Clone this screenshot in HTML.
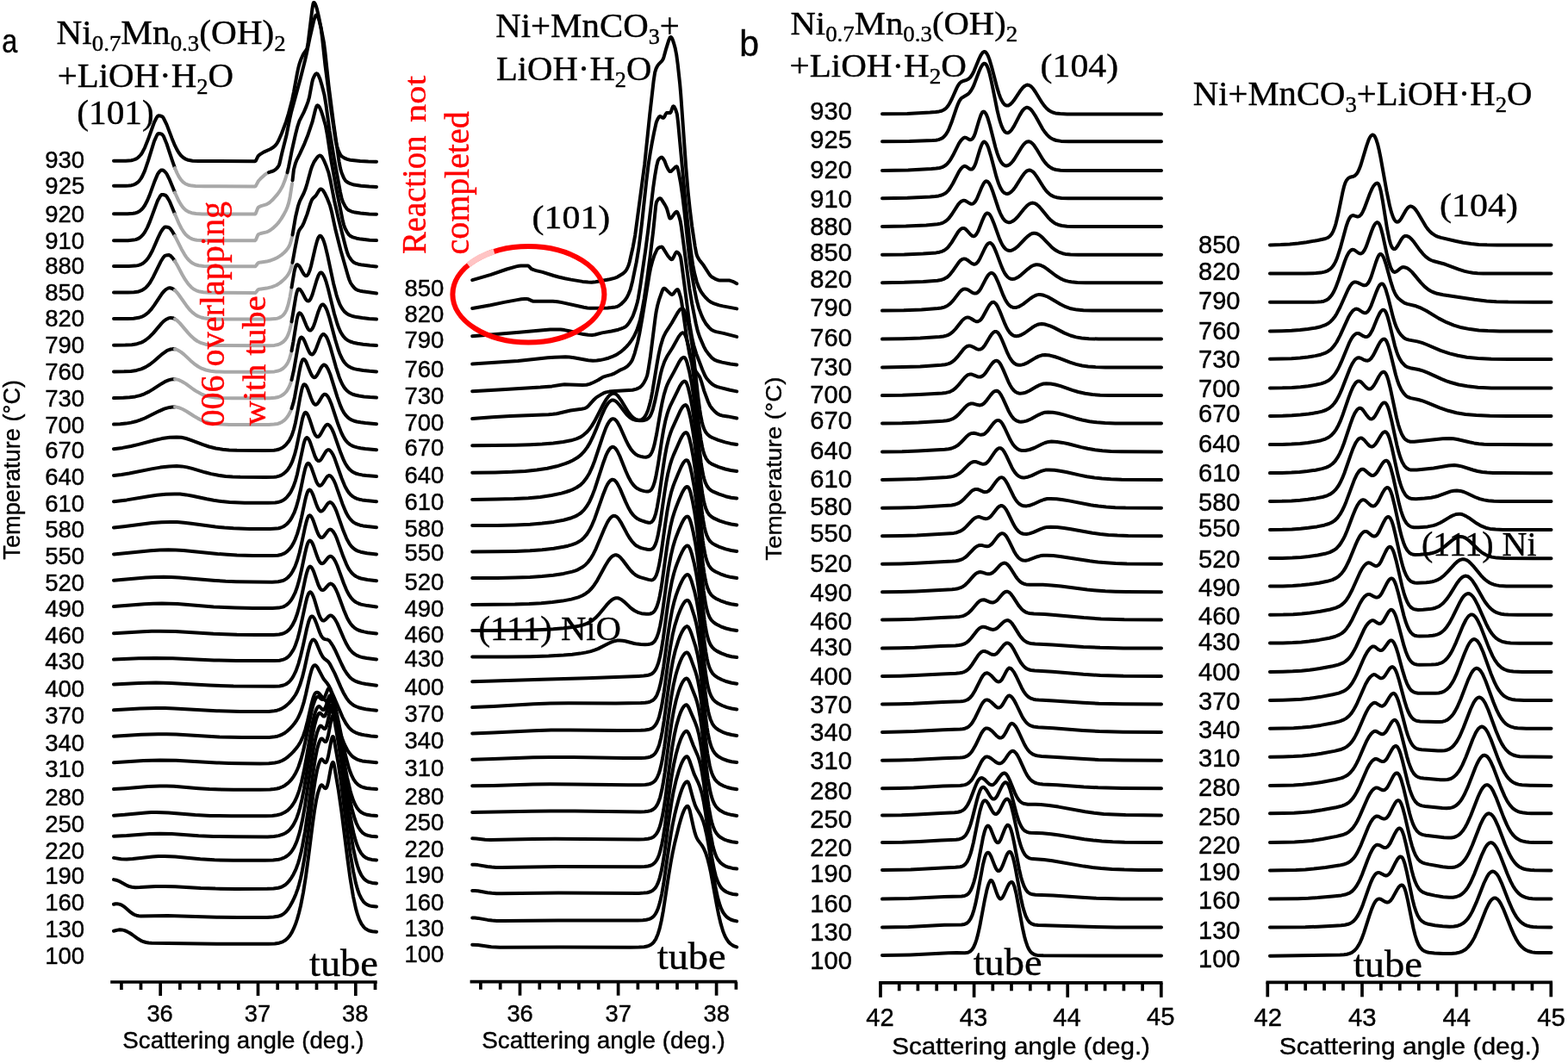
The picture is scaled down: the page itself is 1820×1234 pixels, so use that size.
<!DOCTYPE html><html><head><meta charset="utf-8"><title>XRD</title><style>html,body{margin:0;padding:0;background:#fff;width:1820px;height:1234px;overflow:hidden}svg{display:block}.g{stroke:#a8a8a8}</style></head><body><svg xmlns="http://www.w3.org/2000/svg" width="1820" height="1234" viewBox="0 0 1820 1234">
<rect width="100%" height="100%" fill="#fff"/>
<g fill="none" stroke="#000" stroke-width="4.00" stroke-linejoin="round" stroke-linecap="round">
<path d="M132.0,186.7 146.0,186.7 152.5,186.2 155.5,185.4 157.5,184.7 160.0,183.1 161.5,181.8 163.5,179.5 165.0,177.3 168.0,171.6 172.0,161.6 179.0,142.0 182.0,136.2 183.0,134.8 184.0,134.3 186.0,134.5 188.0,135.1 189.0,135.9 190.0,137.5 193.5,144.6 199.5,160.4 203.0,168.9 205.5,173.9 207.5,177.2 210.0,180.5 212.5,182.8 215.5,184.7 218.5,185.8 223.5,186.7 230.5,187.0 296.0,187.2 296.5,187.0 297.0,186.4 299.5,181.4 300.0,180.8 302.0,179.1 306.0,176.6 314.0,173.0 317.5,170.8 319.5,169.0 320.5,167.8 322.0,165.6 323.5,162.8 327.0,154.8 332.0,141.4 335.0,131.6 339.0,116.2 341.0,106.6 345.0,84.9 346.5,77.9 347.5,74.2 349.5,68.5 351.5,64.0 352.5,62.1 355.5,58.0 356.5,55.7 357.5,50.4 362.5,9.8 363.5,4.2 364.0,3.0 364.5,3.0 365.0,3.3 366.0,4.9 367.0,7.5 368.0,10.9 370.0,19.5 372.5,32.1 374.0,43.7 377.5,76.2 383.5,122.1 389.5,162.6 391.0,169.6 392.5,174.0 394.5,178.5 395.5,180.2 396.5,181.4 399.5,183.4 403.0,184.9 406.5,185.7 418.0,186.9 427.5,187.5 437.0,187.7"/>
<path d="M132.0,215.8 146.0,215.7 149.5,215.6 152.5,215.2 155.5,214.3 157.5,213.4 160.0,211.6 161.5,210.1 163.5,207.4 165.0,204.9 168.0,198.3 172.0,186.7 179.0,163.9 182.0,157.2 183.0,155.6 183.5,155.1 184.0,155.0 186.0,155.2 188.0,155.9 189.0,156.9 190.0,158.6 193.5,167.0 199.5,185.2 203.0,195.1"/>
<path class="g" d="M203.0,195.1 205.5,200.9 207.5,204.8 210.0,208.6 212.5,211.3 215.5,213.5 218.5,214.7 222.5,215.6 227.0,216.0 237.0,216.2 296.0,216.4 296.5,216.2 297.0,215.6 300.0,210.0 302.5,207.3 307.0,203.2 309.5,201.4 311.5,200.3"/>
<path d="M312.0,200.1 317.0,198.5 318.5,197.7 320.0,196.7 321.5,195.2 323.0,193.2 324.0,191.5 324.5,189.9 327.5,176.7 332.5,156.9 336.5,137.0 338.0,130.6 348.5,91.9 354.0,70.2 356.0,61.5 360.0,42.2 364.0,25.0 365.5,19.8 366.5,17.8 367.0,17.5 367.5,17.6 368.5,18.7 369.5,20.8 370.5,23.9 373.0,34.3 376.0,49.7 377.5,61.6 381.5,99.1 387.0,142.1 393.5,187.3 395.0,195.4 396.5,200.5 399.0,206.5 401.0,209.8 403.0,211.4 406.5,213.2 411.0,214.6 419.0,215.7 428.5,216.6 437.0,216.9"/>
<path d="M132.0,248.2 148.0,248.2 154.5,247.7 157.5,247.2 160.0,246.3 162.0,245.1 164.0,243.5 166.0,241.4 168.0,238.5 171.0,232.8 173.5,226.9 179.5,210.4 183.0,202.1 184.0,200.6 185.5,198.8 186.5,197.9 187.5,197.4 188.5,197.4 190.0,198.1 192.0,199.9 193.5,201.9 197.0,208.9 203.0,223.5"/>
<path class="g" d="M203.0,223.5 207.5,233.3 210.0,237.5 212.0,240.3 214.5,243.0 216.5,244.6 219.5,246.2 222.5,247.2 227.5,248.0 234.5,248.4 296.0,248.5 296.5,248.2 297.0,247.4 299.0,242.1 300.0,240.5 303.0,239.1 309.0,237.4 311.5,236.1 313.5,234.6 316.0,232.3 322.0,225.6 325.0,221.4 328.0,216.0 330.5,209.8 333.0,202.0"/>
<path d="M333.5,200.3 335.0,193.9 339.0,173.7 343.0,156.0 345.5,146.3 347.5,140.4 352.5,130.7 355.5,123.6 357.5,118.1 359.0,113.0 362.0,96.8 363.0,92.5 363.5,91.1 365.0,87.9 366.0,86.3 367.0,85.4 367.5,85.3 368.0,85.5 368.5,85.8 369.5,87.2 371.5,91.9 373.5,98.6 376.5,110.2 378.5,122.2 382.5,151.5 388.0,185.0 395.0,223.1 396.5,229.8 398.0,234.3 400.5,239.3 402.5,242.2 404.0,243.6 407.5,245.3 412.0,246.6 418.5,247.5 428.5,248.5 437.0,248.8"/>
<path d="M132.0,279.3 148.5,279.2 155.0,278.6 157.5,278.1 160.5,277.0 162.5,275.7 164.5,274.0 166.0,272.4 168.0,269.6 171.0,264.1 174.0,257.1 182.5,234.1 183.5,231.9 185.5,228.4 186.5,226.9 187.5,226.0 188.0,225.9 189.5,226.0 192.0,226.7 192.5,227.0 193.5,228.1 196.0,232.2 197.5,235.2 203.0,248.5"/>
<path class="g" d="M203.0,248.5 208.0,260.2 210.5,265.0 213.0,269.0 215.5,272.2 218.0,274.5 220.5,276.2 223.5,277.6 226.0,278.2 228.5,278.7 236.0,279.1 296.0,279.2 296.5,278.9 297.0,278.2 299.0,273.4 300.0,272.0 302.5,271.0 309.5,269.4 311.5,268.5 314.0,267.0 317.5,264.3 321.0,261.0 323.5,258.1 326.5,253.9 329.5,248.9 332.0,244.1 333.5,240.5 335.0,236.0 336.5,229.5 339.0,213.2"/>
<path d="M339.5,209.4 341.0,196.7 343.0,189.4 344.5,185.6 348.0,178.7 353.5,166.6 357.0,157.8 362.5,141.7 366.0,127.5 367.0,124.3 368.0,122.5 368.5,122.3 369.5,122.8 371.0,124.8 373.0,129.4 375.0,135.6 378.0,146.3 380.0,157.1 384.0,183.9 390.0,217.4 397.5,254.7 399.0,260.8 400.5,265.0 403.0,269.7 405.0,272.5 407.0,274.2 409.5,275.3 414.0,276.7 419.0,277.6 429.0,278.7 437.0,279.1"/>
<path d="M132.0,309.1 149.5,309.1 157.0,308.6 160.0,308.1 162.5,307.4 165.0,306.2 167.0,304.9 170.0,302.0 172.0,299.5 173.5,297.2 177.0,290.7 183.5,275.9 186.5,269.7 187.5,268.0 189.5,265.3 190.5,264.2 191.5,263.5 192.5,263.4 194.5,263.7 196.0,264.1 197.0,264.8 198.0,265.9 200.5,269.4 203.0,273.8"/>
<path class="g" d="M203.0,273.8 210.5,288.9 214.0,295.1 216.0,298.1 218.0,300.7 219.5,302.3 221.5,304.1 223.5,305.5 226.0,306.8 228.0,307.5 230.5,308.2 236.5,308.9 246.0,309.2 296.0,309.3 296.5,309.1 297.5,308.0 299.0,305.8 300.0,305.0 303.0,304.4 309.5,303.6 314.5,302.2 318.0,300.9 321.5,299.2 324.5,297.4 327.0,295.6 329.5,293.5 332.0,291.0 333.5,289.1 335.0,286.9 336.0,285.0 337.0,282.4 339.0,274.9"/>
<path d="M339.5,272.6 343.0,252.0 346.0,239.2 348.0,233.4 352.5,224.5 354.5,219.6 356.5,213.0 360.5,198.2 362.0,193.6 364.5,188.0 367.5,183.6 369.0,181.8 370.0,181.0 371.0,180.6 372.0,180.7 373.0,181.4 374.0,182.6 376.0,186.2 378.5,192.2 381.5,200.7 383.5,209.3 388.0,232.7 393.5,256.6 401.5,287.9 403.0,293.0 404.5,296.8 406.5,300.0 408.5,302.6 410.5,304.5 412.5,305.6 416.0,306.7 420.5,307.6 430.0,308.8 437.0,309.4"/>
<path d="M132.0,339.5 148.5,339.5 155.5,339.2 161.0,338.4 165.0,336.9 167.5,335.3 169.5,333.7 172.0,330.9 174.0,328.2 178.0,321.2 186.5,303.8 189.5,299.0 191.0,297.2 192.0,296.6 194.0,296.2 196.0,296.0 197.0,296.3 198.0,297.0 200.5,299.6 203.0,303.2"/>
<path class="g" d="M203.0,303.2 205.5,307.4 211.5,318.7 215.0,324.7 218.5,329.7 222.0,333.4 224.0,335.1 226.0,336.3 228.0,337.3 230.5,338.2 236.0,339.3 243.5,339.8 295.0,340.1 296.5,339.9 297.5,338.9 299.0,336.8 300.0,336.0 303.0,335.4 309.5,334.6 315.5,333.1 321.0,331.0 325.0,328.4 328.0,325.9 331.0,323.0 333.0,320.7 334.5,318.6 336.0,316.0 337.0,313.6 339.0,306.8"/>
<path d="M339.5,304.7 342.5,288.1 345.0,275.5 346.0,271.1 347.0,268.0 348.0,266.2 351.0,262.1 353.0,257.8 356.5,248.6 360.5,235.7 362.0,232.0 363.5,230.0 366.0,227.7 367.0,226.5 370.0,221.5 371.0,220.2 372.0,219.5 373.0,219.6 374.0,220.2 375.0,221.2 377.0,224.3 379.5,229.6 383.0,238.4 385.0,246.0 389.5,267.1 395.5,290.7 404.0,320.5 405.5,325.0 407.0,328.5 409.0,331.5 411.0,333.9 413.0,335.7 415.0,336.8 418.0,337.7 421.0,338.3 437.0,340.6"/>
<path d="M132.0,370.0 147.5,370.0 155.0,369.7 161.0,368.8 165.5,367.3 168.0,365.9 170.5,364.1 172.5,362.4 175.0,359.7 179.0,354.4 188.0,340.9 190.5,337.9 192.5,336.1 195.0,334.6 196.0,334.3 197.5,334.3 200.0,335.0 201.5,335.9 203.0,337.0"/>
<path class="g" d="M203.0,337.0 205.0,339.1 207.0,341.5 216.5,354.9 219.0,358.1 221.5,360.9 224.0,363.2 227.0,365.5 230.0,367.2 233.5,368.5 236.5,369.3 240.0,369.8 248.5,370.4 313.0,370.6 319.5,370.1 322.0,369.6 324.0,368.9 326.0,367.9 327.5,366.9 329.0,365.5 330.5,363.6 332.5,359.9 334.5,353.9 336.5,345.1 338.5,333.5"/>
<path d="M338.5,333.5 341.5,315.6 343.0,309.6 344.0,307.6 344.5,307.2 345.5,307.3 347.0,308.5 348.5,310.7 352.0,317.2 353.0,318.7 354.0,319.7 355.0,320.2 356.0,320.1 357.0,319.3 358.0,317.7 359.5,314.1 361.0,309.0 366.0,287.3 368.0,279.8 369.0,277.0 370.0,275.0 371.0,273.9 371.5,273.7 372.0,273.8 373.0,274.5 374.5,276.8 376.0,280.5 377.5,285.4 380.0,295.7 387.0,328.7 390.5,342.3 392.0,347.0 394.0,352.3 395.5,355.5 397.5,358.8 400.0,361.9 402.5,364.0 405.5,365.7 409.0,367.0 414.0,368.1 420.5,369.1 428.5,370.0 437.0,370.6"/>
<path d="M132.0,400.7 145.5,400.6 153.0,400.2 159.0,399.2 164.0,397.6 166.5,396.4 169.0,394.8 173.5,391.2 178.0,386.6 187.5,375.4 190.0,372.9 192.5,371.0 195.5,369.4 198.0,368.9 200.5,369.2 203.0,370.3"/>
<path class="g" d="M203.0,370.3 205.5,372.0 208.5,374.9 218.5,386.6 222.0,390.3 225.5,393.5 229.0,396.0 233.5,398.2 238.5,399.7 244.5,400.6 253.0,401.0 311.5,401.3 318.5,400.9 323.0,400.0 326.0,398.7 328.5,397.0 331.0,394.5 333.0,391.6 334.5,388.4 336.0,384.1 337.5,378.2 338.5,373.4"/>
<path d="M338.5,373.4 343.5,343.7 344.5,339.4 345.5,336.6 346.0,335.8 346.5,335.6 347.5,335.7 348.5,336.3 350.5,339.1 354.0,345.8 355.5,348.1 356.5,349.1 357.5,349.5 358.5,349.3 359.0,349.0 360.5,347.0 362.5,342.3 367.5,325.5 369.5,320.0 370.5,318.1 371.5,316.9 372.5,316.4 373.0,316.5 374.0,317.2 375.5,319.3 377.0,322.5 378.5,326.8 381.0,335.7 388.0,364.3 391.5,376.0 393.0,380.1 395.0,384.7 396.5,387.4 398.5,390.4 401.0,393.1 403.5,395.0 406.5,396.5 410.0,397.7 415.0,398.8 421.5,399.8 429.0,400.6 437.0,401.1"/>
<path d="M132.0,431.5 144.0,431.3 152.0,430.9 158.5,429.9 164.0,428.4 169.0,426.1 174.0,423.0 178.5,419.5 188.5,410.8 193.0,407.6 195.5,406.3 198.0,405.5 200.5,405.1 203.0,405.3"/>
<path class="g" d="M203.0,405.3 204.5,405.7 206.5,406.5 210.0,408.6 213.5,411.4 221.5,418.9 225.5,422.3 230.0,425.5 234.0,427.7 239.0,429.5 244.5,430.7 251.0,431.4 260.5,431.7 312.0,431.8 318.5,431.4 323.0,430.5 326.0,429.3 328.5,427.7 331.0,425.4 333.0,422.8 334.5,420.1 336.0,416.4 337.5,411.4 338.5,407.2"/>
<path d="M338.5,407.2 340.5,396.3 344.5,371.4 345.5,367.0 346.5,364.3 347.0,363.6 347.5,363.3 348.0,363.4 349.0,364.0 350.0,365.2 351.5,367.9 355.5,377.8 357.0,380.8 358.0,382.3 359.0,383.3 360.0,383.6 360.5,383.5 361.0,383.2 362.0,382.2 363.0,380.6 364.0,378.5 365.5,374.4 369.5,361.7 371.5,356.7 372.5,354.9 373.5,353.8 374.5,353.4 375.0,353.5 376.0,354.2 377.5,356.1 378.5,358.0 380.0,361.6 382.5,369.5 389.0,394.0 392.5,405.5 394.0,409.7 396.0,414.3 398.0,418.1 400.0,421.0 402.0,423.2 404.5,425.2 407.5,426.8 411.0,428.1 415.5,429.1 421.5,430.0 429.0,430.8 437.0,431.4"/>
<path d="M132.0,462.1 143.0,461.8 150.5,461.3 157.0,460.4 162.5,459.1 167.5,457.3 173.0,454.6 177.5,451.9 187.5,445.4 192.5,442.6 195.5,441.4 198.0,440.6 200.5,440.2 203.0,440.2"/>
<path class="g" d="M203.0,440.2 205.0,440.4 207.0,440.9 211.0,442.7 215.5,445.4 224.5,452.0 228.5,454.6 233.5,457.3 238.0,459.2 243.5,460.6 250.0,461.6 258.0,462.0 269.5,462.2 313.0,462.2 319.0,461.8 323.0,461.0 325.5,460.0 328.0,458.6 330.5,456.5 332.5,454.3 334.5,451.2 336.0,448.2 337.5,444.2 338.5,440.9"/>
<path d="M338.5,440.9 341.0,429.8 346.0,401.3 347.5,395.1 348.5,392.6 349.0,391.9 349.5,391.6 350.0,391.6 351.0,392.1 352.0,393.2 353.5,396.0 357.5,405.7 359.0,408.8 360.0,410.3 361.0,411.2 362.0,411.5 362.5,411.5 363.0,411.2 364.0,410.3 365.5,407.9 367.0,404.5 371.0,393.9 372.5,390.7 374.0,388.6 375.0,388.0 375.5,387.9 376.5,388.3 378.0,389.8 379.5,392.3 381.0,395.8 383.5,403.2 390.0,426.3 393.5,437.2 395.0,441.1 397.0,445.5 399.0,449.0 401.0,451.7 403.0,453.8 405.5,455.8 408.5,457.3 412.0,458.5 416.5,459.5 422.5,460.4 429.5,461.1 437.0,461.6"/>
<path d="M132.0,492.6 139.5,492.2 146.0,491.6 152.0,490.6 157.5,489.3 162.5,487.7 168.0,485.5 184.5,477.3 190.5,474.7 194.0,473.6 197.0,472.9 200.0,472.5 203.0,472.4"/>
<path class="g" d="M203.0,472.4 205.0,472.6 207.5,473.2 212.0,475.0 216.5,477.5 225.5,483.3 229.5,485.6 234.5,488.1 239.0,489.8 244.0,491.1 250.0,492.1 257.0,492.6 266.0,492.9 312.0,492.9 318.0,492.6 322.5,491.9 325.0,491.0 327.5,489.7 330.0,487.9 332.0,485.9 334.0,483.3 335.5,480.9 337.0,477.9 338.5,474.2"/>
<path d="M338.5,474.2 340.5,467.6 342.0,461.2 347.5,431.2 349.0,424.0 350.0,420.4 351.0,418.0 351.5,417.4 352.0,417.0 352.5,417.0 353.0,417.1 354.0,418.0 355.5,420.4 360.0,431.7 361.5,435.0 363.0,437.2 364.0,438.0 364.5,438.2 365.0,438.2 366.0,437.8 367.5,436.2 369.0,433.8 372.5,427.0 374.5,424.3 375.5,423.6 376.5,423.5 377.5,424.0 379.0,425.5 381.0,428.9 383.5,435.1 391.5,460.9 395.0,470.6 397.0,475.1 399.0,478.8 401.0,481.7 403.5,484.4 405.5,486.0 408.0,487.4 410.5,488.5 414.0,489.5 418.5,490.3 424.0,491.1 437.0,492.2"/>
<path d="M132.0,521.2 142.0,519.9 152.0,518.0 161.0,515.9 179.5,511.0 188.0,509.1 197.0,507.8 205.0,507.4 210.5,507.8 216.0,509.0 221.5,510.8 235.5,516.1 242.5,518.5 250.5,520.5 258.5,521.7 266.0,522.4 275.0,522.8 307.5,523.0 318.0,522.7 321.0,522.3 324.0,521.5 326.5,520.4 328.5,519.2 330.5,517.7 332.5,515.6 334.5,513.1 336.0,510.8 337.5,508.0 339.0,504.6 341.0,498.5 343.0,490.4 345.0,480.2 348.5,460.5 350.0,453.3 351.0,449.6 352.0,447.2 352.5,446.5 353.0,446.2 353.5,446.2 354.5,446.7 356.0,448.9 357.5,452.3 361.0,462.0 362.5,465.6 364.0,468.2 365.5,469.6 366.0,469.8 367.0,469.7 368.5,468.6 370.0,466.6 374.0,460.0 375.0,458.8 376.0,458.0 377.0,457.7 378.0,457.9 379.0,458.6 380.5,460.3 382.5,463.9 384.5,468.7 392.5,492.8 396.0,501.9 398.0,506.0 400.0,509.5 402.0,512.2 404.0,514.3 406.0,515.9 408.5,517.4 411.0,518.4 414.5,519.4 418.5,520.3 424.0,521.0 437.0,522.2"/>
<path d="M132.0,552.0 141.0,550.9 150.0,549.5 177.0,544.1 186.0,542.6 196.0,541.4 205.0,541.1 211.0,541.4 217.0,542.4 223.0,543.9 238.0,548.3 245.0,550.1 253.5,551.8 262.0,552.9 270.0,553.5 279.0,553.8 308.5,554.0 318.0,553.7 321.0,553.4 324.0,552.6 326.5,551.6 328.5,550.4 330.5,548.8 332.5,546.9 334.5,544.4 336.5,541.3 338.0,538.5 339.5,535.1 342.0,527.7 344.0,520.0 351.0,486.4 352.0,482.9 353.0,480.4 354.0,479.0 354.5,478.8 355.0,478.9 356.0,479.6 357.5,482.0 359.5,487.2 364.0,500.9 366.0,505.1 367.5,506.7 368.0,507.0 369.0,507.1 370.0,506.6 371.0,505.6 372.5,503.4 376.5,496.1 378.0,494.1 379.0,493.2 380.0,492.8 381.0,493.0 382.0,493.6 383.5,495.2 385.5,498.6 387.5,503.1 395.5,525.8 399.0,534.4 400.5,537.4 402.5,540.8 404.5,543.5 406.5,545.6 408.5,547.3 411.0,548.7 413.5,549.8 416.5,550.6 420.5,551.4 425.0,552.1 437.0,553.1"/>
<path d="M132.0,582.3 147.0,580.4 172.0,576.2 182.0,574.8 192.5,573.7 202.5,573.4 209.0,573.6 216.0,574.4 223.5,575.8 240.0,579.3 248.0,580.8 257.0,582.1 266.5,583.0 284.0,583.7 311.0,583.8 319.5,583.5 322.5,583.0 325.0,582.4 327.5,581.3 329.5,580.2 331.5,578.6 333.5,576.6 335.5,574.1 337.5,571.1 340.5,564.9 343.0,557.8 345.0,550.4 352.5,515.4 353.5,512.0 354.5,509.6 355.5,508.3 356.0,508.1 356.5,508.1 357.5,508.8 359.0,511.1 360.5,514.8 365.5,529.5 367.5,533.5 369.0,534.9 369.5,535.1 370.5,535.1 372.0,534.1 373.5,532.1 378.0,524.5 379.0,523.3 380.0,522.5 381.0,522.1 382.0,522.3 383.0,522.9 384.5,524.5 386.5,527.8 388.5,532.3 396.5,555.0 400.0,563.6 401.5,566.6 403.5,570.0 405.5,572.7 407.5,574.8 409.5,576.4 411.5,577.6 414.0,578.8 417.0,579.7 420.5,580.4 425.0,581.1 437.0,582.2"/>
<path d="M132.0,612.5 143.5,611.2 176.5,607.1 187.5,606.2 197.5,605.9 205.5,606.1 213.5,606.8 222.0,607.8 250.0,611.6 260.5,612.6 271.0,613.3 289.5,613.9 313.5,614.0 321.0,613.6 323.5,613.2 326.0,612.5 328.5,611.5 330.5,610.3 332.5,608.7 334.5,606.8 336.5,604.3 338.5,601.2 341.5,595.2 344.0,588.3 346.5,579.3 349.0,568.2 352.5,551.2 354.0,544.9 355.0,541.7 356.0,539.3 357.0,538.0 357.5,537.8 358.0,537.8 359.0,538.5 360.5,540.8 362.0,544.3 367.0,558.6 368.0,560.7 369.0,562.3 370.5,563.7 371.0,563.8 372.0,563.7 373.5,562.6 375.0,560.6 379.0,554.3 380.0,553.1 381.0,552.3 382.0,552.0 383.0,552.2 384.0,552.8 385.5,554.4 387.5,557.8 389.5,562.3 397.5,584.9 401.0,593.5 402.5,596.5 404.5,599.9 406.5,602.6 408.5,604.7 410.5,606.4 412.5,607.6 415.0,608.7 418.0,609.7 421.5,610.4 426.0,611.1 437.0,612.3"/>
<path d="M132.0,643.4 174.5,639.2 185.5,638.5 195.5,638.3 204.0,638.5 213.0,639.0 252.5,643.0 263.5,643.8 275.0,644.4 293.5,644.9 315.5,645.1 322.5,644.7 327.0,643.7 329.5,642.7 331.5,641.5 333.5,639.9 335.5,637.9 337.5,635.5 339.0,633.3 341.0,629.7 342.5,626.5 345.0,619.9 347.5,611.2 350.0,600.6 354.0,581.6 355.5,575.6 356.5,572.4 357.5,570.1 358.5,568.9 359.0,568.6 359.5,568.6 360.5,569.2 362.0,571.5 363.5,574.9 367.0,585.0 368.5,588.8 370.0,591.6 371.5,593.2 372.0,593.5 373.0,593.6 374.5,592.8 376.0,591.1 380.0,585.2 381.0,584.1 382.0,583.3 383.0,583.0 384.0,583.2 385.5,584.4 386.5,585.5 388.5,588.9 390.5,593.4 398.5,616.1 402.0,624.6 403.5,627.6 405.5,631.1 407.5,633.8 409.5,635.9 411.5,637.5 413.5,638.8 416.0,639.9 418.5,640.7 426.0,642.3 437.0,643.5"/>
<path d="M132.0,673.8 169.0,670.5 180.0,669.9 190.0,669.7 198.5,669.9 208.0,670.4 250.0,673.9 262.0,674.7 274.0,675.2 293.5,675.6 316.0,675.7 323.0,675.3 327.5,674.3 330.0,673.3 332.0,672.1 334.0,670.5 336.0,668.4 338.0,665.9 339.5,663.5 342.5,657.6 345.0,650.8 347.5,642.0 350.0,631.2 354.0,612.3 356.0,604.3 357.0,601.4 358.0,599.4 358.5,598.8 359.5,598.3 360.0,598.4 361.0,599.2 362.5,601.7 364.0,605.3 367.5,615.5 369.0,619.3 370.5,622.1 372.0,623.7 372.5,624.0 373.5,624.1 375.0,623.4 376.5,621.8 380.5,616.4 381.5,615.4 382.5,614.8 383.5,614.6 384.5,614.9 385.5,615.7 387.0,617.4 389.0,620.8 391.0,625.3 398.5,646.3 402.0,654.8 403.5,657.9 405.5,661.4 407.5,664.1 409.5,666.3 411.5,668.0 413.5,669.3 416.0,670.5 419.0,671.5 426.5,673.0 437.0,674.2"/>
<path d="M132.0,704.1 167.5,701.2 178.0,700.7 188.0,700.5 196.5,700.7 206.0,701.1 248.0,704.4 260.5,705.1 273.0,705.6 293.5,706.0 316.5,706.0 323.5,705.6 328.0,704.6 330.0,703.8 332.0,702.6 334.0,701.1 336.0,699.1 338.0,696.5 339.5,694.2 342.5,688.2 345.0,681.3 347.5,672.4 350.0,661.5 354.0,642.5 356.0,634.3 357.0,631.2 358.0,629.0 359.0,627.8 359.5,627.6 360.0,627.6 361.0,628.2 362.5,630.4 364.0,633.9 368.0,645.6 369.5,649.3 371.0,652.2 372.5,653.8 373.0,654.1 374.0,654.2 375.5,653.6 377.0,652.1 381.0,647.1 382.0,646.3 383.0,645.8 384.0,645.8 385.0,646.2 386.0,647.0 387.5,648.8 389.5,652.2 391.5,656.7 399.0,677.3 402.0,684.6 404.0,688.6 405.5,691.2 407.5,694.0 409.5,696.3 411.5,698.0 413.5,699.3 416.0,700.5 419.0,701.6 426.5,703.1 437.0,704.4"/>
<path d="M132.0,735.2 165.5,733.2 176.0,732.8 185.5,732.7 203.5,733.1 248.0,735.8 275.0,736.7 297.0,736.9 317.5,736.9 324.0,736.5 328.5,735.5 330.5,734.6 332.5,733.5 334.5,731.9 336.5,729.8 339.5,725.5 342.5,719.5 345.0,712.5 347.5,703.5 349.5,694.8 354.5,671.1 356.0,665.1 357.0,661.8 358.0,659.5 359.0,658.0 360.0,657.6 360.5,657.7 361.5,658.5 363.0,661.0 364.5,664.6 369.5,679.0 371.5,683.0 373.0,684.7 373.5,684.9 374.5,685.1 376.0,684.6 377.5,683.2 381.5,678.7 382.5,678.0 383.5,677.6 384.5,677.7 385.5,678.2 386.5,679.1 388.0,680.9 390.0,684.5 392.0,689.0 399.0,707.9 402.5,716.3 404.0,719.3 406.0,722.7 407.5,724.8 409.5,727.1 411.5,728.8 413.5,730.2 416.0,731.5 419.0,732.5 422.5,733.4 426.5,734.2 437.0,735.4"/>
<path d="M132.0,765.6 161.0,764.2 180.0,763.9 200.5,764.3 248.5,766.4 274.5,767.0 318.5,767.1 324.5,766.7 329.0,765.6 331.5,764.5 333.5,763.2 335.5,761.4 337.0,759.7 340.0,755.2 341.5,752.3 343.0,748.7 345.5,741.3 347.5,733.8 354.5,701.3 356.0,695.2 357.0,691.9 358.0,689.4 359.0,687.9 360.0,687.3 360.5,687.4 361.5,688.2 362.5,689.8 363.5,692.0 365.0,696.2 370.0,712.8 371.5,716.5 373.0,719.1 374.5,720.4 375.5,720.6 376.5,720.3 378.0,719.1 381.5,715.5 382.5,714.8 383.5,714.4 385.0,714.7 387.0,716.4 389.0,719.1 391.5,723.6 399.0,741.0 402.0,747.3 405.0,752.4 406.5,754.5 408.5,756.7 410.5,758.5 413.0,760.2 415.5,761.4 418.0,762.3 421.5,763.3 425.5,764.0 437.0,765.5"/>
<path d="M132.0,794.4 161.5,792.9 181.0,792.6 198.0,793.0 243.0,795.5 271.0,796.5 318.0,796.8 324.5,796.5 329.0,795.5 331.5,794.5 333.5,793.2 335.5,791.6 337.0,790.0 339.0,787.4 340.5,785.0 343.5,778.8 346.5,770.3 349.0,761.3 352.0,748.6 356.0,730.3 358.0,722.5 359.0,719.5 360.0,717.2 361.0,715.8 362.0,715.4 362.5,715.4 363.5,716.1 364.5,717.4 365.5,719.3 367.0,722.9 371.0,734.0 372.5,737.4 373.5,739.1 374.5,740.4 376.0,741.6 377.5,742.1 380.0,742.5 381.5,743.2 382.5,744.1 384.0,746.1 386.5,750.0 389.0,754.7 396.5,771.0 399.5,777.0 402.5,781.8 405.5,785.6 407.5,787.5 410.0,789.3 413.0,790.9 416.0,792.0 420.0,793.1 424.5,794.0 437.0,795.7"/>
<path d="M132.0,824.3 162.5,822.5 181.5,822.0 191.5,822.1 202.5,822.5 251.5,825.2 279.0,825.9 301.5,826.0 312.0,825.9 318.5,825.3 321.5,824.7 324.0,823.9 327.0,822.6 330.0,820.8 332.5,818.9 335.5,816.1 338.5,812.8 341.0,809.5 343.0,806.5 345.0,802.8 348.0,795.6 351.0,785.9 353.5,775.7 357.5,757.5 359.5,749.7 360.5,746.7 361.5,744.5 362.5,743.0 363.5,742.5 364.0,742.5 365.0,743.1 366.0,744.3 367.0,745.9 372.0,757.7 374.5,762.4 376.5,764.7 381.0,768.2 383.0,771.0 388.5,781.6 395.5,797.6 398.5,803.9 402.0,810.1 405.0,814.1 407.5,816.5 410.0,818.4 413.0,820.0 416.0,821.2 420.0,822.3 424.5,823.2 430.5,824.1 437.0,824.7"/>
<path d="M132.0,854.7 164.0,852.7 183.5,852.2 193.5,852.3 204.5,852.6 254.0,855.4 281.0,856.0 302.0,856.1 312.5,856.0 319.0,855.3 322.0,854.7 324.5,853.9 327.5,852.6 330.5,850.9 333.0,849.0 336.0,846.3 339.0,843.2 342.0,839.5 344.5,835.9 346.5,832.3 349.5,825.4 352.5,815.9 355.0,805.8 359.5,785.5 361.5,778.2 362.5,775.5 363.5,773.5 364.5,772.4 365.5,772.2 366.0,772.3 367.0,772.9 368.5,774.8 375.0,787.1 376.5,789.3 380.0,793.6 382.0,796.7 387.0,807.8 397.5,832.4 401.5,839.8 405.0,844.6 407.5,847.1 410.0,849.0 413.0,850.6 416.0,851.7 420.0,852.8 424.5,853.6 430.5,854.4 437.0,855.0"/>
<path d="M132.0,885.3 166.5,883.0 186.0,882.4 204.5,882.8 251.5,885.4 265.5,885.9 281.0,886.2 301.5,886.4 312.0,886.2 319.0,885.5 322.0,884.9 324.5,884.2 327.5,883.0 330.5,881.3 333.5,879.2 337.0,876.1 340.5,872.6 344.0,868.5 346.5,865.1 349.0,860.9 352.0,854.2 354.5,846.6 357.0,836.9 361.5,817.2 363.5,810.1 364.5,807.4 365.5,805.4 366.5,804.2 367.0,803.9 368.0,803.7 369.0,803.9 370.5,805.1 375.5,811.1 380.5,815.8 382.5,818.7 384.0,821.9 387.0,829.6 396.0,854.4 399.0,862.0 401.0,866.5 403.0,870.3 404.5,872.7 406.5,875.4 408.5,877.6 411.0,879.6 414.0,881.3 417.0,882.5 420.5,883.4 425.0,884.1 437.0,885.2"/>
<path d="M132.0,916.1 145.5,915.2 172.0,913.0 185.5,912.4 193.5,912.4 202.0,912.8 230.5,915.2 243.0,916.0 256.0,916.4 271.0,916.7 302.0,916.7 313.5,916.4 318.0,916.0 321.5,915.5 324.5,914.7 327.5,913.5 330.5,911.9 333.5,909.7 336.0,907.4 338.5,904.6 341.0,901.1 343.0,897.7 345.0,893.6 346.5,890.0 349.5,881.0 352.0,871.5 355.0,858.2 361.5,826.3 363.5,818.5 365.5,812.8 366.5,810.9 367.5,809.6 368.5,808.8 369.0,808.6 369.5,808.7 370.5,809.3 372.5,811.2 373.5,811.9 374.5,812.1 375.5,811.5 377.0,809.1 380.5,800.3 381.5,798.8 382.0,798.5 382.5,798.5 383.0,799.0 383.5,799.9 387.5,813.8 391.0,828.7 398.5,865.5 401.5,878.9 405.0,891.7 406.5,896.1 408.5,900.9 410.5,904.8 413.0,908.4 415.5,910.9 418.5,912.8 421.5,914.0 425.5,915.0 430.5,915.6 437.0,916.1"/>
<path d="M132.0,946.7 144.5,945.8 169.0,943.4 175.5,943.0 181.5,942.9 195.5,943.4 226.5,946.0 244.0,946.9 268.0,947.3 308.5,947.3 316.0,947.0 321.5,946.3 326.0,945.1 330.0,943.3 333.0,941.4 335.5,939.2 338.0,936.5 340.0,933.8 342.0,930.5 344.0,926.4 346.0,921.3 347.5,916.8 350.0,907.7 353.0,894.0 356.0,877.8 361.0,848.3 363.0,837.9 365.0,829.6 366.5,825.0 367.5,822.8 368.5,821.1 369.5,820.1 370.0,820.0 370.5,820.0 371.5,820.7 373.5,823.0 374.5,823.9 375.5,824.0 376.5,823.3 378.0,820.5 381.5,809.6 382.5,807.7 383.0,807.3 383.5,807.3 384.0,807.9 384.5,809.0 389.0,827.5 393.0,847.5 400.0,887.3 403.0,902.9 406.5,917.8 408.0,923.0 410.0,928.9 412.0,933.5 414.5,937.9 417.0,941.0 419.5,943.1 422.5,944.7 426.0,945.8 430.5,946.5 437.0,947.0"/>
<path d="M132.0,970.7 147.0,970.0 173.5,968.0 185.5,967.7 199.5,968.1 230.5,970.2 248.0,970.9 273.0,971.3 310.5,971.4 318.0,971.0 323.5,970.1 328.0,968.7 332.0,966.7 334.5,964.8 337.0,962.3 339.0,959.8 341.0,956.7 343.0,952.7 344.5,949.2 346.5,943.4 348.0,938.3 350.5,928.0 353.0,915.4 356.0,897.6 363.0,852.8 365.0,842.5 367.0,834.9 368.0,832.1 369.0,830.0 370.0,828.4 371.0,827.7 371.5,827.8 372.5,828.4 374.5,830.8 375.5,831.6 376.5,831.6 377.5,830.6 379.0,826.8 382.5,813.2 383.5,810.7 384.0,810.2 384.5,810.1 385.0,810.7 385.5,811.9 386.0,813.9 389.5,830.2 392.0,843.2 395.0,860.8 402.0,905.4 405.5,925.2 408.5,939.0 411.5,949.8 413.5,955.3 416.0,960.5 418.5,964.2 421.0,966.8 424.0,968.8 427.0,969.9 431.0,970.8 437.0,971.3"/>
<path d="M132.0,995.9 140.5,997.3 147.0,997.5 154.0,997.0 177.0,994.4 184.0,994.0 191.0,994.0 203.5,994.6 232.5,997.3 249.0,998.3 271.0,998.8 307.5,998.8 317.0,998.5 323.5,997.7 326.0,997.1 328.5,996.2 331.0,995.0 333.0,993.8 335.5,991.7 337.5,989.6 339.5,986.8 341.5,983.4 343.5,979.1 345.0,975.2 347.0,968.9 348.5,963.2 351.0,952.0 354.0,935.4 364.0,868.8 366.0,858.3 368.0,850.4 370.0,845.3 371.0,843.5 372.0,842.6 373.0,842.8 375.5,845.4 376.5,846.0 377.0,846.0 377.5,845.7 378.0,845.1 379.0,842.9 380.0,839.4 383.0,824.9 384.0,821.0 385.0,818.8 385.5,818.7 386.0,819.2 386.5,820.5 387.0,822.6 392.0,849.0 395.5,871.3 402.5,921.5 405.5,941.3 409.0,960.5 410.5,967.2 412.5,974.9 414.5,981.0 416.5,985.8 419.0,990.3 421.5,993.3 424.5,995.6 427.5,997.0 431.5,997.9 437.0,998.5"/>
<path d="M132.0,1021.1 135.0,1021.7 138.0,1022.8 146.5,1027.5 149.5,1028.9 153.0,1029.8 157.0,1030.2 162.5,1030.1 180.5,1029.1 191.5,1029.0 203.5,1029.3 233.0,1031.0 250.0,1031.6 274.0,1031.9 310.0,1031.8 317.5,1031.5 323.0,1030.7 325.5,1030.0 327.5,1029.3 331.0,1027.2 333.5,1025.0 336.0,1022.1 338.5,1018.6 340.5,1015.2 342.5,1011.2 344.0,1007.7 346.0,1002.1 347.5,997.1 349.5,989.2 351.0,982.2 354.0,965.5 357.5,941.7 364.0,892.9 366.0,880.1 368.0,870.0 370.0,862.9 371.5,859.3 372.5,857.7 373.0,857.4 373.5,857.4 374.0,857.6 376.5,860.4 377.5,861.1 378.0,861.0 378.5,860.7 379.5,858.9 381.0,853.6 384.5,835.3 385.5,831.9 386.0,831.0 386.5,830.8 387.0,831.3 387.5,832.7 388.0,835.0 393.0,863.7 396.5,887.9 403.5,942.4 406.5,963.9 410.0,984.7 413.0,998.4 415.0,1005.4 417.0,1011.0 419.5,1016.1 422.0,1019.6 423.5,1021.1 425.0,1022.3 428.0,1023.9 432.0,1024.9 437.0,1025.5"/>
<path d="M132.0,1049.8 134.0,1049.3 136.0,1049.2 138.5,1049.6 140.5,1050.3 142.5,1051.4 144.5,1052.8 151.5,1058.9 154.5,1061.0 156.5,1062.1 158.5,1062.7 161.0,1063.2 163.5,1063.4 194.5,1063.0 251.5,1064.7 276.5,1064.9 310.0,1064.9 317.5,1064.5 322.5,1063.8 326.5,1062.5 329.5,1060.6 332.0,1058.3 334.0,1055.8 336.5,1052.0 339.0,1047.6 341.5,1042.4 343.5,1037.7 345.5,1032.1 347.0,1027.1 349.0,1019.4 350.5,1012.5 354.0,992.7 357.5,968.2 364.0,917.9 366.0,904.8 368.0,894.3 370.0,887.0 371.5,883.3 372.5,881.7 373.0,881.4 373.5,881.3 374.0,881.6 376.5,884.5 377.5,885.2 378.0,885.2 378.5,884.9 379.5,883.2 381.0,878.0 384.5,859.5 385.5,856.1 386.0,855.2 386.5,855.0 387.0,855.6 387.5,857.0 388.0,859.3 393.0,888.5 396.5,913.1 403.5,968.5 406.5,990.3 410.0,1011.4 413.0,1025.3 415.0,1032.5 417.0,1038.1 419.5,1043.2 422.0,1046.8 423.5,1048.3 425.0,1049.5 428.0,1051.1 432.0,1052.1 437.0,1052.6"/>
<path d="M132.0,1080.8 136.5,1079.6 139.0,1079.2 141.5,1079.4 144.5,1080.1 147.5,1081.4 150.5,1083.0 153.5,1085.0 160.5,1090.1 164.5,1092.4 167.0,1093.3 169.5,1094.0 172.5,1094.5 176.0,1094.8 251.5,1095.8 311.5,1095.8 319.0,1095.5 324.0,1094.7 328.0,1093.4 331.5,1091.3 334.0,1089.1 336.5,1086.0 339.0,1081.9 341.0,1077.7 343.0,1072.8 345.0,1066.9 347.0,1059.8 349.0,1051.5 352.0,1036.1 355.0,1017.1 357.5,998.8 363.0,955.5 365.0,941.2 367.0,929.3 369.0,920.3 371.0,914.4 372.0,912.4 372.5,911.7 373.0,911.3 373.5,911.3 374.0,911.5 376.5,914.5 377.5,915.2 378.0,915.2 378.5,914.8 379.0,914.2 380.0,911.7 381.0,907.8 384.0,891.7 385.0,887.3 386.0,885.0 386.5,884.8 387.0,885.3 387.5,886.7 388.0,889.0 393.0,918.2 396.5,942.7 403.5,997.9 406.5,1019.7 410.0,1040.8 413.0,1054.6 415.0,1061.7 417.0,1067.3 419.5,1072.4 422.0,1075.9 423.5,1077.5 425.0,1078.6 428.0,1080.2 432.0,1081.2 437.0,1081.7"/>
<path d="M548.2,325.2 569.7,318.9 588.2,312.5 599.2,309.4 602.2,308.8 604.7,308.5 613.2,308.6 614.2,309.3 616.7,312.1 619.2,313.2 622.2,314.1 629.7,315.9 642.7,320.0 648.2,321.5 655.7,323.2 662.7,324.6 676.2,326.9 682.7,327.6 686.7,327.7 691.2,327.2 707.7,324.2 713.2,322.9 715.2,322.2 716.7,321.5 723.2,317.5 725.7,315.2 727.2,313.1 728.7,310.1 729.7,307.7 730.7,304.2 734.7,286.7 737.2,273.1 748.2,190.8 754.2,133.0 758.7,93.6 760.2,83.8 761.7,79.2 763.2,76.4 764.7,74.4 768.2,70.9 769.7,68.5 770.7,65.6 772.7,58.2 776.2,46.9 777.7,43.5 778.2,43.1 778.7,43.0 779.7,44.0 780.7,46.0 782.2,50.5 783.7,55.9 785.2,63.6 786.7,74.8 789.2,97.8 790.2,109.3 796.2,194.0 798.7,223.3 800.7,242.3 803.2,262.6 806.7,286.0 808.2,293.9 808.7,295.7 809.7,298.2 811.7,301.7 816.7,308.1 823.2,318.3 824.7,320.1 826.2,321.5 830.2,323.8 833.7,325.2 835.7,325.5 846.2,325.6 847.7,325.8 850.7,326.8 855.2,329.2"/>
<path d="M548.2,358.0 569.2,354.2 585.2,350.9 600.2,348.1 605.2,347.3 609.2,346.9 611.2,346.9 612.7,347.2 617.2,349.2 619.2,349.7 641.7,349.7 647.2,350.2 652.2,351.1 677.7,356.8 681.7,357.5 685.2,357.8 705.2,357.5 709.7,357.1 714.2,356.4 716.2,356.0 718.2,355.0 720.7,353.2 723.2,350.8 725.7,348.1 727.7,345.1 729.7,341.1 731.7,336.0 734.2,326.2 738.7,304.4 741.2,289.4 743.2,274.5 745.2,257.6 750.2,210.7 752.7,190.6 754.7,177.7 756.7,166.4 759.2,153.7 761.7,142.3 762.2,140.8 763.7,137.6 765.2,135.4 765.7,135.1 766.7,135.1 769.2,136.7 770.2,136.9 771.2,135.6 772.7,132.4 773.7,131.1 777.7,131.1 778.2,130.9 778.7,130.0 780.7,124.4 781.2,123.5 781.7,123.3 782.2,123.5 782.7,124.1 784.2,127.2 785.7,131.9 786.2,134.8 787.2,143.6 795.7,235.1 800.2,277.6 802.7,297.3 804.2,307.6 806.2,317.6 808.7,327.1 811.2,333.7 812.7,336.8 814.2,339.4 816.7,342.8 819.2,345.7 821.7,348.2 823.7,349.8 825.7,351.0 828.7,352.4 834.7,354.4 839.2,355.4 855.2,358.4"/>
<path d="M548.2,390.2 602.7,385.8 630.2,383.2 638.7,382.6 646.2,382.4 650.7,382.5 655.2,383.1 660.7,384.2 677.2,388.1 682.7,388.8 687.2,389.0 690.7,388.5 698.7,386.4 709.7,384.5 717.7,382.7 720.7,381.7 723.7,380.5 725.7,379.5 727.2,378.3 728.7,376.6 730.7,373.8 733.2,369.6 734.7,366.6 737.7,358.3 739.7,351.2 740.7,346.9 743.2,332.0 749.2,290.9 752.2,267.8 758.2,217.8 760.2,203.8 762.2,192.4 763.7,186.5 764.7,184.9 766.2,183.4 767.2,182.8 768.2,182.6 769.2,183.3 771.2,186.3 773.7,192.9 775.7,196.9 777.2,198.9 777.7,199.1 778.2,199.1 779.2,198.6 783.7,194.1 785.2,193.3 785.7,193.4 786.2,194.1 787.2,197.5 790.2,213.4 792.2,227.5 794.2,243.7 799.7,294.5 801.2,306.4 802.7,316.5 806.2,336.6 808.7,348.8 811.2,357.9 814.2,365.9 816.7,371.3 819.2,375.6 823.2,380.4 825.2,382.3 826.7,383.3 828.2,384.1 831.2,385.1 839.7,386.9 855.2,390.9"/>
<path d="M548.2,422.6 601.2,418.9 635.7,415.3 643.7,414.7 650.7,414.4 656.2,414.3 660.7,414.6 666.2,415.3 682.7,418.2 688.2,418.7 692.7,418.6 696.2,418.1 700.7,417.1 706.2,415.7 710.2,414.2 714.2,412.4 717.2,410.7 720.2,408.7 723.7,405.8 727.2,402.4 730.2,399.0 733.2,394.9 735.7,390.8 737.7,386.7 739.7,381.9 741.7,376.0 743.2,370.5 745.2,360.9 747.7,346.8 751.2,323.4 754.7,296.9 758.2,268.3 761.2,238.8 761.7,235.8 762.2,234.1 764.2,231.2 765.2,230.4 766.2,230.2 767.2,230.8 768.2,232.1 771.7,237.6 773.2,240.4 774.2,242.7 776.7,251.8 777.2,253.0 777.7,253.6 778.7,253.3 779.7,252.4 783.2,247.5 784.2,246.4 785.2,245.8 785.7,245.8 786.2,246.2 786.7,247.1 788.2,251.2 789.7,256.7 790.7,262.6 800.2,334.6 803.2,352.7 807.7,375.5 809.7,384.0 812.2,391.4 816.7,401.8 819.2,406.6 822.7,411.4 826.2,415.3 829.2,417.6 833.2,419.3 838.2,420.6 847.7,422.5 855.2,423.4"/>
<path d="M548.2,454.2 582.7,452.3 627.2,449.6 640.7,448.4 651.2,446.7 655.2,446.3 661.2,446.4 676.2,447.0 680.7,446.8 684.2,445.9 688.7,444.0 694.2,441.3 698.2,438.7 700.2,437.6 703.2,436.6 709.7,434.9 712.2,433.9 719.2,429.9 724.7,427.5 727.2,425.9 729.2,424.2 731.2,422.0 733.2,419.2 734.2,417.1 736.7,410.1 740.2,397.2 742.2,387.7 745.7,368.0 753.7,318.6 755.2,311.1 757.2,303.4 759.7,295.8 762.7,289.5 763.7,288.2 764.2,287.9 766.2,286.9 767.7,286.6 768.2,286.6 769.2,287.4 775.2,297.0 777.7,299.9 779.2,301.1 779.7,301.2 780.2,301.0 780.7,300.5 781.7,298.8 783.7,294.5 784.7,293.0 785.2,292.6 786.2,292.7 787.2,293.5 788.7,295.7 789.7,297.8 790.2,299.9 791.2,306.3 800.2,374.8 803.2,392.0 805.2,400.8 808.2,410.6 815.2,429.0 818.2,435.9 820.2,439.2 823.7,443.3 826.7,446.0 829.7,447.9 832.2,448.9 835.7,449.9 847.2,452.8 855.2,454.4"/>
<path d="M548.2,486.1 571.2,484.3 592.2,483.0 636.7,481.2 641.7,480.8 646.2,480.2 662.2,476.5 675.2,474.7 678.2,474.1 679.7,473.6 681.2,472.7 683.2,470.9 689.7,463.7 692.2,461.4 698.7,457.4 701.2,456.1 703.2,455.4 707.2,454.6 713.7,453.9 734.2,452.8 738.7,451.6 742.7,449.7 745.2,447.4 747.2,444.6 749.7,439.9 751.2,435.9 752.2,431.0 754.7,415.4 760.7,368.3 761.7,361.6 763.2,354.5 765.2,347.3 768.7,337.5 769.7,335.5 770.2,335.0 770.7,334.7 771.2,334.8 772.2,335.3 778.2,341.1 779.7,342.0 780.2,342.0 781.2,341.4 784.7,337.0 785.7,336.2 786.2,336.0 786.7,336.2 787.7,337.7 790.2,345.7 791.2,350.8 797.7,396.2 800.2,410.3 801.7,416.9 803.7,422.9 805.7,427.4 807.7,431.0 811.7,436.9 812.7,438.9 814.2,443.3 817.2,453.6 821.7,465.8 824.2,471.1 826.2,473.9 829.2,477.3 831.7,479.5 834.2,481.1 835.7,481.7 838.2,482.4 844.7,483.4 855.2,485.5"/>
<path d="M548.2,517.2 598.2,516.7 615.2,516.2 629.2,515.5 642.2,514.4 653.7,513.0 662.7,511.3 669.2,509.4 673.2,507.7 677.2,505.1 680.7,502.1 683.7,498.7 686.7,494.6 690.2,488.9 700.2,469.5 703.7,463.6 705.7,460.8 707.7,458.7 709.7,457.3 711.7,456.6 713.2,456.7 714.7,457.4 716.2,458.5 717.7,460.1 720.7,464.3 729.2,478.2 732.2,482.2 734.7,484.7 737.7,486.7 740.2,487.6 741.7,487.7 743.2,487.6 744.7,487.1 745.7,486.5 747.2,485.2 748.2,484.1 750.2,480.8 752.2,476.0 754.2,469.1 755.7,462.6 757.2,454.8 762.7,421.6 764.7,410.7 766.7,401.9 769.2,393.6 770.7,389.8 772.7,385.9 779.7,375.0 786.7,362.7 789.2,359.4 790.7,358.4 791.7,358.1 792.7,358.4 793.7,359.6 794.7,361.6 796.2,365.8 799.2,377.5 801.7,389.9 803.7,402.6 805.2,414.2 810.2,460.1 812.2,475.6 813.2,481.9 814.7,489.4 815.7,493.3 817.2,497.8 819.2,501.8 821.2,504.3 823.7,506.4 826.7,508.0 833.7,510.8 841.7,513.4 848.2,514.9 855.2,515.9"/>
<path d="M548.2,548.8 574.7,548.4 594.2,547.8 609.7,546.9 623.2,545.6 635.2,543.8 646.2,541.3 656.2,538.2 660.7,536.4 664.7,534.5 669.7,531.6 674.2,528.1 678.2,523.9 681.7,519.1 684.7,514.1 688.2,507.0 691.7,498.9 698.7,481.6 702.2,474.0 704.2,470.5 706.2,467.7 708.2,465.7 710.2,464.6 711.7,464.5 713.2,464.9 714.7,465.7 716.2,467.0 718.7,469.8 724.7,477.8 727.7,481.5 730.7,484.3 733.7,486.4 735.7,487.2 737.7,487.8 742.2,488.3 745.2,488.2 747.7,487.9 749.7,487.3 751.2,486.6 753.2,484.9 754.7,482.8 756.2,479.7 757.7,475.5 760.2,465.8 766.7,434.6 768.7,427.1 771.2,419.9 774.2,413.8 780.7,403.5 787.7,390.9 790.2,387.6 791.7,386.5 792.7,386.3 793.7,386.6 794.7,387.9 795.7,390.0 796.7,392.8 798.2,398.2 799.7,404.5 802.2,417.1 804.2,429.8 805.7,441.4 810.7,488.1 812.7,504.4 813.7,511.1 815.2,519.2 816.2,523.3 817.7,528.1 819.7,532.4 821.7,535.2 824.2,537.4 827.2,539.2 834.2,542.1 841.7,544.5 848.2,546.0 855.2,547.0"/>
<path d="M548.2,579.9 576.2,579.5 596.7,579.0 613.2,578.2 627.2,576.9 640.2,575.0 651.7,572.6 657.2,571.0 661.7,569.5 665.7,567.8 669.2,566.0 673.7,563.0 677.2,559.6 680.7,555.1 684.2,549.2 687.2,542.7 690.2,535.0 699.7,506.4 703.2,496.9 705.2,492.6 707.2,489.3 709.2,487.1 710.7,486.3 712.2,486.2 713.7,486.9 715.2,488.3 716.7,490.3 719.7,495.8 726.2,510.3 729.2,516.4 732.2,521.4 735.2,525.0 737.2,526.8 739.2,528.2 741.2,529.1 743.7,529.9 746.7,530.5 749.7,530.7 751.7,530.3 753.2,529.6 754.2,528.7 755.2,527.6 756.7,524.9 758.2,521.0 759.7,515.6 762.2,503.5 766.7,477.2 768.7,466.7 770.7,458.1 773.2,449.9 774.7,446.1 776.7,441.9 782.2,431.9 788.2,420.4 789.7,418.0 791.2,416.1 792.7,415.1 793.7,414.8 794.7,415.2 795.7,416.5 796.7,418.7 797.7,421.7 800.2,431.7 802.7,444.5 804.7,457.2 806.2,468.8 811.7,521.0 813.7,537.1 814.7,543.7 816.2,551.5 817.2,555.5 818.7,560.2 820.7,564.3 822.7,567.0 825.2,569.2 828.2,570.9 834.7,573.7 842.2,576.2 848.7,577.7 855.2,578.6"/>
<path d="M548.2,610.1 577.2,609.9 598.2,609.4 615.2,608.7 629.2,607.6 642.7,605.9 654.2,603.7 663.2,601.2 667.2,599.6 670.2,598.1 674.2,595.5 677.7,592.1 681.2,587.5 684.2,582.4 687.2,575.9 690.2,568.1 699.7,538.8 703.2,529.2 705.2,524.9 707.2,521.6 709.2,519.5 710.7,518.8 712.2,519.0 713.7,519.9 715.2,521.6 716.7,524.0 719.7,530.2 726.2,546.5 729.2,553.2 732.2,558.8 735.2,563.0 737.2,565.1 739.2,566.7 741.7,568.1 744.2,569.1 747.7,570.1 750.7,570.6 752.7,570.5 754.7,569.6 755.7,568.7 756.7,567.4 758.2,564.4 759.7,559.9 761.2,553.8 763.7,540.2 768.2,510.7 770.2,498.9 772.2,489.1 774.7,479.8 776.2,475.4 778.2,470.6 788.7,449.1 790.7,445.7 792.2,443.9 793.7,442.8 794.7,442.6 795.7,443.0 796.7,444.3 797.7,446.7 798.7,449.8 801.2,460.3 803.7,473.9 805.7,487.4 807.2,499.7 812.2,548.5 814.2,565.4 815.2,572.4 816.7,580.7 817.7,585.1 819.2,590.1 821.2,594.6 823.2,597.5 825.7,599.8 828.7,601.7 835.2,604.6 842.2,606.9 848.7,608.5 855.2,609.4"/>
<path d="M548.2,640.5 577.2,640.3 598.2,639.9 615.2,639.3 629.2,638.3 642.7,636.8 654.2,634.8 659.2,633.7 663.7,632.4 667.2,631.2 670.2,629.8 674.2,627.4 677.7,624.3 681.2,620.1 684.2,615.3 687.2,609.3 690.2,602.2 699.7,575.1 703.2,566.2 705.2,562.2 707.2,559.2 709.2,557.3 710.7,556.7 712.2,556.9 713.7,557.8 715.2,559.4 716.7,561.6 719.7,567.4 726.2,582.6 729.2,589.0 732.2,594.2 735.2,598.2 737.2,600.2 739.2,601.7 741.7,603.1 744.2,604.2 749.7,606.0 752.7,606.7 754.7,606.7 756.2,606.0 757.2,605.1 758.2,603.8 759.7,600.6 761.2,595.8 762.7,589.2 765.2,574.6 769.7,542.9 771.7,530.0 773.7,519.3 776.2,509.0 778.2,502.8 780.2,497.6 789.2,477.8 791.2,474.1 792.7,472.0 794.2,470.6 795.7,470.1 796.7,470.6 797.7,472.0 798.7,474.5 799.7,477.8 801.7,486.4 804.2,500.1 806.2,513.7 807.7,526.0 813.2,580.4 815.2,597.2 816.2,603.9 817.7,612.1 818.7,616.3 820.2,621.1 822.2,625.4 824.2,628.3 826.7,630.6 829.7,632.4 835.7,635.2 842.2,637.4 848.7,639.0 855.2,640.0"/>
<path d="M548.2,671.1 577.2,671.0 598.2,670.6 615.2,670.0 629.2,669.1 642.2,667.8 654.2,665.9 664.2,663.6 668.2,662.3 671.2,661.1 675.7,658.6 679.2,656.0 682.7,652.3 685.7,648.3 688.7,643.2 691.7,637.1 701.2,614.4 704.7,607.0 706.7,603.6 708.7,601.0 710.7,599.4 712.2,598.8 713.7,598.9 715.2,599.5 716.7,600.8 718.2,602.5 721.2,607.2 727.7,619.4 730.7,624.5 733.7,628.7 737.2,632.3 739.2,633.8 741.7,635.1 744.2,636.1 747.2,636.9 751.2,637.7 753.7,638.0 755.7,637.8 757.2,637.1 758.2,636.2 759.2,634.9 760.7,632.0 762.2,627.6 763.7,621.5 766.2,607.6 771.2,573.0 773.2,560.4 775.2,550.0 777.7,539.9 779.7,533.6 781.7,528.4 789.7,510.3 791.7,506.5 793.2,504.2 794.7,502.7 796.2,502.1 797.2,502.4 798.2,503.7 799.2,506.0 800.2,509.1 802.2,517.5 804.7,530.9 806.7,544.3 808.2,556.3 813.7,610.2 815.7,627.2 816.7,634.1 818.2,642.4 819.2,646.8 820.7,651.8 822.7,656.3 824.7,659.2 827.2,661.6 830.2,663.5 836.2,666.3 842.7,668.6 848.7,670.1 855.2,671.1"/>
<path d="M548.2,701.9 597.7,701.6 614.2,701.1 628.2,700.3 641.2,699.1 652.7,697.6 663.2,695.6 671.2,693.3 675.7,691.5 679.7,689.2 683.2,686.6 686.7,683.0 689.7,679.2 693.2,673.8 702.7,656.5 706.2,650.8 708.2,648.2 710.2,646.2 712.2,644.8 713.7,644.3 715.2,644.3 716.7,644.7 718.2,645.5 720.2,647.2 723.2,650.7 729.2,658.8 732.2,662.5 735.2,665.5 738.2,667.8 740.7,669.2 743.2,670.2 752.7,672.9 755.7,673.4 757.2,673.2 758.2,672.7 759.2,671.9 760.2,670.7 761.7,667.8 763.2,663.4 764.7,657.3 766.2,649.5 767.7,640.1 772.2,608.0 774.7,591.8 776.7,581.3 779.2,571.1 781.2,564.8 783.2,559.4 787.2,549.7 790.7,541.8 792.7,538.0 794.2,535.9 795.7,534.5 797.2,534.2 798.2,534.7 799.2,536.4 800.2,538.9 801.2,542.3 803.2,551.1 805.7,564.9 807.7,578.6 809.2,590.9 814.2,640.0 816.2,657.2 817.2,664.3 818.7,672.8 819.7,677.3 821.2,682.4 823.2,687.1 825.2,690.2 827.7,692.6 830.7,694.7 836.2,697.3 842.7,699.7 848.7,701.2 855.2,702.2"/>
<path d="M548.2,732.0 598.2,731.8 615.2,731.5 629.2,731.0 642.2,730.3 654.2,729.3 664.7,728.0 672.7,726.5 677.2,725.4 681.2,723.9 684.7,722.1 688.2,719.8 691.2,717.3 694.7,713.7 704.2,702.2 707.7,698.4 709.7,696.7 711.7,695.4 713.7,694.5 715.2,694.2 716.7,694.2 718.2,694.5 721.2,696.0 724.2,698.3 730.7,704.4 733.7,707.0 736.7,709.0 740.2,710.8 744.7,712.2 750.2,712.8 752.7,712.8 754.7,712.5 756.2,712.0 757.7,711.2 759.2,709.9 760.2,708.6 762.2,704.8 764.2,698.6 765.7,692.2 767.2,684.1 768.7,674.5 773.7,638.0 775.7,624.8 778.2,611.3 780.7,601.1 782.7,594.6 784.7,589.0 788.2,580.1 791.2,573.2 793.2,569.3 794.7,567.0 796.2,565.5 797.7,565.0 798.7,565.4 799.7,566.8 800.7,569.2 801.7,572.5 803.7,581.0 806.2,594.5 808.2,608.0 809.7,620.0 814.7,668.7 816.7,686.0 817.7,693.2 819.2,702.0 820.2,706.6 821.7,711.9 823.7,716.7 825.7,719.9 828.2,722.4 831.2,724.5 836.7,727.3 842.7,729.5 848.7,731.0 855.2,732.0"/>
<path d="M548.2,762.5 588.7,762.5 615.7,762.2 636.7,761.6 654.2,760.6 664.2,759.7 673.2,758.6 680.2,757.4 685.7,756.1 690.2,754.7 694.2,753.1 706.2,747.0 709.7,745.4 713.2,744.2 716.2,743.6 719.2,743.4 722.7,743.7 725.7,744.3 736.2,747.0 739.7,747.6 743.7,748.0 748.7,748.2 752.7,748.0 755.7,747.4 757.7,746.4 759.2,745.1 760.2,743.9 762.2,740.3 764.2,734.7 766.2,726.4 767.7,718.3 769.2,708.8 774.2,672.2 776.2,658.8 778.7,645.1 781.2,634.6 783.2,627.9 785.2,622.2 788.2,614.6 791.2,607.7 793.2,603.9 794.7,601.7 796.2,600.2 797.7,599.6 798.7,599.8 799.7,601.0 800.7,603.2 801.7,606.0 803.2,611.5 804.7,618.0 807.2,630.9 809.2,644.0 810.7,655.9 815.7,703.7 817.7,720.1 818.7,726.9 820.2,735.0 821.2,739.2 822.7,744.1 824.7,748.5 826.7,751.4 829.2,753.9 832.2,755.9 837.2,758.4 843.2,760.7 849.2,762.2 855.2,763.1"/>
<path d="M548.2,791.2 573.2,790.6 628.2,788.7 681.2,787.3 741.2,784.9 747.2,784.6 751.2,784.1 754.2,783.3 756.7,782.1 758.2,780.9 759.7,779.2 761.2,776.9 762.2,774.9 764.2,769.5 766.2,761.7 767.7,754.1 769.7,741.7 774.7,705.2 777.2,688.8 779.7,675.6 782.2,665.5 784.2,659.0 786.2,653.4 789.2,646.0 791.7,640.6 793.7,637.0 795.2,635.0 796.7,633.8 798.2,633.4 799.2,634.0 800.2,635.5 801.2,637.7 802.7,642.1 805.7,653.7 808.2,666.1 809.7,675.5 811.2,686.8 816.2,733.4 818.2,749.9 819.2,756.6 820.7,764.9 821.7,769.2 823.2,774.2 825.2,778.7 827.2,781.8 829.7,784.3 832.7,786.4 837.7,789.0 843.7,791.3 849.2,792.7 855.2,793.7"/>
<path d="M548.2,821.1 572.7,820.1 619.2,817.3 638.7,816.5 660.2,816.2 714.7,816.4 743.7,816.1 748.7,815.7 752.2,815.2 754.7,814.6 757.2,813.3 758.7,812.2 760.2,810.5 761.7,808.3 762.7,806.3 764.7,800.9 766.7,793.3 768.2,785.9 770.2,773.8 775.7,734.3 777.7,721.3 780.2,708.0 782.7,697.8 784.7,691.2 786.7,685.6 789.2,679.4 791.2,675.1 793.2,671.4 794.7,669.3 795.7,668.2 796.7,667.4 798.2,667.0 799.2,667.5 800.2,668.7 801.2,670.7 802.7,674.6 806.2,686.6 808.7,697.9 810.7,710.0 812.2,721.4 817.2,767.2 819.2,782.9 821.2,794.5 822.2,798.9 823.7,804.0 825.7,808.7 827.7,811.8 830.2,814.4 833.2,816.5 838.2,819.0 843.7,821.1 849.2,822.5 855.2,823.4"/>
<path d="M548.2,851.5 572.7,850.6 619.2,848.2 639.7,847.6 661.7,847.5 717.7,847.9 743.7,847.8 748.7,847.6 752.2,847.1 754.7,846.4 757.2,845.2 758.7,844.0 760.2,842.4 761.7,840.2 762.7,838.3 764.2,834.7 765.2,831.6 767.2,823.6 768.7,816.0 770.7,803.6 775.7,766.9 778.2,750.3 780.7,736.8 783.2,726.4 786.7,715.3 789.2,708.9 791.2,704.4 793.2,700.8 794.7,698.7 796.2,697.3 797.7,696.8 798.7,697.1 799.7,698.2 800.7,700.0 802.2,703.6 806.2,716.2 807.7,721.9 809.2,728.7 811.2,740.4 812.7,751.4 817.7,796.3 819.7,811.9 820.7,818.4 822.2,826.2 823.2,830.4 824.7,835.2 826.7,839.8 828.7,842.8 831.2,845.4 834.2,847.5 838.7,849.8 844.2,851.8 849.2,853.0 855.2,853.9"/>
<path d="M548.2,881.7 572.2,881.1 618.7,879.3 639.2,878.9 665.2,878.9 724.2,879.9 743.7,880.0 748.7,879.7 752.2,879.3 754.7,878.6 757.2,877.4 758.7,876.3 760.2,874.8 761.7,872.6 762.7,870.8 764.2,867.3 765.2,864.3 767.2,856.7 768.7,849.3 770.7,837.1 776.2,796.5 778.7,779.7 781.2,766.1 783.7,755.5 787.2,744.1 789.2,738.8 791.2,734.3 793.2,730.7 794.7,728.7 796.2,727.5 797.2,727.1 797.7,727.1 798.7,727.7 799.7,729.1 801.2,732.1 802.7,736.0 807.2,749.8 809.7,759.9 811.7,771.2 813.2,782.0 818.2,826.0 820.7,845.0 821.7,851.1 823.2,858.5 824.2,862.4 825.7,867.1 827.7,871.4 829.7,874.4 832.2,877.0 835.2,879.1 839.2,881.2 844.2,883.0 849.2,884.3 855.2,885.1"/>
<path d="M548.2,912.3 572.7,911.9 618.7,910.6 638.7,910.3 666.7,910.4 729.2,911.2 743.7,911.2 748.7,911.0 752.2,910.6 755.2,909.8 757.7,908.5 759.2,907.4 760.7,905.8 762.2,903.5 763.2,901.6 764.7,898.0 765.7,895.0 767.7,887.1 769.2,879.5 771.2,867.0 776.7,825.9 779.2,808.9 781.7,795.1 784.2,784.3 785.7,779.0 787.7,772.8 789.7,767.5 791.2,764.1 792.7,761.4 794.2,759.3 795.7,757.9 797.2,757.4 798.2,757.8 799.2,759.0 800.7,761.9 802.2,765.6 807.2,779.5 808.7,784.6 810.2,790.9 812.2,801.9 813.7,812.4 819.2,859.7 821.2,874.6 823.7,888.4 824.7,892.5 826.2,897.4 827.7,901.1 829.7,904.6 832.2,907.5 835.2,909.9 839.2,912.1 844.2,914.0 849.2,915.3 855.2,916.2"/>
<path d="M548.2,943.0 616.7,941.7 639.2,941.4 667.2,941.5 743.2,942.5 748.2,942.3 752.2,941.8 755.2,941.1 757.7,939.9 759.7,938.4 761.2,936.7 762.7,934.4 763.7,932.4 765.2,928.6 766.2,925.5 768.2,917.3 769.7,909.5 771.7,896.8 777.2,855.1 779.7,838.0 782.2,824.0 784.7,813.0 787.7,802.7 789.7,797.3 791.2,793.9 792.7,791.1 794.2,789.1 795.7,787.9 796.7,787.5 797.7,787.8 798.7,788.9 799.7,790.6 801.2,793.9 807.7,810.6 809.2,815.4 810.7,821.5 812.7,832.3 814.2,842.6 819.7,889.1 821.7,904.0 824.2,918.1 825.7,924.2 827.2,928.9 829.2,933.4 831.2,936.5 833.7,939.2 836.2,941.1 840.2,943.3 844.7,944.9 849.7,946.1 855.2,946.9"/>
<path d="M548.2,973.3 552.7,973.4 563.2,974.7 569.2,974.9 618.7,974.0 644.2,973.8 741.2,974.5 747.7,974.3 752.2,973.8 755.7,972.9 758.2,971.7 760.2,970.0 761.7,968.3 763.2,965.9 764.2,963.8 765.7,959.9 766.7,956.6 768.7,948.3 770.2,940.2 772.2,927.3 777.7,884.9 780.2,867.5 782.7,853.3 785.2,842.1 788.2,831.8 789.7,827.6 791.2,824.2 792.7,821.5 794.2,819.5 795.7,818.4 796.7,818.2 797.2,818.4 798.2,819.4 799.7,821.9 806.7,838.1 809.2,845.0 811.2,852.6 813.2,863.2 814.7,873.2 820.2,918.9 822.7,937.1 825.2,950.5 826.2,954.5 827.7,959.4 829.7,964.2 831.7,967.5 834.2,970.4 836.7,972.3 840.2,974.3 844.7,976.0 849.7,977.2 855.2,977.9"/>
<path d="M548.2,1003.8 551.2,1003.8 554.7,1004.1 565.7,1006.0 570.7,1006.6 575.7,1007.0 582.2,1007.1 648.2,1006.1 742.7,1006.3 748.2,1006.0 752.2,1005.5 755.2,1004.7 757.7,1003.4 759.7,1001.8 761.2,1000.0 762.7,997.6 763.7,995.6 765.2,991.7 766.2,988.4 768.2,980.2 769.7,972.3 771.7,959.5 777.2,917.8 779.7,900.7 782.2,886.7 784.7,875.5 787.7,864.8 789.7,859.1 791.2,855.5 792.7,852.6 794.2,850.4 795.7,849.1 796.7,848.7 797.2,848.8 798.2,849.6 799.2,851.2 800.2,853.4 804.7,865.3 810.2,878.0 811.7,882.6 813.2,888.5 814.7,895.9 816.7,908.3 822.2,950.7 824.7,967.8 827.2,980.9 828.7,986.7 830.2,991.3 831.7,994.9 833.7,998.4 836.2,1001.4 838.7,1003.5 841.7,1005.3 845.7,1006.8 850.2,1007.9 855.2,1008.6"/>
<path d="M548.2,1033.9 551.2,1034.0 554.7,1034.3 565.7,1036.2 570.7,1036.8 576.2,1037.2 582.7,1037.3 648.2,1036.6 741.7,1036.9 747.2,1036.6 751.2,1036.2 754.7,1035.3 757.2,1034.0 759.2,1032.3 760.7,1030.6 762.2,1028.2 763.2,1026.2 764.7,1022.3 765.7,1019.1 767.7,1011.0 769.2,1003.2 771.2,990.6 776.7,949.7 779.2,932.9 781.7,919.0 784.7,905.9 788.2,893.9 790.2,888.3 791.7,884.8 793.2,881.9 794.7,879.8 796.2,878.5 797.2,878.2 797.7,878.3 798.7,879.4 800.2,882.5 805.7,898.6 810.7,909.2 812.2,912.9 814.7,921.2 816.7,930.5 818.7,942.3 824.2,981.8 826.7,998.0 829.2,1010.6 830.7,1016.5 832.2,1021.1 833.7,1024.8 835.7,1028.5 837.7,1031.2 840.2,1033.5 843.2,1035.5 846.7,1036.9 850.7,1038.0 855.2,1038.6"/>
<path d="M548.2,1065.6 551.2,1065.6 554.7,1065.9 566.2,1067.9 571.2,1068.5 576.7,1068.9 583.7,1069.0 647.7,1068.4 740.2,1068.5 746.2,1068.3 750.2,1067.8 753.7,1066.9 756.2,1065.7 757.7,1064.6 759.2,1063.1 760.7,1061.1 761.7,1059.3 763.2,1056.1 764.2,1053.5 766.2,1046.6 768.2,1037.6 770.2,1026.2 776.7,981.2 778.7,968.4 780.7,957.3 783.2,945.4 785.2,937.2 787.7,928.0 789.7,921.4 791.7,915.7 793.2,912.2 794.7,909.6 796.2,907.9 797.7,907.3 798.2,907.5 798.7,908.0 800.2,911.4 804.7,928.2 806.7,934.4 808.7,938.8 812.7,945.5 814.2,948.4 816.2,953.4 818.2,960.2 820.2,969.0 822.2,979.7 828.2,1017.3 830.7,1031.3 833.2,1042.6 835.7,1051.1 837.2,1054.9 839.2,1059.0 841.2,1061.9 843.2,1064.1 845.7,1066.1 848.2,1067.5 851.2,1068.5 855.2,1069.4"/>
<path d="M548.2,1096.7 554.7,1097.0 570.2,1099.2 580.2,1099.8 649.7,1099.4 731.7,1099.7 741.7,1099.6 747.7,1099.2 752.2,1098.2 754.2,1097.4 755.7,1096.5 757.2,1095.4 758.7,1093.8 761.2,1090.1 763.7,1084.2 765.7,1077.6 767.7,1068.9 769.7,1058.1 776.2,1015.7 778.7,1000.7 780.7,990.1 783.2,978.4 788.2,958.3 790.2,951.2 792.2,945.0 793.7,941.2 795.2,938.3 796.7,936.4 797.7,935.9 798.2,935.8 798.7,936.1 799.2,936.8 800.7,941.0 805.2,961.6 806.7,967.2 807.7,970.2 808.7,972.6 810.2,975.4 814.7,981.4 816.7,984.7 819.2,990.4 821.2,996.6 823.2,1004.4 825.2,1013.7 831.7,1049.4 834.2,1062.1 836.7,1072.7 839.2,1081.0 840.7,1084.9 842.2,1088.1 843.7,1090.7 845.7,1093.5 847.7,1095.5 849.7,1097.0 852.2,1098.4 855.2,1099.4"/>
<path d="M1024.0,132.3 1053.0,131.9 1079.5,130.5 1086.0,130.0 1090.0,129.4 1093.0,128.7 1095.5,127.5 1097.5,126.1 1099.0,124.6 1100.5,122.7 1102.0,120.3 1105.0,114.5 1110.5,102.1 1112.0,99.3 1113.5,97.1 1114.5,96.0 1116.0,94.9 1118.0,94.0 1122.0,92.8 1124.0,91.7 1126.0,89.9 1127.5,88.0 1129.0,85.5 1130.5,82.6 1136.5,68.1 1138.5,64.0 1140.5,61.1 1141.5,60.3 1142.5,60.0 1143.5,60.2 1144.0,60.5 1145.5,62.3 1147.0,65.2 1148.5,69.1 1151.0,77.5 1157.5,102.4 1159.5,108.9 1161.0,113.0 1162.5,116.3 1164.5,119.7 1166.0,121.3 1167.0,122.0 1168.0,122.5 1169.0,122.6 1170.5,122.4 1172.0,121.6 1173.5,120.4 1175.0,118.9 1177.0,116.3 1184.0,105.8 1187.0,102.0 1188.5,100.5 1190.0,99.5 1191.5,98.8 1193.0,98.6 1194.5,98.9 1196.0,99.7 1197.5,101.0 1199.0,102.7 1202.0,107.0 1209.5,119.2 1212.0,122.7 1214.5,125.5 1217.0,127.8 1219.5,129.4 1222.0,130.5 1225.0,131.4 1230.5,132.1 1238.5,132.4 1348.0,132.4"/>
<path d="M1024.0,164.3 1055.5,164.0 1082.5,163.0 1086.5,162.7 1089.5,162.1 1092.0,161.2 1094.5,159.7 1096.5,157.8 1098.0,155.9 1100.0,152.7 1101.5,149.6 1104.5,142.1 1110.5,124.4 1112.0,120.6 1113.5,117.4 1115.0,115.1 1116.0,113.9 1117.5,112.9 1121.5,110.6 1123.5,109.3 1125.5,107.3 1127.0,105.3 1128.5,102.8 1130.5,98.6 1136.5,82.8 1138.5,78.2 1140.5,75.0 1141.5,74.1 1142.5,73.7 1143.5,73.9 1144.0,74.3 1145.5,76.3 1147.0,79.9 1148.5,84.9 1151.0,95.6 1157.5,128.0 1159.5,136.4 1161.0,141.7 1162.5,146.1 1164.5,150.4 1166.0,152.5 1167.0,153.5 1168.0,154.0 1169.5,154.3 1171.0,153.8 1172.5,152.6 1174.0,151.0 1177.0,146.4 1183.5,133.9 1186.5,128.9 1188.0,127.1 1189.5,125.7 1191.0,125.0 1192.0,124.8 1193.5,125.1 1195.0,125.9 1196.5,127.1 1198.5,129.5 1201.5,134.1 1210.0,149.3 1212.5,153.0 1215.0,156.1 1217.5,158.6 1220.0,160.5 1223.0,162.0 1226.0,163.0 1231.5,163.9 1240.5,164.3 1348.0,164.3"/>
<path d="M1024.0,198.0 1054.0,197.5 1081.0,196.1 1086.5,195.6 1090.5,195.0 1093.5,194.1 1096.0,192.9 1098.0,191.5 1099.5,190.1 1101.5,187.8 1103.0,185.7 1106.0,180.6 1113.0,166.7 1115.0,163.6 1117.0,161.3 1118.5,160.2 1120.0,159.6 1121.5,159.9 1124.5,161.7 1126.0,162.3 1127.5,162.1 1129.0,160.8 1130.5,158.2 1132.0,154.4 1136.5,139.3 1138.5,133.5 1140.0,130.6 1141.0,129.7 1141.5,129.6 1142.5,129.8 1144.0,131.5 1145.0,133.3 1146.5,137.1 1149.0,145.5 1155.5,171.2 1157.5,177.9 1159.0,182.0 1160.5,185.5 1162.5,188.9 1164.5,191.1 1166.5,192.2 1168.0,192.5 1170.0,192.0 1171.5,191.2 1173.5,189.5 1175.5,187.2 1177.5,184.5 1185.0,172.2 1188.0,167.9 1189.5,166.3 1191.0,165.1 1192.5,164.4 1194.0,164.2 1195.5,164.6 1197.0,165.4 1198.5,166.7 1200.0,168.4 1203.0,172.8 1210.5,185.2 1213.0,188.6 1215.0,190.9 1217.5,193.2 1220.0,194.9 1222.5,196.1 1225.5,197.0 1231.0,197.7 1239.0,198.0 1348.0,198.0"/>
<path d="M1024.0,230.2 1053.0,229.7 1079.5,228.4 1085.5,227.9 1089.5,227.4 1093.0,226.5 1095.5,225.4 1097.5,224.2 1099.0,222.9 1101.0,220.8 1102.5,218.8 1106.0,213.0 1113.0,199.3 1115.0,196.3 1117.0,194.2 1118.5,193.2 1120.0,192.8 1121.5,193.3 1125.0,195.9 1126.5,196.6 1128.0,196.6 1129.5,195.4 1131.0,193.0 1132.5,189.5 1137.5,173.2 1139.0,169.0 1140.0,166.9 1141.0,165.4 1142.0,164.6 1142.5,164.6 1143.5,165.0 1145.0,166.7 1146.0,168.6 1147.5,172.3 1150.0,180.6 1156.5,205.2 1158.5,211.5 1160.0,215.4 1161.5,218.6 1163.5,221.8 1165.5,223.8 1167.5,224.8 1169.0,225.0 1171.0,224.5 1172.5,223.6 1174.5,222.0 1176.5,219.8 1178.5,217.1 1186.0,205.2 1189.0,201.1 1190.5,199.6 1192.0,198.4 1193.5,197.7 1195.0,197.5 1196.5,197.9 1198.0,198.7 1199.5,199.9 1201.0,201.6 1204.0,205.9 1211.5,217.8 1214.0,221.1 1216.0,223.3 1218.5,225.6 1221.0,227.2 1223.5,228.3 1226.5,229.2 1232.0,229.9 1240.0,230.2 1348.0,230.2"/>
<path d="M1024.0,262.9 1051.5,262.5 1075.0,261.4 1088.0,260.3 1091.5,259.6 1094.5,258.6 1098.0,256.5 1100.0,254.8 1101.5,253.2 1105.0,248.5 1112.0,237.6 1114.0,235.2 1116.0,233.6 1118.0,232.8 1119.0,232.7 1120.0,232.9 1121.5,233.6 1125.5,236.1 1127.5,236.8 1129.0,236.6 1130.5,235.6 1132.0,233.9 1134.0,230.4 1139.5,217.3 1141.5,213.3 1142.5,211.9 1143.5,210.9 1144.5,210.4 1145.0,210.3 1146.0,210.6 1147.5,211.9 1148.5,213.3 1150.0,216.3 1152.5,222.8 1159.0,242.5 1161.0,247.5 1162.5,250.6 1164.0,253.2 1166.0,255.7 1167.5,257.0 1169.5,257.9 1171.0,258.2 1173.0,257.9 1175.0,257.0 1177.0,255.7 1179.0,254.0 1181.0,251.9 1189.0,242.1 1192.0,238.9 1194.0,237.3 1195.5,236.4 1197.5,235.7 1199.0,235.6 1200.5,235.9 1202.0,236.5 1203.5,237.5 1205.5,239.2 1208.5,242.5 1216.5,252.3 1219.0,254.9 1221.5,257.1 1224.0,258.9 1226.5,260.2 1229.5,261.3 1232.5,262.0 1238.5,262.7 1247.0,262.9 1348.0,262.9"/>
<path d="M1024.0,295.8 1049.5,295.4 1071.5,294.5 1086.5,293.4 1090.5,292.7 1093.5,291.8 1095.5,290.9 1097.5,289.6 1099.5,287.9 1101.0,286.3 1104.5,281.6 1112.0,269.4 1114.0,267.0 1116.0,265.4 1117.5,264.9 1118.5,264.9 1119.5,265.2 1120.5,265.8 1122.5,267.7 1126.5,272.3 1128.5,273.9 1129.5,274.2 1130.5,274.2 1132.0,273.4 1133.5,271.6 1135.5,268.0 1140.5,255.3 1142.5,250.9 1143.5,249.2 1144.5,248.1 1145.5,247.5 1146.0,247.4 1147.0,247.6 1148.5,248.8 1149.5,250.1 1151.0,252.9 1153.5,258.9 1160.0,276.9 1162.0,281.4 1163.5,284.3 1165.0,286.6 1167.0,288.9 1168.5,290.0 1170.5,290.8 1172.0,291.0 1174.0,290.7 1175.5,290.1 1177.5,289.0 1179.5,287.6 1182.0,285.4 1190.0,277.0 1193.5,273.8 1195.5,272.3 1197.5,271.3 1199.5,270.8 1201.0,270.7 1202.5,271.0 1204.5,271.7 1206.0,272.5 1208.0,274.0 1211.0,276.8 1220.0,286.2 1222.5,288.4 1225.0,290.3 1227.5,291.8 1230.5,293.2 1233.5,294.2 1236.5,294.9 1242.5,295.5 1251.5,295.8 1348.0,295.8"/>
<path d="M1024.0,328.2 1049.5,327.8 1071.5,326.9 1088.0,325.7 1092.0,325.0 1095.0,324.1 1098.5,322.3 1100.5,320.8 1102.0,319.4 1105.5,315.1 1113.0,304.3 1115.0,302.2 1117.0,300.9 1119.0,300.4 1121.0,300.8 1123.0,301.9 1127.5,305.5 1129.5,306.5 1130.5,306.7 1131.5,306.7 1132.5,306.3 1133.5,305.7 1135.0,304.1 1137.0,301.0 1143.0,288.5 1145.0,284.9 1147.0,282.7 1148.0,282.1 1149.0,281.9 1150.0,282.2 1151.5,283.5 1152.5,284.8 1154.0,287.5 1156.5,293.4 1162.5,309.4 1164.5,313.9 1166.0,316.8 1167.5,319.1 1169.5,321.5 1171.5,323.0 1173.5,323.8 1175.0,324.0 1177.0,323.8 1178.5,323.3 1180.5,322.4 1182.5,321.2 1185.0,319.3 1193.0,312.3 1196.5,309.6 1198.5,308.5 1200.5,307.7 1202.5,307.2 1204.0,307.2 1206.0,307.4 1208.0,308.0 1212.0,309.9 1215.5,312.3 1225.5,320.0 1231.0,323.4 1234.0,324.8 1237.0,325.9 1240.0,326.6 1243.5,327.3 1250.5,327.9 1260.0,328.2 1348.0,328.2"/>
<path d="M1024.0,360.6 1049.0,360.2 1069.5,359.4 1088.5,358.1 1092.5,357.5 1096.0,356.6 1099.5,355.0 1103.0,352.3 1106.5,348.6 1114.0,338.9 1116.0,337.0 1118.0,335.8 1120.0,335.4 1122.0,335.7 1124.0,336.6 1128.5,339.7 1130.5,340.5 1132.5,340.6 1133.5,340.3 1134.5,339.7 1136.5,337.8 1138.5,334.9 1144.5,323.4 1146.5,320.1 1148.0,318.3 1149.0,317.5 1150.0,317.0 1151.0,316.8 1152.0,317.1 1153.5,318.3 1154.5,319.5 1156.0,322.1 1158.5,327.6 1164.5,342.9 1166.5,347.2 1168.5,350.7 1170.0,352.8 1172.0,354.9 1174.0,356.2 1176.0,356.9 1177.5,357.1 1179.5,356.9 1183.0,355.8 1187.5,353.1 1196.0,346.5 1199.5,344.2 1201.5,343.2 1203.5,342.4 1205.0,342.1 1207.0,342.1 1209.0,342.2 1211.5,342.8 1216.0,344.5 1220.0,346.7 1231.0,353.3 1237.0,356.2 1243.0,358.3 1250.0,359.6 1257.5,360.3 1268.0,360.5 1348.0,360.6"/>
<path d="M1024.0,393.6 1048.0,393.2 1068.0,392.5 1090.5,391.1 1095.0,390.5 1098.5,389.6 1100.5,388.9 1102.5,387.8 1106.0,385.2 1109.0,382.0 1116.5,372.4 1119.0,370.1 1121.0,368.9 1123.0,368.4 1125.0,368.8 1127.0,369.7 1131.0,372.3 1133.0,373.2 1135.0,373.3 1137.0,372.3 1138.5,371.0 1140.5,368.3 1146.5,357.2 1148.5,354.0 1150.0,352.2 1151.0,351.4 1152.0,350.9 1153.0,350.7 1154.0,351.0 1155.5,352.2 1156.5,353.4 1158.0,355.9 1160.5,361.3 1166.5,376.2 1168.5,380.5 1170.5,383.9 1172.0,386.0 1174.0,388.0 1176.0,389.4 1178.0,390.1 1179.5,390.2 1181.5,390.1 1185.0,389.0 1189.5,386.5 1198.0,380.3 1201.5,378.1 1203.5,377.2 1205.5,376.5 1207.0,376.2 1209.0,376.1 1211.5,376.3 1214.0,376.8 1219.0,378.4 1223.5,380.4 1235.5,386.6 1242.5,389.5 1249.0,391.4 1255.5,392.5 1264.0,393.2 1275.0,393.5 1348.0,393.6"/>
<path d="M1024.0,426.5 1048.0,426.1 1068.0,425.4 1092.5,423.8 1097.0,423.3 1100.5,422.4 1102.5,421.7 1104.5,420.6 1108.0,417.9 1111.0,414.7 1118.5,405.3 1120.5,403.4 1122.5,402.0 1124.5,401.5 1125.5,401.4 1127.0,401.7 1129.0,402.6 1133.5,405.1 1135.5,405.7 1137.5,405.6 1139.5,404.7 1141.0,403.4 1143.0,401.0 1149.0,391.0 1151.5,387.4 1153.5,385.6 1154.5,385.0 1155.5,384.9 1156.5,385.0 1158.0,385.9 1159.0,387.1 1160.5,389.3 1163.0,394.5 1169.5,410.2 1171.5,414.2 1173.0,416.8 1175.0,419.5 1177.0,421.5 1179.0,422.8 1181.0,423.6 1182.5,423.8 1184.5,423.8 1186.5,423.4 1188.5,422.8 1193.0,420.8 1202.0,415.4 1205.5,413.6 1209.5,412.3 1213.0,412.0 1218.5,412.6 1224.0,414.0 1229.0,415.7 1242.0,420.7 1249.0,422.9 1256.0,424.5 1263.0,425.5 1271.5,426.1 1283.0,426.4 1348.0,426.5"/>
<path d="M1024.0,459.1 1047.5,458.8 1067.0,458.0 1093.5,456.4 1098.0,455.9 1101.5,455.1 1103.5,454.3 1105.5,453.3 1109.0,450.7 1112.5,447.0 1119.5,438.5 1121.5,436.6 1123.5,435.2 1125.5,434.6 1128.0,434.6 1130.0,435.3 1134.5,437.2 1136.5,437.6 1138.5,437.4 1140.5,436.4 1142.0,435.2 1144.0,432.9 1150.0,424.0 1152.0,421.5 1153.5,420.0 1154.5,419.3 1155.5,418.9 1156.5,418.7 1157.5,418.9 1159.0,419.8 1160.0,420.8 1161.5,423.1 1164.0,428.1 1170.5,443.3 1172.5,447.2 1174.5,450.5 1176.5,452.9 1178.5,454.7 1180.5,455.9 1182.5,456.5 1184.0,456.7 1186.0,456.6 1188.0,456.3 1190.5,455.6 1195.0,453.5 1203.5,448.6 1207.0,446.8 1211.0,445.5 1214.5,445.2 1219.5,445.5 1225.0,446.5 1231.0,448.2 1244.5,452.9 1251.5,455.0 1259.5,456.8 1268.0,458.0 1277.0,458.7 1289.0,459.0 1348.0,459.1"/>
<path d="M1024.0,491.5 1047.0,491.2 1066.0,490.5 1094.5,488.8 1099.0,488.3 1102.5,487.5 1106.5,485.9 1110.0,483.5 1113.5,480.2 1120.5,472.4 1122.5,470.6 1124.5,469.3 1126.5,468.6 1128.5,468.4 1130.5,468.8 1135.0,470.1 1137.0,470.4 1139.0,470.1 1141.0,469.1 1142.5,467.9 1144.5,465.7 1150.0,458.4 1152.0,456.1 1153.5,454.8 1154.5,454.2 1156.5,453.7 1157.5,453.8 1159.0,454.7 1160.0,455.7 1161.5,457.8 1164.0,462.4 1170.5,476.7 1172.5,480.4 1174.5,483.5 1176.5,485.9 1178.5,487.6 1180.5,488.7 1183.0,489.5 1185.0,489.7 1187.0,489.6 1191.5,488.6 1196.5,486.5 1205.5,481.6 1209.0,480.0 1213.0,478.7 1216.5,478.5 1222.0,478.8 1228.0,479.8 1234.5,481.4 1249.0,485.7 1256.0,487.5 1264.5,489.2 1273.0,490.3 1282.5,491.0 1294.5,491.4 1348.0,491.5"/>
<path d="M1024.0,524.5 1047.0,524.2 1065.5,523.5 1096.5,521.7 1101.0,521.2 1104.5,520.5 1108.5,518.9 1112.0,516.7 1115.5,513.5 1122.5,506.2 1124.5,504.5 1126.5,503.4 1128.5,502.9 1130.5,502.8 1132.5,503.2 1136.5,504.4 1138.5,504.8 1140.5,504.6 1142.5,503.8 1144.0,502.7 1146.0,500.7 1152.0,492.8 1154.0,490.4 1155.5,489.1 1156.5,488.4 1157.5,488.1 1158.5,487.9 1159.5,488.1 1161.0,488.9 1162.0,489.9 1163.5,491.9 1166.0,496.5 1172.5,510.3 1174.5,513.9 1176.5,516.8 1178.5,519.1 1180.5,520.8 1183.0,522.2 1185.5,522.9 1187.5,523.1 1190.0,523.0 1195.0,522.0 1200.5,520.0 1209.5,515.5 1213.0,514.0 1217.0,512.9 1220.5,512.6 1227.0,513.0 1233.5,513.9 1240.0,515.3 1255.0,519.1 1262.5,520.8 1271.0,522.2 1279.5,523.3 1289.5,524.0 1301.5,524.3 1348.0,524.5"/>
<path d="M1024.0,556.9 1046.5,556.6 1064.5,556.0 1099.0,554.0 1103.0,553.6 1106.5,552.9 1110.5,551.4 1114.0,549.2 1117.5,546.2 1124.5,539.1 1126.5,537.5 1128.5,536.5 1130.5,536.0 1132.5,536.0 1134.5,536.6 1139.0,538.4 1141.0,538.8 1143.0,538.6 1144.5,537.9 1146.0,536.7 1148.0,534.5 1154.0,525.6 1156.0,523.0 1157.5,521.5 1158.5,520.8 1159.5,520.3 1160.5,520.2 1161.5,520.3 1163.0,521.2 1164.0,522.2 1165.5,524.3 1168.0,528.9 1174.5,542.7 1176.5,546.2 1178.0,548.4 1180.0,550.8 1182.0,552.5 1184.0,553.6 1186.0,554.3 1187.5,554.4 1189.5,554.4 1193.0,553.7 1197.5,552.1 1206.0,548.0 1209.5,546.6 1213.5,545.6 1217.5,545.4 1224.0,545.8 1230.5,546.7 1237.5,548.0 1253.5,551.6 1261.5,553.3 1270.0,554.6 1279.0,555.6 1289.5,556.3 1302.0,556.7 1348.0,556.9"/>
<path d="M1024.0,589.8 1045.5,589.5 1063.5,588.9 1100.5,586.8 1104.5,586.5 1108.0,585.8 1112.0,584.4 1114.0,583.3 1116.0,581.9 1119.5,578.7 1126.5,571.3 1128.5,569.6 1130.5,568.5 1132.5,567.9 1134.5,568.0 1136.5,568.7 1141.0,570.7 1143.0,571.2 1145.0,571.1 1146.5,570.5 1148.0,569.5 1150.0,567.5 1156.0,559.2 1158.0,556.7 1159.5,555.4 1160.5,554.7 1161.5,554.4 1162.5,554.2 1163.5,554.4 1165.0,555.3 1166.0,556.3 1167.5,558.4 1170.0,562.8 1176.5,576.2 1178.5,579.6 1180.0,581.7 1182.0,584.0 1184.0,585.6 1186.0,586.7 1188.0,587.3 1191.5,587.4 1195.0,586.8 1199.5,585.2 1208.0,581.3 1211.5,580.0 1215.5,579.0 1219.5,578.9 1226.5,579.3 1234.0,580.2 1241.0,581.4 1266.0,586.3 1275.0,587.6 1284.0,588.5 1294.5,589.2 1306.5,589.6 1348.0,589.8"/>
<path d="M1024.0,622.3 1046.0,622.0 1064.0,621.4 1103.0,619.2 1107.0,618.9 1110.5,618.2 1114.5,616.7 1116.5,615.6 1118.5,614.2 1121.5,611.4 1129.0,603.4 1131.0,601.8 1133.0,600.6 1135.0,600.1 1137.0,600.1 1142.0,601.8 1144.0,602.2 1146.0,602.0 1147.5,601.4 1149.0,600.4 1151.0,598.4 1156.5,591.2 1158.5,588.9 1160.5,587.5 1161.5,587.1 1162.5,587.0 1163.5,587.2 1165.0,588.1 1166.0,589.1 1167.5,591.1 1170.0,595.5 1176.5,608.8 1178.5,612.2 1180.0,614.3 1182.0,616.6 1184.0,618.2 1186.0,619.3 1188.0,619.8 1191.5,620.0 1195.0,619.4 1199.5,617.8 1208.0,614.1 1211.5,612.8 1215.5,611.9 1219.5,611.7 1227.0,612.1 1235.0,613.0 1243.0,614.2 1268.0,618.7 1277.0,620.0 1286.5,620.9 1297.0,621.6 1309.5,622.0 1348.0,622.3"/>
<path d="M1024.0,654.7 1045.5,654.4 1063.5,653.8 1105.5,651.6 1109.5,651.2 1113.0,650.5 1117.0,649.1 1120.5,646.9 1123.5,644.2 1131.0,636.4 1133.0,634.8 1135.0,633.6 1137.0,633.0 1138.5,632.9 1140.0,633.1 1144.0,634.1 1145.5,634.3 1147.5,634.0 1149.0,633.2 1150.5,632.1 1152.0,630.6 1157.5,623.4 1159.5,621.2 1161.5,619.7 1162.5,619.3 1163.5,619.2 1164.5,619.4 1166.0,620.3 1167.0,621.3 1168.5,623.3 1171.0,627.7 1177.0,639.9 1179.0,643.3 1180.5,645.4 1182.0,647.2 1184.0,648.9 1185.5,649.8 1187.5,650.5 1190.5,650.7 1193.5,650.1 1204.0,646.2 1208.0,645.1 1211.0,644.7 1215.5,644.8 1222.5,645.1 1230.5,645.9 1265.0,651.3 1274.5,652.5 1284.0,653.3 1295.0,654.0 1308.0,654.4 1348.0,654.7"/>
<path d="M1024.0,687.3 1045.5,687.0 1063.0,686.4 1105.0,684.2 1109.0,683.8 1112.0,683.2 1116.0,681.8 1118.0,680.7 1120.0,679.3 1123.5,675.9 1130.5,667.9 1132.5,666.1 1134.0,665.1 1136.0,664.3 1138.0,664.1 1140.0,664.4 1144.5,665.9 1146.5,666.3 1148.5,666.3 1150.0,665.9 1152.0,664.9 1154.0,663.3 1160.0,656.8 1162.0,655.0 1164.0,653.9 1166.0,653.6 1167.0,653.8 1168.5,654.5 1171.0,657.0 1173.0,659.8 1179.0,669.3 1181.0,672.0 1183.0,674.2 1184.5,675.5 1186.5,676.9 1188.5,677.8 1191.0,678.4 1195.5,678.8 1210.5,678.8 1220.5,679.4 1231.5,680.6 1262.0,684.5 1272.5,685.5 1283.0,686.3 1294.5,686.8 1307.5,687.1 1348.0,687.3"/>
<path d="M1024.0,719.5 1044.5,719.2 1061.5,718.7 1092.5,717.0 1109.0,716.3 1113.5,715.9 1116.5,715.4 1118.5,714.8 1120.5,713.9 1124.0,711.6 1127.5,708.2 1134.5,700.0 1136.5,698.1 1138.0,697.1 1140.0,696.4 1142.0,696.3 1144.0,696.8 1150.0,699.3 1152.0,699.6 1153.5,699.3 1155.5,698.3 1157.5,696.7 1163.0,690.2 1165.0,688.3 1167.0,687.0 1168.5,686.7 1169.5,686.8 1171.0,687.5 1172.0,688.2 1173.5,689.7 1176.0,693.1 1182.5,703.1 1186.0,707.3 1188.0,709.0 1190.0,710.3 1192.5,711.4 1195.0,712.0 1200.0,712.6 1212.5,713.1 1221.5,713.7 1258.0,717.1 1278.0,718.5 1305.0,719.3 1348.0,719.5"/>
<path d="M1024.0,752.6 1044.5,752.3 1061.5,751.8 1092.0,750.1 1109.0,749.4 1113.0,749.0 1116.0,748.5 1118.0,747.9 1120.0,747.1 1122.0,745.9 1124.0,744.3 1127.5,740.5 1134.5,731.6 1136.5,729.6 1138.0,728.6 1140.0,727.8 1142.0,727.7 1144.5,728.3 1150.5,730.6 1152.5,730.9 1154.5,730.6 1156.0,730.0 1158.0,728.6 1163.5,723.2 1165.5,721.5 1167.5,720.4 1169.0,720.1 1170.5,720.3 1171.5,720.8 1173.0,721.9 1174.5,723.5 1177.0,727.1 1183.5,737.6 1185.5,740.2 1187.5,742.4 1189.5,744.1 1191.5,745.3 1194.0,746.4 1196.5,747.0 1201.5,747.5 1221.5,748.4 1257.5,750.9 1277.0,751.8 1304.0,752.4 1348.0,752.6"/>
<path d="M1024.0,785.0 1045.0,784.7 1062.5,784.1 1092.5,782.5 1109.5,781.8 1114.0,781.3 1117.0,780.7 1119.0,780.1 1121.0,779.0 1123.0,777.6 1125.0,775.7 1128.5,771.2 1135.5,760.5 1137.5,758.2 1139.0,756.9 1141.0,756.0 1143.0,756.0 1145.5,756.8 1149.5,759.0 1151.5,759.8 1153.5,760.0 1155.0,759.7 1156.5,758.9 1158.5,757.1 1165.5,748.3 1167.5,746.8 1169.0,746.4 1170.0,746.5 1171.5,747.2 1173.0,748.5 1174.5,750.4 1177.0,754.6 1183.5,766.9 1185.5,770.1 1187.5,772.6 1189.5,774.6 1191.5,776.1 1194.0,777.3 1196.5,778.0 1201.0,778.6 1221.5,779.7 1257.5,782.8 1277.0,784.0 1304.0,784.8 1348.0,785.0"/>
<path d="M1024.0,817.5 1044.0,817.2 1060.0,816.8 1094.5,814.9 1115.0,814.2 1118.0,813.9 1120.0,813.5 1122.5,812.5 1124.5,811.2 1126.5,809.4 1128.5,807.0 1132.0,801.2 1139.0,787.3 1141.0,784.2 1143.0,782.1 1144.0,781.6 1145.5,781.3 1146.5,781.5 1148.0,782.2 1150.5,784.2 1154.5,788.6 1156.5,790.5 1158.0,791.3 1159.5,791.5 1161.0,790.9 1162.0,789.9 1163.0,788.7 1164.5,786.1 1168.0,779.3 1169.5,777.0 1171.0,775.6 1172.0,775.5 1173.0,775.9 1174.5,777.1 1177.0,780.4 1179.5,785.0 1186.0,798.7 1188.0,802.3 1190.0,805.2 1192.0,807.5 1194.5,809.6 1197.0,810.9 1199.5,811.7 1202.0,812.2 1205.5,812.5 1223.0,813.4 1257.0,815.7 1275.5,816.7 1303.0,817.3 1348.0,817.5"/>
<path d="M1024.0,849.9 1044.5,849.6 1061.0,849.1 1094.5,847.3 1114.5,846.6 1117.5,846.3 1120.0,845.7 1122.5,844.7 1124.5,843.4 1126.5,841.4 1128.5,838.9 1132.0,832.9 1139.0,818.5 1141.0,815.3 1143.0,813.2 1144.0,812.6 1145.0,812.4 1146.5,812.6 1148.0,813.2 1150.5,815.0 1156.0,820.3 1158.0,821.4 1159.5,821.6 1161.0,821.0 1162.5,819.6 1164.0,817.5 1168.5,809.8 1170.0,808.1 1171.0,807.6 1171.5,807.5 1172.5,807.7 1174.0,808.9 1175.5,810.6 1177.0,812.8 1179.5,817.5 1186.0,830.9 1188.0,834.4 1190.0,837.2 1192.0,839.5 1194.5,841.5 1197.0,842.7 1199.5,843.5 1205.0,844.3 1222.5,845.2 1257.0,847.9 1276.0,849.0 1303.5,849.7 1348.0,849.9"/>
<path d="M1024.0,882.8 1044.0,882.5 1060.5,882.0 1094.5,880.2 1114.5,879.5 1117.5,879.2 1120.0,878.7 1122.5,877.6 1124.5,876.3 1126.5,874.4 1128.5,871.8 1132.0,865.8 1139.0,851.4 1141.0,848.3 1143.0,846.2 1144.0,845.6 1145.5,845.4 1147.0,845.7 1148.5,846.4 1151.5,848.6 1156.5,853.9 1158.5,855.6 1160.5,856.6 1162.0,856.5 1163.5,855.8 1165.0,854.2 1167.0,851.0 1171.5,842.4 1173.0,840.5 1174.0,839.9 1174.5,839.8 1175.5,840.1 1177.0,841.2 1178.5,842.9 1180.0,845.2 1182.5,850.0 1189.0,864.0 1191.0,867.5 1193.0,870.5 1195.0,872.8 1197.5,874.8 1200.0,876.2 1202.5,877.0 1205.5,877.6 1209.0,877.9 1226.5,878.9 1258.5,881.1 1275.0,882.0 1303.0,882.6 1348.0,882.8"/>
<path d="M1024.0,915.2 1044.0,914.9 1060.5,914.4 1094.5,912.6 1114.5,911.9 1117.5,911.6 1120.0,911.1 1122.5,910.1 1124.5,908.8 1126.5,906.9 1128.5,904.4 1132.0,898.5 1139.0,884.4 1141.0,881.3 1143.0,879.3 1144.0,878.7 1145.0,878.5 1146.5,878.6 1148.0,879.0 1150.5,880.5 1155.0,884.0 1157.0,885.4 1159.0,886.2 1161.0,886.3 1163.0,885.4 1165.0,883.5 1167.0,880.9 1170.5,875.7 1172.5,873.3 1174.0,872.2 1175.5,871.8 1176.5,872.0 1178.0,873.0 1179.5,874.6 1181.0,876.9 1183.5,881.7 1190.0,895.9 1192.0,899.6 1194.0,902.6 1196.0,905.0 1198.5,907.1 1201.0,908.5 1203.5,909.4 1206.5,910.0 1210.5,910.4 1227.0,911.3 1258.0,913.5 1274.5,914.3 1302.5,915.0 1348.0,915.2"/>
<path d="M1024.0,946.5 1046.5,946.2 1065.0,945.5 1092.0,944.0 1108.0,943.3 1112.0,942.8 1115.0,942.0 1117.5,940.8 1119.5,939.2 1121.5,936.8 1123.0,934.5 1124.5,931.7 1126.5,927.2 1131.5,914.2 1133.5,909.5 1135.5,905.8 1137.0,904.1 1138.0,903.4 1139.0,903.1 1140.0,903.2 1141.0,903.6 1143.0,905.0 1147.0,909.1 1148.5,910.4 1150.5,911.2 1152.0,911.2 1153.5,910.4 1155.5,908.5 1160.5,901.5 1162.5,899.1 1164.0,897.9 1165.5,897.5 1166.5,897.6 1167.5,898.2 1168.5,899.3 1170.0,901.6 1172.0,905.8 1178.0,920.6 1180.0,924.7 1181.5,927.2 1183.0,929.2 1185.0,931.1 1187.0,932.4 1189.0,933.1 1193.0,933.7 1202.0,933.7 1208.0,934.0 1217.5,934.9 1228.5,936.6 1259.5,942.3 1270.0,943.7 1281.0,944.9 1293.0,945.6 1306.5,946.1 1348.0,946.5"/>
<path d="M1024.0,978.0 1047.5,977.7 1067.0,976.9 1092.0,975.5 1109.5,974.7 1113.5,974.2 1116.5,973.2 1119.0,971.5 1121.0,969.3 1123.0,966.0 1125.0,961.4 1126.5,957.1 1128.5,950.2 1133.5,930.4 1135.5,923.2 1137.5,917.7 1139.0,915.1 1140.0,914.2 1141.0,913.8 1142.0,914.0 1143.0,914.7 1145.0,917.1 1149.0,923.8 1150.5,925.9 1151.5,926.9 1152.5,927.5 1154.0,927.5 1155.5,926.6 1157.5,923.8 1162.5,913.5 1164.5,910.1 1166.0,908.6 1167.0,908.2 1167.5,908.2 1168.5,908.7 1169.5,909.8 1170.5,911.6 1172.0,915.5 1174.0,922.2 1180.0,945.4 1182.0,951.7 1183.5,955.7 1185.5,959.7 1187.5,962.6 1189.5,964.5 1192.0,965.8 1194.0,966.4 1196.5,966.7 1210.0,967.3 1220.0,968.3 1229.5,969.6 1258.5,974.2 1269.0,975.5 1279.0,976.4 1291.5,977.2 1305.5,977.7 1348.0,978.0"/>
<path d="M1024.0,1010.0 1042.0,1009.8 1057.0,1009.4 1094.0,1007.4 1109.0,1006.8 1114.5,1006.2 1116.5,1005.7 1118.0,1005.1 1120.5,1003.1 1122.5,1000.5 1124.5,996.6 1126.5,991.1 1128.0,985.9 1130.0,977.6 1135.5,950.1 1137.5,941.1 1139.5,934.2 1141.0,930.9 1142.0,929.7 1143.0,929.3 1144.0,929.4 1145.0,930.1 1147.0,932.7 1151.0,940.3 1152.5,942.7 1153.5,943.9 1154.5,944.7 1156.0,945.1 1157.5,944.4 1158.5,943.4 1159.5,942.0 1161.0,939.4 1164.5,932.3 1166.0,929.8 1167.5,928.1 1168.5,927.6 1169.0,927.5 1170.0,927.8 1170.5,928.3 1171.5,929.7 1172.5,931.9 1174.0,936.5 1176.0,944.4 1182.0,971.7 1184.0,979.2 1185.5,983.8 1187.5,988.6 1189.5,992.0 1191.5,994.3 1194.0,995.9 1196.0,996.6 1198.5,997.1 1212.0,998.0 1221.5,999.2 1258.0,1005.6 1268.0,1007.0 1278.0,1008.1 1290.5,1009.0 1305.0,1009.6 1322.0,1009.9 1348.0,1010.0"/>
<path d="M1024.0,1043.6 1055.0,1043.0 1096.0,1040.9 1116.0,1040.4 1119.5,1040.0 1122.0,1038.9 1123.5,1037.8 1124.5,1036.8 1126.5,1033.9 1128.5,1029.6 1130.5,1023.6 1132.0,1017.9 1134.0,1008.8 1141.0,972.3 1143.0,964.6 1144.0,961.9 1145.0,959.9 1146.0,958.8 1146.5,958.6 1147.5,958.8 1148.5,959.8 1150.0,962.5 1154.0,972.7 1155.5,975.9 1157.0,977.8 1158.0,978.2 1158.5,978.2 1159.0,978.0 1160.0,977.0 1161.5,974.5 1166.0,963.0 1167.5,959.9 1169.0,958.0 1170.0,957.7 1171.0,958.2 1171.5,958.8 1172.5,960.6 1173.5,963.2 1175.0,968.6 1177.0,977.8 1183.0,1009.1 1185.0,1017.7 1186.5,1023.0 1188.5,1028.5 1190.5,1032.4 1191.5,1033.9 1193.0,1035.6 1195.5,1037.3 1198.5,1038.3 1202.0,1038.8 1222.5,1039.6 1255.5,1041.8 1272.5,1042.7 1301.5,1043.4 1348.0,1043.6"/>
<path d="M1024.0,1076.5 1054.5,1076.0 1096.0,1073.8 1116.0,1073.4 1119.5,1072.9 1122.0,1071.8 1123.5,1070.7 1124.5,1069.7 1126.5,1066.7 1128.5,1062.3 1130.5,1056.1 1132.0,1050.3 1134.0,1041.0 1141.0,1003.5 1143.0,995.7 1144.0,992.9 1145.0,990.9 1146.0,989.9 1147.0,989.7 1148.0,990.3 1149.0,991.6 1150.5,994.5 1154.5,1004.9 1156.0,1008.1 1157.5,1010.3 1158.5,1011.0 1159.0,1011.1 1159.5,1011.1 1160.5,1010.5 1162.0,1008.5 1163.5,1005.4 1168.5,992.6 1169.5,990.7 1170.5,989.5 1171.5,988.8 1172.0,988.8 1173.0,989.3 1173.5,989.9 1174.5,991.8 1175.5,994.6 1177.0,1000.2 1179.0,1009.9 1185.0,1042.7 1187.0,1051.7 1188.5,1057.2 1190.5,1063.1 1192.5,1067.2 1193.5,1068.8 1195.0,1070.6 1197.5,1072.4 1200.5,1073.5 1205.0,1074.0 1262.5,1075.8 1295.5,1076.4 1348.0,1076.5"/>
<path d="M1024.0,1109.0 1042.0,1108.8 1056.5,1108.4 1101.0,1106.3 1110.5,1106.1 1120.0,1106.3 1123.5,1105.8 1126.0,1104.5 1128.0,1102.6 1130.0,1099.6 1132.0,1095.1 1133.5,1090.6 1135.0,1085.1 1137.0,1076.3 1143.0,1044.5 1145.5,1032.9 1147.0,1027.6 1148.0,1024.9 1149.5,1022.3 1150.0,1022.0 1150.5,1021.9 1151.5,1022.6 1153.0,1025.4 1157.0,1037.1 1158.5,1040.7 1160.0,1042.9 1161.0,1043.5 1161.5,1043.5 1162.5,1043.0 1164.0,1041.2 1165.5,1038.3 1169.5,1029.2 1171.0,1026.5 1172.0,1025.1 1173.5,1024.0 1174.5,1023.9 1175.0,1024.2 1176.0,1025.5 1177.5,1029.3 1179.5,1037.2 1187.0,1077.8 1189.0,1086.8 1190.5,1092.4 1192.5,1098.2 1193.5,1100.5 1195.0,1103.2 1196.0,1104.6 1197.5,1106.2 1200.0,1107.8 1202.0,1108.5 1204.0,1108.9 1211.0,1109.3 1348.0,1109.5"/>
<path d="M1474.0,284.4 1486.5,284.0 1497.0,283.4 1507.0,282.5 1516.5,281.2 1529.5,279.0 1537.5,277.3 1541.0,276.0 1542.5,275.1 1544.0,273.8 1546.0,271.2 1547.5,268.3 1549.0,264.6 1550.5,259.8 1553.0,249.6 1558.5,222.8 1560.0,216.7 1561.5,212.1 1563.0,209.2 1565.0,206.9 1567.0,205.7 1571.0,204.7 1572.5,203.9 1574.5,202.1 1576.0,199.8 1577.5,196.7 1579.5,191.5 1586.0,169.9 1588.5,162.7 1590.0,159.5 1591.0,158.0 1592.5,156.7 1593.5,156.5 1594.5,157.0 1595.0,157.4 1596.0,158.9 1597.5,162.3 1599.0,167.1 1600.5,173.2 1602.5,182.8 1609.5,221.8 1613.0,238.8 1615.0,246.4 1617.0,252.1 1618.5,255.1 1619.5,256.4 1620.5,257.3 1621.5,257.7 1622.5,257.6 1623.5,257.1 1624.5,256.2 1626.5,253.6 1631.5,244.7 1633.5,241.8 1635.5,240.0 1636.5,239.6 1638.0,239.6 1639.0,239.9 1640.5,240.8 1642.0,242.1 1643.5,243.9 1646.5,248.4 1654.5,262.1 1657.0,265.6 1659.5,268.5 1662.5,271.2 1665.5,273.2 1668.5,274.6 1672.5,275.9 1689.0,279.7 1698.5,281.7 1707.5,283.0 1716.5,283.9 1726.0,284.3 1738.0,284.5 1800.5,284.6"/>
<path d="M1474.0,317.6 1514.5,317.6 1527.5,317.1 1533.0,316.6 1537.5,315.6 1541.0,314.3 1544.0,312.4 1546.0,310.4 1548.0,307.7 1550.0,304.1 1552.0,299.5 1555.5,288.7 1562.5,263.0 1564.5,257.2 1566.0,253.9 1567.5,251.6 1568.5,250.7 1569.5,250.2 1571.0,250.1 1575.0,251.4 1576.5,251.4 1577.5,251.1 1578.5,250.5 1580.0,248.9 1581.5,246.5 1583.5,242.2 1590.0,224.8 1592.5,219.1 1594.0,216.4 1595.5,214.4 1597.0,213.1 1598.5,212.6 1599.5,213.0 1600.5,214.4 1601.5,217.1 1603.0,223.1 1605.0,233.9 1610.0,265.2 1612.5,277.7 1614.0,283.1 1615.0,285.7 1616.0,287.5 1616.5,288.2 1617.5,289.0 1618.0,289.1 1619.0,289.0 1620.0,288.3 1621.0,287.2 1622.5,285.0 1626.5,278.0 1628.5,275.4 1629.5,274.5 1630.5,274.0 1632.5,273.9 1634.0,274.4 1635.5,275.1 1638.5,277.7 1641.5,281.3 1648.0,290.3 1651.5,294.6 1655.0,298.1 1658.5,300.7 1661.0,302.0 1663.5,303.0 1677.5,306.8 1693.0,312.7 1700.0,314.9 1704.5,315.9 1709.5,316.7 1715.0,317.2 1721.5,317.4 1736.5,317.6 1800.5,317.6"/>
<path d="M1474.0,350.8 1520.5,350.8 1529.5,350.6 1533.5,350.3 1536.5,349.7 1539.0,348.7 1541.5,347.2 1544.0,344.8 1546.0,342.2 1548.0,338.9 1550.0,334.7 1553.5,325.5 1561.0,303.0 1563.0,298.0 1565.0,294.1 1566.0,292.6 1567.5,291.0 1569.0,290.0 1570.0,289.8 1571.0,289.9 1572.5,290.5 1576.5,293.5 1578.0,294.2 1579.0,294.4 1580.0,294.3 1581.0,293.8 1582.0,292.9 1584.0,290.0 1586.0,285.6 1592.0,268.5 1594.0,263.5 1595.5,260.7 1596.5,259.4 1597.5,258.5 1598.5,258.1 1599.5,258.4 1600.5,259.4 1601.5,261.2 1603.0,265.4 1605.0,273.1 1609.5,293.9 1611.5,302.2 1614.0,310.1 1615.0,312.3 1616.0,314.0 1617.5,315.5 1618.5,315.9 1619.5,315.8 1621.5,314.8 1625.5,311.4 1627.5,310.3 1628.5,310.1 1630.0,310.2 1632.0,310.7 1633.5,311.4 1636.0,313.1 1639.0,315.9 1649.0,327.9 1653.5,332.6 1658.0,336.2 1660.5,337.7 1663.0,339.0 1668.0,340.8 1675.0,342.3 1711.5,347.8 1725.5,349.4 1737.0,350.2 1750.5,350.6 1800.5,350.8"/>
<path d="M1474.0,384.4 1488.0,384.2 1499.0,383.8 1509.0,383.0 1518.0,382.0 1526.5,380.7 1533.0,379.2 1538.0,377.4 1542.0,375.2 1544.5,373.2 1547.0,370.6 1549.5,367.4 1551.5,364.2 1555.5,356.5 1564.5,336.5 1567.0,332.0 1569.0,329.4 1571.0,327.8 1572.0,327.5 1573.5,327.4 1576.0,328.1 1581.5,330.8 1583.0,331.2 1584.0,331.3 1585.0,331.1 1586.0,330.6 1587.0,329.8 1588.0,328.6 1589.5,326.1 1591.5,321.5 1597.0,304.5 1599.0,299.1 1600.0,297.2 1601.0,295.7 1602.0,295.0 1602.5,294.9 1603.5,295.3 1604.5,296.3 1605.5,298.0 1606.5,300.1 1609.0,307.6 1614.5,327.7 1617.0,335.4 1618.5,339.1 1620.0,342.1 1621.5,344.4 1623.0,346.2 1625.5,348.3 1630.0,351.6 1633.5,352.9 1643.5,355.3 1649.5,357.7 1655.5,360.8 1670.0,369.6 1679.0,374.2 1687.5,377.6 1696.5,380.3 1706.0,382.1 1716.5,383.4 1727.0,384.0 1740.5,384.4 1800.5,384.5"/>
<path d="M1474.0,416.8 1488.0,416.6 1499.0,416.2 1509.0,415.5 1518.0,414.5 1526.5,413.1 1533.0,411.7 1538.0,409.9 1542.0,407.7 1544.5,405.8 1547.0,403.2 1549.5,400.0 1551.5,397.0 1555.5,389.4 1565.0,368.6 1567.5,364.2 1570.0,361.0 1571.0,360.1 1572.5,359.1 1573.5,358.7 1574.5,358.6 1575.5,358.8 1577.0,359.4 1581.5,362.4 1583.5,363.3 1585.0,363.3 1586.0,362.9 1587.0,362.2 1588.0,361.1 1589.5,358.9 1591.5,354.8 1597.5,338.9 1599.5,334.2 1601.0,331.6 1602.0,330.4 1603.0,329.7 1604.0,329.4 1605.0,329.7 1606.0,330.7 1607.0,332.4 1608.5,336.1 1611.0,344.6 1617.0,368.4 1619.0,375.0 1621.0,380.2 1623.5,385.1 1626.0,388.6 1629.0,391.7 1630.5,392.8 1632.0,393.6 1635.5,394.6 1645.0,396.4 1650.5,397.9 1656.0,400.0 1672.0,406.8 1682.5,410.4 1692.0,412.8 1702.5,414.7 1715.5,416.0 1731.0,416.7 1751.0,416.9 1800.5,416.9"/>
<path d="M1474.0,450.5 1488.5,450.3 1499.5,449.9 1509.5,449.2 1518.5,448.2 1527.0,446.8 1533.5,445.4 1538.5,443.6 1542.5,441.4 1545.0,439.4 1547.5,436.7 1550.0,433.4 1552.5,429.3 1554.5,425.4 1557.0,419.9 1566.0,398.2 1568.5,393.4 1570.5,390.4 1571.5,389.2 1573.0,387.9 1574.5,387.1 1575.5,386.9 1576.5,387.0 1578.0,387.5 1582.5,390.2 1584.5,391.0 1585.5,391.1 1586.5,391.0 1587.5,390.6 1588.5,389.9 1590.5,387.6 1592.5,384.1 1594.5,379.6 1599.0,368.6 1601.5,363.5 1603.0,361.3 1604.0,360.4 1605.0,359.8 1606.0,359.7 1607.0,360.2 1608.0,361.4 1609.0,363.3 1610.5,367.4 1612.5,374.5 1619.0,401.3 1621.0,407.9 1622.5,412.1 1624.5,416.4 1627.0,420.4 1630.5,424.2 1632.0,425.3 1633.5,426.1 1637.0,427.2 1646.5,429.0 1652.0,430.6 1657.0,432.6 1673.5,440.1 1679.0,442.3 1684.0,444.0 1693.0,446.5 1703.0,448.3 1715.5,449.7 1731.0,450.4 1751.0,450.6 1800.5,450.6"/>
<path d="M1474.0,482.9 1488.5,482.7 1499.5,482.3 1509.5,481.6 1519.0,480.5 1528.0,479.1 1534.5,477.6 1539.0,476.0 1543.0,473.8 1546.0,471.3 1548.5,468.5 1551.0,465.0 1553.5,460.6 1555.5,456.4 1558.0,450.6 1567.0,427.5 1569.5,422.3 1572.0,418.5 1573.0,417.3 1574.5,416.1 1575.5,415.5 1577.0,415.2 1578.0,415.3 1579.5,415.8 1583.5,417.9 1585.5,418.6 1587.5,418.7 1589.5,417.9 1591.5,416.0 1593.5,413.2 1595.5,409.5 1600.0,400.5 1602.0,397.1 1603.5,395.2 1604.5,394.3 1605.5,393.8 1606.5,393.6 1607.5,393.8 1608.0,394.2 1609.0,395.5 1610.0,397.5 1611.5,401.5 1613.5,408.6 1620.0,435.0 1622.0,441.7 1624.0,447.2 1626.5,452.3 1629.0,456.1 1631.5,459.0 1633.0,460.2 1634.5,461.0 1637.5,462.1 1646.5,464.0 1652.0,465.7 1656.5,467.3 1671.0,473.3 1681.0,476.8 1690.5,479.2 1701.0,481.0 1713.5,482.1 1729.5,482.8 1749.5,483.0 1800.5,483.0"/>
<path d="M1474.0,516.1 1488.0,515.9 1499.0,515.6 1509.0,514.9 1518.0,513.9 1527.0,512.6 1533.5,511.2 1538.5,509.6 1542.5,507.5 1545.5,505.2 1548.5,501.9 1551.0,498.3 1553.5,493.7 1555.5,489.4 1558.0,483.1 1565.5,461.4 1568.0,454.7 1570.5,449.1 1573.0,445.1 1574.0,443.9 1575.5,442.8 1576.5,442.4 1578.0,442.5 1579.0,442.9 1580.5,444.1 1585.0,449.0 1587.0,450.8 1588.0,451.3 1589.0,451.6 1590.0,451.6 1591.0,451.3 1592.5,450.2 1594.5,447.8 1596.5,444.5 1600.5,437.0 1602.5,434.0 1603.5,432.9 1604.5,432.2 1606.0,431.8 1607.0,432.0 1607.5,432.4 1608.5,433.7 1610.0,436.9 1611.5,441.5 1614.0,451.8 1621.0,485.0 1623.0,492.8 1625.0,499.1 1627.0,503.9 1629.0,507.4 1630.0,508.8 1631.5,510.3 1634.0,511.9 1637.0,512.7 1641.5,512.7 1674.5,509.3 1682.5,509.0 1687.0,509.3 1691.5,510.0 1705.5,513.3 1711.0,514.4 1716.5,515.2 1722.5,515.7 1730.0,516.0 1741.0,516.1 1800.5,516.2"/>
<path d="M1474.0,549.1 1488.0,548.9 1499.0,548.6 1508.5,548.0 1517.5,547.0 1527.0,545.7 1534.5,544.1 1539.5,542.6 1543.5,540.7 1546.5,538.5 1549.5,535.5 1552.5,531.2 1555.0,526.6 1557.5,521.0 1560.0,514.5 1567.5,492.1 1570.0,485.2 1572.5,479.7 1575.0,475.9 1576.0,474.9 1577.5,473.9 1578.5,473.7 1580.0,474.1 1581.0,474.9 1582.5,476.6 1586.5,482.3 1588.5,484.8 1589.5,485.6 1590.5,486.2 1591.5,486.4 1592.5,486.3 1594.0,485.4 1596.0,483.0 1598.0,479.6 1601.5,473.0 1603.5,469.8 1604.5,468.6 1605.5,467.8 1607.0,467.4 1608.0,467.7 1608.5,468.1 1609.5,469.4 1611.0,472.6 1612.5,477.2 1615.0,487.2 1621.5,517.2 1623.5,524.9 1625.5,531.3 1627.5,536.3 1630.0,540.6 1632.5,543.3 1635.0,544.8 1637.0,545.4 1639.0,545.6 1644.5,545.4 1664.0,543.5 1681.5,540.5 1685.0,540.2 1688.0,540.1 1692.0,540.5 1696.5,541.4 1709.5,545.5 1715.0,547.0 1720.5,548.0 1726.0,548.6 1733.0,549.0 1742.5,549.1 1800.5,549.2"/>
<path d="M1474.0,581.9 1488.0,581.8 1499.0,581.4 1509.0,580.7 1518.0,579.8 1527.5,578.4 1535.0,577.0 1540.5,575.3 1544.5,573.4 1547.5,571.2 1550.5,568.2 1553.5,564.0 1556.0,559.5 1558.0,555.2 1560.5,549.0 1568.0,527.4 1570.5,520.6 1573.5,514.2 1576.0,510.5 1577.0,509.5 1578.5,508.6 1579.5,508.4 1581.0,508.8 1583.0,510.3 1587.5,515.5 1589.5,517.5 1590.5,518.1 1591.5,518.5 1593.0,518.4 1594.5,517.7 1596.5,515.7 1598.5,512.7 1602.5,505.9 1604.5,503.1 1606.0,501.8 1607.5,501.2 1609.0,501.7 1610.5,503.5 1611.5,505.5 1613.0,509.7 1615.5,519.2 1622.5,551.1 1624.5,558.7 1626.5,565.0 1628.5,569.8 1631.0,574.1 1633.5,576.8 1636.0,578.3 1639.0,579.1 1643.5,579.3 1653.5,578.6 1661.0,577.7 1665.5,576.8 1669.5,575.7 1684.0,570.4 1687.5,569.7 1691.0,569.4 1695.0,569.9 1699.0,571.0 1702.5,572.5 1712.0,577.0 1717.5,579.1 1722.5,580.4 1727.5,581.2 1734.0,581.7 1743.0,581.9 1800.5,582.0"/>
<path d="M1474.0,614.9 1488.5,614.8 1499.5,614.4 1509.5,613.7 1518.5,612.8 1528.5,611.4 1537.0,609.7 1542.5,608.0 1546.5,606.1 1549.5,604.0 1552.5,601.0 1555.5,596.9 1558.0,592.5 1560.0,588.4 1562.5,582.4 1572.0,556.9 1575.0,550.6 1577.5,547.0 1578.5,546.0 1580.0,545.0 1581.0,544.7 1582.5,544.8 1584.5,545.9 1589.0,550.0 1591.0,551.4 1592.0,551.9 1593.0,552.0 1594.5,551.7 1596.0,550.8 1598.0,548.6 1600.0,545.6 1603.5,539.7 1605.5,536.8 1606.5,535.8 1607.5,535.1 1609.0,534.7 1610.5,535.3 1611.5,536.5 1613.0,539.5 1614.5,543.9 1617.0,553.5 1624.0,585.1 1626.0,592.5 1628.0,598.6 1630.0,603.3 1632.5,607.4 1635.0,609.9 1637.5,611.4 1639.0,611.8 1641.0,612.2 1646.5,612.3 1657.0,611.4 1663.5,610.1 1667.5,608.8 1671.5,607.0 1675.0,605.0 1683.0,600.1 1686.5,598.3 1690.0,597.0 1693.5,596.7 1695.5,596.8 1697.5,597.3 1701.5,599.1 1705.0,601.2 1714.0,607.6 1719.5,610.7 1724.5,612.7 1729.5,613.9 1736.0,614.6 1744.5,614.9 1800.5,615.0"/>
<path d="M1474.0,648.1 1488.5,648.0 1500.0,647.6 1510.0,646.9 1519.0,646.0 1529.5,644.5 1538.0,642.8 1543.5,641.1 1548.0,638.9 1551.0,636.8 1554.0,633.7 1556.5,630.3 1559.0,626.1 1561.0,622.1 1563.5,616.3 1570.5,597.8 1573.0,591.7 1575.5,586.6 1578.0,582.9 1579.0,581.8 1580.5,580.7 1581.5,580.3 1583.0,580.3 1584.0,580.6 1585.5,581.6 1589.5,585.4 1591.5,586.9 1592.5,587.4 1593.5,587.6 1594.5,587.5 1595.5,587.1 1597.0,585.9 1599.0,583.3 1601.0,579.7 1605.0,571.7 1607.0,568.5 1608.0,567.3 1609.0,566.5 1610.5,566.0 1611.5,566.3 1612.0,566.7 1613.0,567.9 1614.5,571.1 1616.0,575.7 1618.5,585.7 1625.0,615.6 1627.0,623.4 1629.0,629.7 1631.0,634.7 1633.5,639.0 1636.0,641.7 1638.5,643.2 1640.5,643.8 1642.5,644.0 1648.5,643.8 1659.0,642.7 1662.5,642.0 1665.5,641.1 1669.5,639.4 1673.5,636.9 1677.5,633.9 1685.0,627.6 1688.5,625.1 1692.0,623.5 1694.0,623.0 1695.5,622.9 1697.5,623.2 1699.5,623.9 1701.5,624.9 1703.5,626.3 1707.0,629.3 1716.0,638.0 1719.0,640.6 1721.5,642.3 1724.0,643.8 1726.5,645.0 1731.5,646.6 1737.5,647.6 1746.0,648.1 1800.5,648.2"/>
<path d="M1474.0,680.5 1489.0,680.4 1500.5,680.0 1510.5,679.3 1520.0,678.3 1531.0,676.7 1540.5,674.8 1546.5,673.1 1551.0,670.9 1554.0,668.8 1557.0,665.9 1559.5,662.6 1562.0,658.6 1566.0,650.5 1573.0,633.4 1575.5,627.7 1578.0,623.0 1580.0,620.1 1581.5,618.5 1583.0,617.4 1584.5,616.9 1585.5,616.9 1587.5,617.7 1592.0,621.4 1593.5,622.2 1594.5,622.6 1595.5,622.6 1597.0,622.0 1598.5,620.7 1600.5,617.7 1606.0,606.2 1608.0,602.6 1609.0,601.3 1610.0,600.4 1611.5,599.9 1612.5,600.3 1613.0,600.7 1614.0,602.0 1615.5,605.2 1617.0,609.8 1619.5,619.7 1626.0,649.1 1628.0,656.6 1630.0,662.8 1632.0,667.6 1634.5,671.8 1637.0,674.4 1639.5,675.8 1642.0,676.5 1645.0,676.8 1655.5,676.2 1659.5,675.8 1662.5,675.2 1665.5,674.4 1668.0,673.4 1672.5,670.9 1676.5,667.7 1680.0,664.2 1688.0,655.3 1691.5,652.0 1693.5,650.6 1695.0,649.9 1697.0,649.3 1698.5,649.2 1700.5,649.5 1702.5,650.3 1704.5,651.6 1706.5,653.4 1710.0,657.1 1719.0,668.1 1721.5,670.7 1724.0,673.0 1726.5,674.9 1729.0,676.5 1731.5,677.7 1734.0,678.6 1737.0,679.4 1740.0,679.9 1748.5,680.5 1800.5,680.6"/>
<path d="M1474.0,713.7 1489.5,713.6 1501.0,713.2 1511.0,712.5 1520.5,711.5 1532.5,709.7 1544.0,707.5 1550.5,705.6 1555.0,703.6 1558.0,701.5 1560.5,699.2 1563.0,696.2 1565.5,692.4 1569.5,684.8 1578.5,664.7 1581.0,660.1 1583.5,656.6 1586.0,654.3 1587.5,653.5 1588.5,653.3 1589.5,653.4 1590.5,653.7 1595.0,656.4 1596.5,657.0 1598.0,657.0 1599.5,656.3 1601.0,654.9 1603.0,651.7 1608.0,641.0 1610.0,637.3 1611.5,635.5 1613.0,634.7 1614.0,634.9 1614.5,635.2 1615.5,636.3 1617.0,639.2 1618.5,643.4 1621.0,652.6 1627.5,680.9 1629.5,688.3 1631.5,694.3 1633.5,699.1 1635.5,702.5 1638.0,705.3 1640.5,706.9 1643.0,707.6 1646.0,707.9 1651.5,707.7 1659.5,707.1 1663.0,706.5 1666.0,705.7 1668.5,704.7 1671.0,703.4 1673.5,701.5 1675.5,699.7 1679.5,695.1 1683.0,690.1 1691.0,677.3 1694.5,672.6 1696.5,670.7 1698.0,669.6 1700.0,668.7 1701.5,668.6 1703.0,668.9 1705.0,669.9 1707.0,671.7 1709.0,674.0 1712.5,679.3 1722.0,696.0 1724.5,699.8 1727.0,703.0 1729.0,705.3 1731.5,707.6 1734.0,709.4 1736.5,710.8 1739.5,711.9 1742.5,712.7 1746.0,713.2 1750.5,713.6 1761.5,713.8 1800.5,713.8"/>
<path d="M1474.0,746.6 1489.0,746.5 1500.5,746.1 1510.5,745.5 1519.5,744.6 1531.0,742.9 1543.0,740.7 1549.5,739.0 1554.5,736.9 1557.5,735.1 1560.5,732.6 1563.0,729.7 1565.5,726.2 1569.5,719.2 1578.5,700.5 1581.0,696.2 1583.5,692.9 1586.0,690.8 1587.5,690.1 1588.5,689.9 1589.5,690.0 1591.0,690.4 1595.0,692.7 1597.0,693.5 1598.0,693.6 1599.0,693.4 1600.5,692.7 1602.0,691.3 1604.0,688.4 1609.5,677.6 1611.5,674.2 1612.5,672.9 1613.5,672.0 1615.0,671.4 1616.0,671.6 1616.5,671.9 1617.5,672.9 1619.0,675.7 1620.5,679.7 1623.0,688.5 1629.5,714.7 1631.5,721.5 1633.5,726.9 1635.5,731.1 1637.5,734.2 1639.5,736.2 1642.0,737.7 1644.5,738.3 1647.5,738.5 1658.0,738.2 1663.0,737.8 1666.0,737.2 1669.0,736.3 1671.5,735.1 1674.0,733.4 1676.5,731.1 1678.5,728.8 1682.5,722.9 1686.0,716.4 1694.0,700.1 1697.5,694.1 1699.5,691.6 1701.0,690.2 1703.0,689.2 1704.5,689.0 1706.0,689.4 1708.0,690.8 1710.0,693.0 1712.0,696.1 1715.5,702.9 1725.0,724.1 1727.5,729.0 1730.0,733.1 1732.0,736.0 1734.5,738.9 1737.0,741.2 1739.5,742.9 1742.5,744.3 1745.5,745.3 1749.0,746.0 1753.5,746.4 1764.0,746.7 1800.5,746.7"/>
<path d="M1474.0,779.9 1489.0,779.7 1500.5,779.3 1510.5,778.7 1520.0,777.8 1532.0,776.0 1547.0,773.2 1553.5,771.6 1558.5,769.7 1561.5,767.9 1564.5,765.4 1567.0,762.6 1569.5,759.0 1571.5,755.6 1574.0,750.8 1583.0,731.3 1585.5,726.8 1588.0,723.5 1590.5,721.2 1592.0,720.4 1593.0,720.2 1594.0,720.3 1595.0,720.7 1598.5,723.0 1600.0,723.8 1601.5,724.0 1603.0,723.5 1604.5,722.3 1606.0,720.3 1610.5,712.2 1612.0,709.8 1613.5,708.3 1614.5,707.8 1615.0,707.8 1616.0,708.1 1617.5,709.7 1619.0,712.4 1620.5,716.3 1623.0,724.7 1629.5,749.4 1631.5,755.7 1633.5,760.9 1635.5,764.8 1637.5,767.6 1639.5,769.5 1642.0,770.9 1644.5,771.5 1647.5,771.7 1661.5,771.6 1666.5,771.2 1669.5,770.7 1672.5,769.7 1675.0,768.4 1677.5,766.5 1680.0,763.9 1682.0,761.3 1684.0,758.1 1686.0,754.5 1690.0,745.8 1698.0,726.5 1701.5,719.5 1703.5,716.5 1705.0,714.9 1707.0,713.6 1708.5,713.4 1710.0,713.9 1711.5,715.0 1713.0,716.7 1715.0,719.8 1718.5,727.1 1728.0,751.6 1732.5,761.6 1735.0,766.1 1737.5,769.7 1740.0,772.6 1743.0,775.2 1746.0,777.0 1749.0,778.2 1752.5,779.0 1756.5,779.5 1767.0,779.9 1800.5,779.9"/>
<path d="M1474.0,812.9 1489.0,812.7 1500.5,812.3 1510.5,811.8 1520.0,810.8 1532.0,809.1 1547.0,806.3 1554.0,804.6 1559.0,802.7 1562.0,801.0 1565.0,798.5 1567.5,795.7 1570.0,792.1 1572.0,788.6 1574.5,783.7 1582.0,766.5 1584.5,761.2 1587.0,756.8 1589.5,753.4 1591.0,751.9 1592.5,750.9 1593.5,750.4 1594.5,750.4 1595.5,750.7 1596.5,751.3 1599.5,753.7 1601.0,754.6 1602.5,755.1 1604.0,754.8 1605.0,754.2 1606.5,752.7 1612.0,745.0 1613.5,743.7 1614.5,743.4 1615.5,743.5 1617.0,744.8 1618.0,746.2 1619.5,749.3 1621.0,753.3 1622.5,758.1 1628.0,778.4 1631.0,788.1 1633.0,793.3 1634.5,796.4 1636.0,798.9 1638.0,801.4 1639.5,802.6 1641.5,803.7 1643.5,804.3 1646.0,804.7 1666.0,804.8 1670.0,804.5 1673.0,803.8 1676.5,802.3 1679.5,800.2 1682.5,797.1 1685.5,792.7 1688.0,788.2 1691.0,781.6 1700.0,758.2 1703.5,750.2 1705.5,746.6 1707.5,744.0 1709.5,742.4 1711.0,742.0 1712.5,742.4 1714.5,743.8 1716.0,745.7 1718.0,749.1 1721.5,757.0 1730.5,781.9 1735.0,792.7 1737.5,797.6 1740.0,801.6 1742.5,804.8 1745.5,807.7 1748.5,809.6 1751.5,811.0 1755.0,811.9 1759.0,812.4 1769.0,812.9 1800.5,812.9"/>
<path d="M1474.0,845.8 1489.5,845.6 1501.5,845.2 1511.5,844.6 1521.0,843.7 1533.0,841.9 1548.5,839.0 1555.0,837.4 1560.0,835.4 1563.0,833.6 1566.0,831.0 1568.5,828.1 1571.0,824.4 1573.0,820.8 1575.5,815.8 1585.0,794.3 1588.0,789.0 1590.5,785.7 1593.0,783.7 1594.0,783.2 1595.0,783.1 1596.0,783.3 1597.0,783.8 1601.5,786.9 1603.0,787.4 1604.5,787.1 1606.0,786.2 1607.5,784.5 1612.0,777.5 1613.5,775.6 1615.0,774.4 1616.0,774.1 1617.0,774.4 1618.5,775.8 1620.0,778.3 1621.5,782.0 1624.0,790.0 1630.5,814.4 1632.5,820.7 1634.5,826.0 1636.5,830.0 1638.5,832.9 1641.0,835.3 1643.5,836.6 1645.5,837.1 1648.5,837.4 1667.0,838.1 1671.5,838.1 1674.5,837.7 1677.5,836.8 1680.0,835.6 1682.5,833.7 1685.0,831.2 1687.0,828.6 1689.0,825.4 1691.5,820.7 1695.5,811.5 1704.0,789.4 1707.5,782.0 1709.5,778.9 1711.0,777.2 1712.5,776.2 1714.0,775.8 1715.5,776.1 1717.5,777.6 1719.0,779.5 1721.0,782.8 1724.5,790.7 1733.5,815.3 1737.5,824.9 1740.0,829.9 1742.5,834.0 1745.0,837.3 1748.0,840.3 1751.0,842.3 1754.0,843.7 1757.5,844.7 1761.5,845.3 1771.5,845.8 1800.5,845.8"/>
<path d="M1474.0,878.7 1489.5,878.5 1501.5,878.1 1511.5,877.5 1521.0,876.6 1533.5,874.8 1549.0,871.9 1555.5,870.3 1560.5,868.4 1563.5,866.6 1566.5,864.0 1569.0,861.1 1571.5,857.5 1573.5,853.9 1576.0,848.9 1583.5,831.7 1586.0,826.4 1588.5,821.9 1591.0,818.6 1593.5,816.5 1594.5,815.9 1595.5,815.8 1596.5,815.9 1597.5,816.3 1601.0,818.6 1602.5,819.4 1604.0,819.7 1605.5,819.3 1607.0,818.1 1608.5,816.3 1613.0,808.8 1614.5,806.7 1616.0,805.3 1617.5,804.8 1618.5,805.2 1619.0,805.6 1620.0,806.8 1621.5,809.6 1623.0,813.5 1625.5,821.9 1632.0,847.0 1634.0,853.4 1636.0,858.6 1638.0,862.7 1640.0,865.6 1642.0,867.6 1644.5,869.1 1647.0,869.8 1650.0,870.2 1669.0,871.5 1673.5,871.6 1677.0,871.2 1680.0,870.5 1682.5,869.4 1685.0,867.7 1687.5,865.3 1690.0,862.1 1692.0,858.9 1694.5,854.2 1698.5,845.0 1707.0,823.0 1710.5,815.6 1712.5,812.6 1714.0,810.9 1715.5,809.9 1717.0,809.5 1718.5,809.9 1720.5,811.4 1722.0,813.2 1724.0,816.5 1727.5,824.3 1736.0,847.4 1740.5,858.2 1743.0,863.1 1745.5,867.1 1748.0,870.4 1751.0,873.3 1753.5,875.0 1756.5,876.5 1760.0,877.5 1764.0,878.2 1773.5,878.6 1800.5,878.7"/>
<path d="M1474.0,911.9 1489.5,911.7 1501.5,911.4 1512.0,910.7 1521.5,909.8 1534.0,908.0 1550.0,905.0 1556.5,903.4 1559.0,902.5 1561.5,901.3 1564.5,899.5 1567.5,896.8 1570.0,893.8 1572.5,890.0 1574.5,886.4 1577.0,881.3 1584.0,865.1 1586.5,859.7 1589.0,855.2 1591.5,851.8 1594.0,849.6 1595.0,849.0 1596.0,848.8 1597.0,848.8 1598.0,849.2 1602.0,851.6 1603.5,852.2 1605.0,852.3 1606.5,851.6 1608.0,850.3 1609.5,848.3 1614.0,840.4 1615.5,838.1 1617.0,836.5 1618.5,835.8 1619.5,836.0 1620.0,836.3 1621.0,837.3 1622.5,840.0 1624.0,843.8 1626.5,852.3 1633.0,878.1 1635.0,884.9 1637.0,890.4 1639.0,894.8 1641.0,898.0 1643.5,900.6 1646.0,902.1 1648.5,902.9 1652.5,903.5 1672.0,905.2 1676.5,905.3 1680.0,905.0 1683.0,904.3 1685.5,903.2 1688.0,901.4 1690.5,899.0 1693.0,895.8 1695.0,892.7 1697.5,887.9 1701.5,878.7 1709.5,858.0 1713.0,850.4 1715.0,847.2 1716.5,845.3 1718.5,843.9 1720.0,843.5 1721.5,843.9 1723.5,845.4 1725.0,847.2 1727.0,850.5 1730.5,858.3 1739.0,881.1 1743.5,891.7 1746.0,896.5 1748.5,900.5 1751.0,903.7 1753.5,906.2 1756.0,908.0 1759.0,909.5 1762.5,910.6 1766.5,911.3 1776.0,911.8 1800.5,911.9"/>
<path d="M1474.0,944.3 1490.0,944.1 1502.0,943.8 1512.5,943.1 1522.0,942.2 1534.5,940.3 1551.0,937.3 1557.5,935.6 1560.0,934.7 1562.5,933.5 1565.5,931.6 1568.0,929.3 1570.5,926.4 1573.0,922.6 1575.0,919.0 1577.5,914.0 1587.0,892.3 1589.5,887.7 1592.0,884.2 1593.5,882.7 1595.0,881.6 1596.0,881.1 1597.0,881.0 1599.0,881.5 1602.5,883.4 1604.0,884.0 1605.5,884.1 1607.0,883.6 1608.5,882.3 1610.0,880.3 1615.5,870.3 1617.0,868.0 1618.5,866.5 1620.0,865.9 1621.0,866.2 1621.5,866.6 1622.5,867.8 1624.0,870.7 1625.5,874.8 1628.0,883.7 1634.5,910.3 1636.5,917.1 1638.5,922.7 1640.5,927.0 1643.0,930.8 1645.5,933.2 1648.0,934.6 1650.5,935.4 1654.0,936.0 1674.0,938.1 1679.0,938.3 1682.5,938.1 1685.5,937.4 1688.0,936.4 1690.5,934.8 1693.0,932.5 1695.5,929.5 1697.5,926.4 1700.0,921.8 1704.0,912.9 1712.5,891.0 1714.5,886.5 1716.5,882.6 1718.5,879.6 1720.0,878.0 1721.5,877.0 1723.0,876.7 1724.5,877.1 1726.5,878.5 1728.0,880.4 1730.0,883.7 1733.5,891.4 1742.0,913.9 1746.5,924.4 1749.0,929.2 1751.0,932.4 1753.5,935.7 1756.0,938.3 1758.5,940.2 1761.5,941.8 1764.5,942.8 1768.5,943.6 1772.5,944.0 1777.5,944.2 1800.5,944.3"/>
<path d="M1474.0,978.0 1490.5,977.8 1502.5,977.4 1513.0,976.8 1522.5,975.9 1535.0,974.0 1551.5,970.9 1558.0,969.3 1560.5,968.4 1563.0,967.3 1566.0,965.3 1568.5,963.1 1571.0,960.2 1573.5,956.5 1575.5,953.0 1578.0,947.9 1587.5,926.2 1590.0,921.5 1592.5,917.9 1595.0,915.5 1596.5,914.7 1597.5,914.4 1599.5,914.8 1603.5,916.8 1605.0,917.2 1606.5,917.2 1608.0,916.4 1609.5,915.0 1611.0,912.9 1616.5,902.3 1618.0,899.8 1619.5,898.1 1621.0,897.4 1622.0,897.5 1622.5,897.8 1623.5,898.8 1625.0,901.5 1626.5,905.5 1629.0,914.4 1636.0,943.8 1638.0,950.7 1640.0,956.3 1642.0,960.6 1644.5,964.5 1647.0,966.9 1649.5,968.3 1652.0,969.1 1655.0,969.7 1676.0,972.3 1681.0,972.6 1684.5,972.5 1687.5,972.0 1690.5,970.9 1693.0,969.4 1695.5,967.2 1698.0,964.3 1700.5,960.5 1703.0,955.9 1707.0,947.0 1715.5,925.3 1717.5,920.8 1719.5,916.9 1721.5,914.0 1723.0,912.4 1724.5,911.4 1726.0,911.1 1727.5,911.5 1729.5,913.0 1731.0,914.8 1733.0,918.1 1736.5,925.8 1745.0,948.1 1749.0,957.4 1751.5,962.3 1753.5,965.6 1756.0,969.0 1758.5,971.6 1761.0,973.6 1764.0,975.3 1767.0,976.4 1771.0,977.3 1775.0,977.7 1780.0,977.9 1800.5,978.0"/>
<path d="M1474.0,1010.4 1504.0,1009.9 1515.0,1009.4 1525.0,1008.6 1538.5,1007.0 1554.5,1004.6 1560.5,1003.2 1563.0,1002.3 1565.0,1001.4 1568.0,999.3 1570.5,996.9 1573.0,993.7 1575.5,989.6 1579.5,981.3 1588.5,959.3 1591.0,954.4 1593.5,950.6 1596.0,948.2 1597.0,947.7 1598.0,947.4 1600.0,947.7 1604.0,949.9 1605.5,950.5 1606.5,950.6 1607.5,950.5 1609.0,949.8 1610.5,948.4 1612.5,945.5 1617.5,935.4 1619.5,931.9 1620.5,930.6 1621.5,929.6 1623.0,929.1 1624.0,929.4 1624.5,929.8 1625.5,931.1 1626.5,933.1 1628.0,937.3 1630.5,946.6 1637.0,974.8 1639.0,982.1 1641.0,988.0 1643.0,992.7 1645.5,996.8 1648.0,999.5 1651.0,1001.4 1654.0,1002.4 1658.5,1003.4 1674.5,1006.2 1681.5,1007.0 1685.5,1006.9 1689.0,1006.4 1692.0,1005.3 1695.0,1003.5 1697.5,1001.3 1700.0,998.3 1702.5,994.6 1705.0,990.0 1709.0,981.0 1718.0,957.9 1721.5,950.6 1723.5,947.5 1725.0,945.8 1727.0,944.5 1728.5,944.3 1730.0,944.8 1732.0,946.4 1733.5,948.3 1735.5,951.6 1739.0,959.3 1747.0,980.2 1751.0,989.5 1753.5,994.4 1755.5,997.7 1758.0,1001.2 1760.5,1003.9 1763.0,1005.9 1766.0,1007.6 1769.0,1008.8 1772.5,1009.6 1776.5,1010.0 1781.0,1010.3 1800.5,1010.4"/>
<path d="M1474.0,1043.6 1506.5,1043.2 1518.5,1042.8 1529.5,1042.1 1547.0,1040.5 1557.0,1039.4 1562.5,1038.2 1566.5,1036.6 1569.5,1034.5 1572.0,1031.9 1574.5,1028.5 1576.5,1025.1 1578.5,1021.1 1581.0,1015.2 1587.5,998.0 1590.0,991.9 1592.5,986.8 1594.5,983.7 1595.5,982.6 1597.0,981.3 1598.0,980.8 1599.0,980.7 1601.0,981.1 1605.0,983.3 1606.5,983.9 1607.5,984.0 1608.5,984.0 1610.0,983.3 1611.5,981.9 1613.5,979.0 1619.0,967.7 1621.0,964.2 1622.0,962.9 1623.0,962.0 1624.5,961.5 1625.5,961.8 1626.0,962.2 1627.0,963.6 1628.0,965.8 1629.5,970.2 1632.0,980.2 1638.5,1009.9 1640.5,1017.3 1642.5,1023.3 1644.5,1027.8 1647.0,1031.8 1649.5,1034.4 1652.5,1036.2 1657.0,1037.8 1665.5,1039.6 1675.0,1041.2 1682.0,1041.8 1686.5,1041.7 1690.5,1041.0 1694.0,1039.7 1697.0,1037.8 1699.5,1035.5 1702.0,1032.6 1704.5,1028.8 1707.0,1024.2 1711.5,1014.1 1720.0,992.3 1723.5,984.8 1725.5,981.6 1727.0,979.9 1729.0,978.4 1730.5,978.1 1732.0,978.5 1734.0,979.9 1735.5,981.7 1737.5,984.9 1741.0,992.4 1749.5,1014.3 1753.5,1023.4 1756.0,1028.2 1758.0,1031.4 1760.0,1034.2 1762.5,1036.9 1765.0,1039.0 1768.0,1040.7 1771.0,1041.9 1774.5,1042.7 1778.5,1043.2 1783.0,1043.5 1800.5,1043.6"/>
<path d="M1474.0,1076.5 1515.0,1076.2 1530.0,1075.7 1548.5,1074.8 1556.5,1074.3 1561.0,1073.8 1565.0,1072.8 1568.0,1071.5 1571.0,1069.3 1573.5,1066.6 1576.0,1063.0 1578.0,1059.3 1580.0,1054.9 1582.0,1049.9 1588.5,1031.3 1591.0,1024.6 1593.5,1019.2 1595.5,1016.0 1596.5,1014.8 1598.0,1013.5 1599.0,1013.1 1600.0,1012.9 1602.0,1013.4 1606.0,1015.6 1608.0,1016.4 1609.0,1016.4 1610.0,1016.3 1611.5,1015.4 1613.0,1013.9 1615.0,1010.9 1620.0,1000.9 1622.0,997.4 1624.0,995.1 1625.5,994.4 1626.5,994.6 1627.0,994.9 1628.0,996.1 1629.0,998.1 1630.5,1002.5 1633.0,1012.8 1639.5,1044.0 1641.5,1051.8 1643.5,1058.0 1645.5,1062.7 1648.0,1066.8 1650.5,1069.4 1653.5,1071.3 1658.0,1072.8 1665.5,1074.3 1674.5,1075.3 1682.5,1075.7 1687.5,1075.5 1692.0,1074.7 1695.5,1073.4 1699.0,1071.2 1701.5,1069.0 1704.0,1066.1 1706.5,1062.4 1709.0,1057.9 1713.5,1047.9 1722.5,1025.0 1726.0,1017.8 1728.0,1014.7 1729.5,1013.1 1731.5,1011.8 1733.0,1011.6 1734.5,1012.1 1736.5,1013.7 1738.0,1015.5 1740.0,1018.8 1743.5,1026.4 1751.5,1046.9 1755.5,1056.0 1758.0,1060.8 1760.0,1064.1 1762.0,1066.9 1764.5,1069.6 1767.0,1071.7 1769.5,1073.3 1772.5,1074.6 1776.0,1075.5 1779.5,1076.0 1784.0,1076.3 1800.5,1076.5"/>
<path d="M1474.0,1109.7 1523.5,1109.1 1555.5,1108.5 1560.0,1108.2 1563.5,1107.7 1566.5,1106.9 1569.0,1105.8 1572.0,1103.7 1574.5,1101.0 1577.0,1097.2 1579.0,1093.3 1581.0,1088.6 1583.0,1083.1 1589.5,1062.9 1592.0,1055.6 1594.5,1049.7 1596.5,1046.3 1598.5,1044.2 1599.5,1043.7 1601.0,1043.4 1603.0,1044.0 1607.5,1046.7 1609.0,1047.3 1610.0,1047.5 1611.0,1047.4 1612.5,1046.8 1614.0,1045.5 1616.0,1042.9 1621.5,1033.0 1623.5,1029.9 1624.5,1028.7 1625.5,1027.9 1627.0,1027.5 1628.0,1027.7 1628.5,1028.1 1629.5,1029.5 1630.5,1031.7 1632.0,1036.5 1634.0,1045.1 1640.5,1077.5 1642.5,1085.5 1644.5,1091.9 1646.5,1096.6 1648.5,1099.9 1651.0,1102.6 1652.5,1103.7 1654.0,1104.4 1656.0,1105.2 1658.5,1105.7 1665.0,1106.5 1675.0,1107.0 1684.5,1107.0 1690.0,1106.5 1694.0,1105.6 1697.5,1104.3 1701.0,1102.2 1704.0,1099.4 1706.5,1096.4 1709.0,1092.6 1711.5,1088.1 1716.0,1078.0 1724.5,1056.4 1728.0,1049.1 1730.0,1045.9 1731.5,1044.2 1733.5,1042.8 1735.0,1042.4 1736.5,1042.8 1738.5,1044.2 1740.0,1045.9 1742.0,1049.1 1745.5,1056.4 1753.5,1076.6 1757.5,1085.7 1760.0,1090.5 1762.0,1093.8 1764.0,1096.6 1766.5,1099.3 1769.0,1101.5 1771.5,1103.0 1774.5,1104.3 1778.0,1105.2 1781.5,1105.7 1786.0,1106.0 1800.5,1106.0"/>
</g>
<g fill="none" stroke="#000" stroke-width="3.7" stroke-linecap="butt">
<path d="M128.2,1140.0 H437.7"/>
<path d="M140.9,1140.0 V1149.0"/>
<path d="M163.5,1140.0 V1149.0"/>
<path d="M186.2,1140.0 V1156.0"/>
<path d="M208.9,1140.0 V1149.0"/>
<path d="M231.5,1140.0 V1149.0"/>
<path d="M254.2,1140.0 V1149.0"/>
<path d="M276.8,1140.0 V1149.0"/>
<path d="M299.5,1140.0 V1156.0"/>
<path d="M322.2,1140.0 V1149.0"/>
<path d="M344.8,1140.0 V1149.0"/>
<path d="M367.5,1140.0 V1149.0"/>
<path d="M390.1,1140.0 V1149.0"/>
<path d="M412.8,1140.0 V1156.0"/>
<path d="M435.5,1140.0 V1149.0"/>
<path d="M545.6,1139.7 H855.5"/>
<path d="M557.9,1139.7 V1148.7"/>
<path d="M580.7,1139.7 V1148.7"/>
<path d="M603.5,1139.7 V1155.7"/>
<path d="M626.3,1139.7 V1148.7"/>
<path d="M649.1,1139.7 V1148.7"/>
<path d="M671.9,1139.7 V1148.7"/>
<path d="M694.7,1139.7 V1148.7"/>
<path d="M717.6,1139.7 V1155.7"/>
<path d="M740.4,1139.7 V1148.7"/>
<path d="M763.2,1139.7 V1148.7"/>
<path d="M786.0,1139.7 V1148.7"/>
<path d="M808.8,1139.7 V1148.7"/>
<path d="M831.6,1139.7 V1155.7"/>
<path d="M854.4,1139.7 V1148.7"/>
<path d="M1020.2,1140.8 H1349.5"/>
<path d="M1022.0,1140.8 V1157.8"/>
<path d="M1043.7,1140.8 V1150.3"/>
<path d="M1065.4,1140.8 V1150.3"/>
<path d="M1087.2,1140.8 V1150.3"/>
<path d="M1108.9,1140.8 V1150.3"/>
<path d="M1130.6,1140.8 V1157.8"/>
<path d="M1152.3,1140.8 V1150.3"/>
<path d="M1174.0,1140.8 V1150.3"/>
<path d="M1195.8,1140.8 V1150.3"/>
<path d="M1217.5,1140.8 V1150.3"/>
<path d="M1239.2,1140.8 V1157.8"/>
<path d="M1260.9,1140.8 V1150.3"/>
<path d="M1282.6,1140.8 V1150.3"/>
<path d="M1304.4,1140.8 V1150.3"/>
<path d="M1326.1,1140.8 V1150.3"/>
<path d="M1347.8,1140.8 V1157.8"/>
<path d="M1469.5,1140.3 H1802.0"/>
<path d="M1471.3,1140.3 V1157.3"/>
<path d="M1493.2,1140.3 V1149.8"/>
<path d="M1515.2,1140.3 V1149.8"/>
<path d="M1537.1,1140.3 V1149.8"/>
<path d="M1559.0,1140.3 V1149.8"/>
<path d="M1581.0,1140.3 V1157.3"/>
<path d="M1602.9,1140.3 V1149.8"/>
<path d="M1624.8,1140.3 V1149.8"/>
<path d="M1646.8,1140.3 V1149.8"/>
<path d="M1668.7,1140.3 V1149.8"/>
<path d="M1690.6,1140.3 V1157.3"/>
<path d="M1712.6,1140.3 V1149.8"/>
<path d="M1734.5,1140.3 V1149.8"/>
<path d="M1756.4,1140.3 V1149.8"/>
<path d="M1778.4,1140.3 V1149.8"/>
<path d="M1800.3,1140.3 V1157.3"/>
</g>
<ellipse cx="613.4" cy="341.7" rx="88" ry="55.8" fill="none" stroke="#ff0000" stroke-width="6"/>
<path d="M543.5,307.6 A88,55.8 0 0,1 573.5,292" fill="none" stroke="#ffc4c4" stroke-width="6.6"/>
<text transform="translate(2.32,60.91) scale(0.8219,1)" font-family="'Liberation Sans', Arial, sans-serif" font-size="39.45" fill="#000" stroke="#000" stroke-width="0.4">a</text>
<text transform="translate(858.34,65.27) scale(0.9602,1)" font-family="'Liberation Sans', Arial, sans-serif" font-size="42.59" fill="#000" stroke="#000" stroke-width="0.4">b</text>
<text transform="translate(170.42,1185.98) scale(1.0000,1)" font-family="'Liberation Sans', Arial, sans-serif" font-size="27.30" fill="#000" stroke="#000" stroke-width="0.4">36</text>
<text transform="translate(588.42,1186.18) scale(1.0000,1)" font-family="'Liberation Sans', Arial, sans-serif" font-size="27.30" fill="#000" stroke="#000" stroke-width="0.4">36</text>
<text transform="translate(283.82,1185.98) scale(1.0000,1)" font-family="'Liberation Sans', Arial, sans-serif" font-size="27.30" fill="#000" stroke="#000" stroke-width="0.4">37</text>
<text transform="translate(702.57,1186.18) scale(1.0000,1)" font-family="'Liberation Sans', Arial, sans-serif" font-size="27.30" fill="#000" stroke="#000" stroke-width="0.4">37</text>
<text transform="translate(397.02,1185.98) scale(1.0000,1)" font-family="'Liberation Sans', Arial, sans-serif" font-size="27.30" fill="#000" stroke="#000" stroke-width="0.4">38</text>
<text transform="translate(816.52,1186.18) scale(1.0000,1)" font-family="'Liberation Sans', Arial, sans-serif" font-size="27.30" fill="#000" stroke="#000" stroke-width="0.4">38</text>
<text transform="translate(1005.30,1190.78) scale(1.0000,1)" font-family="'Liberation Sans', Arial, sans-serif" font-size="29.20" fill="#000" stroke="#000" stroke-width="0.4">42</text>
<text transform="translate(1455.50,1190.98) scale(1.0000,1)" font-family="'Liberation Sans', Arial, sans-serif" font-size="29.20" fill="#000" stroke="#000" stroke-width="0.4">42</text>
<text transform="translate(1113.79,1190.64) scale(1.0000,1)" font-family="'Liberation Sans', Arial, sans-serif" font-size="29.20" fill="#000" stroke="#000" stroke-width="0.4">43</text>
<text transform="translate(1565.06,1190.84) scale(1.0000,1)" font-family="'Liberation Sans', Arial, sans-serif" font-size="29.20" fill="#000" stroke="#000" stroke-width="0.4">43</text>
<text transform="translate(1222.17,1190.64) scale(1.0000,1)" font-family="'Liberation Sans', Arial, sans-serif" font-size="29.20" fill="#000" stroke="#000" stroke-width="0.4">44</text>
<text transform="translate(1674.51,1190.84) scale(1.0000,1)" font-family="'Liberation Sans', Arial, sans-serif" font-size="29.20" fill="#000" stroke="#000" stroke-width="0.4">44</text>
<text transform="translate(1330.95,1190.49) scale(1.0000,1)" font-family="'Liberation Sans', Arial, sans-serif" font-size="29.20" fill="#000" stroke="#000" stroke-width="0.4">45</text>
<text transform="translate(1784.36,1190.69) scale(1.0000,1)" font-family="'Liberation Sans', Arial, sans-serif" font-size="29.20" fill="#000" stroke="#000" stroke-width="0.4">45</text>
<text transform="translate(142.35,1217.00) scale(1.0075,1)" font-family="'Liberation Sans', Arial, sans-serif" font-size="27.50" fill="#000" stroke="#000" stroke-width="0.4">Scattering angle (deg.)</text>
<text transform="translate(559.24,1216.60) scale(1.0158,1)" font-family="'Liberation Sans', Arial, sans-serif" font-size="27.50" fill="#000" stroke="#000" stroke-width="0.4">Scattering angle (deg.)</text>
<text transform="translate(1035.27,1223.60) scale(1.0398,1)" font-family="'Liberation Sans', Arial, sans-serif" font-size="28.50" fill="#000" stroke="#000" stroke-width="0.4">Scattering angle (deg.)</text>
<text transform="translate(1484.85,1223.60) scale(1.0506,1)" font-family="'Liberation Sans', Arial, sans-serif" font-size="28.50" fill="#000" stroke="#000" stroke-width="0.4">Scattering angle (deg.)</text>
<text transform="translate(23.41,649.71) scale(0.9898,1) rotate(-90)" font-family="'Liberation Sans', Arial, sans-serif" font-size="27.19" fill="#000" stroke="#000" stroke-width="0.4">Temperature (°C)</text>
<text transform="translate(907.28,650.83) scale(0.9224,1) rotate(-90)" font-family="'Liberation Sans', Arial, sans-serif" font-size="27.79" fill="#000" stroke="#000" stroke-width="0.4">Temperature (°C)</text>
<text transform="translate(52.27,194.95) scale(1.0000,1)" font-family="'Liberation Sans', Arial, sans-serif" font-size="27.50" fill="#000" stroke="#000" stroke-width="0.4">930</text>
<text transform="translate(52.34,225.45) scale(1.0000,1)" font-family="'Liberation Sans', Arial, sans-serif" font-size="27.50" fill="#000" stroke="#000" stroke-width="0.4">925</text>
<text transform="translate(52.27,258.45) scale(1.0000,1)" font-family="'Liberation Sans', Arial, sans-serif" font-size="27.50" fill="#000" stroke="#000" stroke-width="0.4">920</text>
<text transform="translate(52.27,289.45) scale(1.0000,1)" font-family="'Liberation Sans', Arial, sans-serif" font-size="27.50" fill="#000" stroke="#000" stroke-width="0.4">910</text>
<text transform="translate(52.27,318.45) scale(1.0000,1)" font-family="'Liberation Sans', Arial, sans-serif" font-size="27.50" fill="#000" stroke="#000" stroke-width="0.4">880</text>
<text transform="translate(52.27,348.95) scale(1.0000,1)" font-family="'Liberation Sans', Arial, sans-serif" font-size="27.50" fill="#000" stroke="#000" stroke-width="0.4">850</text>
<text transform="translate(52.27,379.45) scale(1.0000,1)" font-family="'Liberation Sans', Arial, sans-serif" font-size="27.50" fill="#000" stroke="#000" stroke-width="0.4">820</text>
<text transform="translate(52.27,410.15) scale(1.0000,1)" font-family="'Liberation Sans', Arial, sans-serif" font-size="27.50" fill="#000" stroke="#000" stroke-width="0.4">790</text>
<text transform="translate(52.27,441.45) scale(1.0000,1)" font-family="'Liberation Sans', Arial, sans-serif" font-size="27.50" fill="#000" stroke="#000" stroke-width="0.4">760</text>
<text transform="translate(52.27,471.95) scale(1.0000,1)" font-family="'Liberation Sans', Arial, sans-serif" font-size="27.50" fill="#000" stroke="#000" stroke-width="0.4">730</text>
<text transform="translate(52.27,503.15) scale(1.0000,1)" font-family="'Liberation Sans', Arial, sans-serif" font-size="27.50" fill="#000" stroke="#000" stroke-width="0.4">700</text>
<text transform="translate(52.27,532.45) scale(1.0000,1)" font-family="'Liberation Sans', Arial, sans-serif" font-size="27.50" fill="#000" stroke="#000" stroke-width="0.4">670</text>
<text transform="translate(52.27,563.45) scale(1.0000,1)" font-family="'Liberation Sans', Arial, sans-serif" font-size="27.50" fill="#000" stroke="#000" stroke-width="0.4">640</text>
<text transform="translate(52.27,594.45) scale(1.0000,1)" font-family="'Liberation Sans', Arial, sans-serif" font-size="27.50" fill="#000" stroke="#000" stroke-width="0.4">610</text>
<text transform="translate(52.27,624.45) scale(1.0000,1)" font-family="'Liberation Sans', Arial, sans-serif" font-size="27.50" fill="#000" stroke="#000" stroke-width="0.4">580</text>
<text transform="translate(52.27,654.95) scale(1.0000,1)" font-family="'Liberation Sans', Arial, sans-serif" font-size="27.50" fill="#000" stroke="#000" stroke-width="0.4">550</text>
<text transform="translate(52.27,686.45) scale(1.0000,1)" font-family="'Liberation Sans', Arial, sans-serif" font-size="27.50" fill="#000" stroke="#000" stroke-width="0.4">520</text>
<text transform="translate(52.27,716.45) scale(1.0000,1)" font-family="'Liberation Sans', Arial, sans-serif" font-size="27.50" fill="#000" stroke="#000" stroke-width="0.4">490</text>
<text transform="translate(52.27,746.95) scale(1.0000,1)" font-family="'Liberation Sans', Arial, sans-serif" font-size="27.50" fill="#000" stroke="#000" stroke-width="0.4">460</text>
<text transform="translate(52.27,776.75) scale(1.0000,1)" font-family="'Liberation Sans', Arial, sans-serif" font-size="27.50" fill="#000" stroke="#000" stroke-width="0.4">430</text>
<text transform="translate(52.27,809.45) scale(1.0000,1)" font-family="'Liberation Sans', Arial, sans-serif" font-size="27.50" fill="#000" stroke="#000" stroke-width="0.4">400</text>
<text transform="translate(52.27,840.45) scale(1.0000,1)" font-family="'Liberation Sans', Arial, sans-serif" font-size="27.50" fill="#000" stroke="#000" stroke-width="0.4">370</text>
<text transform="translate(52.27,871.85) scale(1.0000,1)" font-family="'Liberation Sans', Arial, sans-serif" font-size="27.50" fill="#000" stroke="#000" stroke-width="0.4">340</text>
<text transform="translate(52.27,902.25) scale(1.0000,1)" font-family="'Liberation Sans', Arial, sans-serif" font-size="27.50" fill="#000" stroke="#000" stroke-width="0.4">310</text>
<text transform="translate(52.27,935.45) scale(1.0000,1)" font-family="'Liberation Sans', Arial, sans-serif" font-size="27.50" fill="#000" stroke="#000" stroke-width="0.4">280</text>
<text transform="translate(52.27,966.45) scale(1.0000,1)" font-family="'Liberation Sans', Arial, sans-serif" font-size="27.50" fill="#000" stroke="#000" stroke-width="0.4">250</text>
<text transform="translate(52.27,997.15) scale(1.0000,1)" font-family="'Liberation Sans', Arial, sans-serif" font-size="27.50" fill="#000" stroke="#000" stroke-width="0.4">220</text>
<text transform="translate(52.27,1026.15) scale(1.0000,1)" font-family="'Liberation Sans', Arial, sans-serif" font-size="27.50" fill="#000" stroke="#000" stroke-width="0.4">190</text>
<text transform="translate(52.27,1057.35) scale(1.0000,1)" font-family="'Liberation Sans', Arial, sans-serif" font-size="27.50" fill="#000" stroke="#000" stroke-width="0.4">160</text>
<text transform="translate(52.27,1088.45) scale(1.0000,1)" font-family="'Liberation Sans', Arial, sans-serif" font-size="27.50" fill="#000" stroke="#000" stroke-width="0.4">130</text>
<text transform="translate(52.27,1119.45) scale(1.0000,1)" font-family="'Liberation Sans', Arial, sans-serif" font-size="27.50" fill="#000" stroke="#000" stroke-width="0.4">100</text>
<text transform="translate(469.38,344.45) scale(1.0000,1)" font-family="'Liberation Sans', Arial, sans-serif" font-size="27.50" fill="#000" stroke="#000" stroke-width="0.4">850</text>
<text transform="translate(469.38,373.75) scale(1.0000,1)" font-family="'Liberation Sans', Arial, sans-serif" font-size="27.50" fill="#000" stroke="#000" stroke-width="0.4">820</text>
<text transform="translate(469.38,404.15) scale(1.0000,1)" font-family="'Liberation Sans', Arial, sans-serif" font-size="27.50" fill="#000" stroke="#000" stroke-width="0.4">790</text>
<text transform="translate(469.38,437.85) scale(1.0000,1)" font-family="'Liberation Sans', Arial, sans-serif" font-size="27.50" fill="#000" stroke="#000" stroke-width="0.4">760</text>
<text transform="translate(469.38,468.95) scale(1.0000,1)" font-family="'Liberation Sans', Arial, sans-serif" font-size="27.50" fill="#000" stroke="#000" stroke-width="0.4">730</text>
<text transform="translate(469.38,500.05) scale(1.0000,1)" font-family="'Liberation Sans', Arial, sans-serif" font-size="27.50" fill="#000" stroke="#000" stroke-width="0.4">700</text>
<text transform="translate(469.38,528.55) scale(1.0000,1)" font-family="'Liberation Sans', Arial, sans-serif" font-size="27.50" fill="#000" stroke="#000" stroke-width="0.4">670</text>
<text transform="translate(469.38,561.05) scale(1.0000,1)" font-family="'Liberation Sans', Arial, sans-serif" font-size="27.50" fill="#000" stroke="#000" stroke-width="0.4">640</text>
<text transform="translate(469.38,592.15) scale(1.0000,1)" font-family="'Liberation Sans', Arial, sans-serif" font-size="27.50" fill="#000" stroke="#000" stroke-width="0.4">610</text>
<text transform="translate(469.38,622.75) scale(1.0000,1)" font-family="'Liberation Sans', Arial, sans-serif" font-size="27.50" fill="#000" stroke="#000" stroke-width="0.4">580</text>
<text transform="translate(469.38,651.35) scale(1.0000,1)" font-family="'Liberation Sans', Arial, sans-serif" font-size="27.50" fill="#000" stroke="#000" stroke-width="0.4">550</text>
<text transform="translate(469.38,685.05) scale(1.0000,1)" font-family="'Liberation Sans', Arial, sans-serif" font-size="27.50" fill="#000" stroke="#000" stroke-width="0.4">520</text>
<text transform="translate(469.38,715.65) scale(1.0000,1)" font-family="'Liberation Sans', Arial, sans-serif" font-size="27.50" fill="#000" stroke="#000" stroke-width="0.4">490</text>
<text transform="translate(469.38,745.95) scale(1.0000,1)" font-family="'Liberation Sans', Arial, sans-serif" font-size="27.50" fill="#000" stroke="#000" stroke-width="0.4">460</text>
<text transform="translate(469.38,774.45) scale(1.0000,1)" font-family="'Liberation Sans', Arial, sans-serif" font-size="27.50" fill="#000" stroke="#000" stroke-width="0.4">430</text>
<text transform="translate(469.38,806.95) scale(1.0000,1)" font-family="'Liberation Sans', Arial, sans-serif" font-size="27.50" fill="#000" stroke="#000" stroke-width="0.4">400</text>
<text transform="translate(469.38,838.05) scale(1.0000,1)" font-family="'Liberation Sans', Arial, sans-serif" font-size="27.50" fill="#000" stroke="#000" stroke-width="0.4">370</text>
<text transform="translate(469.38,869.15) scale(1.0000,1)" font-family="'Liberation Sans', Arial, sans-serif" font-size="27.50" fill="#000" stroke="#000" stroke-width="0.4">340</text>
<text transform="translate(469.38,900.85) scale(1.0000,1)" font-family="'Liberation Sans', Arial, sans-serif" font-size="27.50" fill="#000" stroke="#000" stroke-width="0.4">310</text>
<text transform="translate(469.38,933.95) scale(1.0000,1)" font-family="'Liberation Sans', Arial, sans-serif" font-size="27.50" fill="#000" stroke="#000" stroke-width="0.4">280</text>
<text transform="translate(469.38,963.75) scale(1.0000,1)" font-family="'Liberation Sans', Arial, sans-serif" font-size="27.50" fill="#000" stroke="#000" stroke-width="0.4">250</text>
<text transform="translate(469.38,994.85) scale(1.0000,1)" font-family="'Liberation Sans', Arial, sans-serif" font-size="27.50" fill="#000" stroke="#000" stroke-width="0.4">220</text>
<text transform="translate(469.38,1024.65) scale(1.0000,1)" font-family="'Liberation Sans', Arial, sans-serif" font-size="27.50" fill="#000" stroke="#000" stroke-width="0.4">190</text>
<text transform="translate(469.38,1057.05) scale(1.0000,1)" font-family="'Liberation Sans', Arial, sans-serif" font-size="27.50" fill="#000" stroke="#000" stroke-width="0.4">160</text>
<text transform="translate(469.38,1086.95) scale(1.0000,1)" font-family="'Liberation Sans', Arial, sans-serif" font-size="27.50" fill="#000" stroke="#000" stroke-width="0.4">130</text>
<text transform="translate(469.38,1116.75) scale(1.0000,1)" font-family="'Liberation Sans', Arial, sans-serif" font-size="27.50" fill="#000" stroke="#000" stroke-width="0.4">100</text>
<text transform="translate(940.29,139.20) scale(1.0100,1)" font-family="'Liberation Sans', Arial, sans-serif" font-size="28.80" fill="#000" stroke="#000" stroke-width="0.4">930</text>
<text transform="translate(940.36,172.40) scale(1.0100,1)" font-family="'Liberation Sans', Arial, sans-serif" font-size="28.80" fill="#000" stroke="#000" stroke-width="0.4">925</text>
<text transform="translate(940.29,207.20) scale(1.0100,1)" font-family="'Liberation Sans', Arial, sans-serif" font-size="28.80" fill="#000" stroke="#000" stroke-width="0.4">920</text>
<text transform="translate(940.29,241.40) scale(1.0100,1)" font-family="'Liberation Sans', Arial, sans-serif" font-size="28.80" fill="#000" stroke="#000" stroke-width="0.4">910</text>
<text transform="translate(940.29,272.80) scale(1.0100,1)" font-family="'Liberation Sans', Arial, sans-serif" font-size="28.80" fill="#000" stroke="#000" stroke-width="0.4">880</text>
<text transform="translate(940.29,303.10) scale(1.0100,1)" font-family="'Liberation Sans', Arial, sans-serif" font-size="28.80" fill="#000" stroke="#000" stroke-width="0.4">850</text>
<text transform="translate(940.29,334.20) scale(1.0100,1)" font-family="'Liberation Sans', Arial, sans-serif" font-size="28.80" fill="#000" stroke="#000" stroke-width="0.4">820</text>
<text transform="translate(940.29,366.60) scale(1.0100,1)" font-family="'Liberation Sans', Arial, sans-serif" font-size="28.80" fill="#000" stroke="#000" stroke-width="0.4">790</text>
<text transform="translate(940.29,401.70) scale(1.0100,1)" font-family="'Liberation Sans', Arial, sans-serif" font-size="28.80" fill="#000" stroke="#000" stroke-width="0.4">760</text>
<text transform="translate(940.29,435.80) scale(1.0100,1)" font-family="'Liberation Sans', Arial, sans-serif" font-size="28.80" fill="#000" stroke="#000" stroke-width="0.4">730</text>
<text transform="translate(940.29,468.30) scale(1.0100,1)" font-family="'Liberation Sans', Arial, sans-serif" font-size="28.80" fill="#000" stroke="#000" stroke-width="0.4">700</text>
<text transform="translate(940.29,498.10) scale(1.0100,1)" font-family="'Liberation Sans', Arial, sans-serif" font-size="28.80" fill="#000" stroke="#000" stroke-width="0.4">670</text>
<text transform="translate(940.29,533.10) scale(1.0100,1)" font-family="'Liberation Sans', Arial, sans-serif" font-size="28.80" fill="#000" stroke="#000" stroke-width="0.4">640</text>
<text transform="translate(940.29,565.50) scale(1.0100,1)" font-family="'Liberation Sans', Arial, sans-serif" font-size="28.80" fill="#000" stroke="#000" stroke-width="0.4">610</text>
<text transform="translate(940.29,597.90) scale(1.0100,1)" font-family="'Liberation Sans', Arial, sans-serif" font-size="28.80" fill="#000" stroke="#000" stroke-width="0.4">580</text>
<text transform="translate(940.29,629.00) scale(1.0100,1)" font-family="'Liberation Sans', Arial, sans-serif" font-size="28.80" fill="#000" stroke="#000" stroke-width="0.4">550</text>
<text transform="translate(940.29,664.00) scale(1.0100,1)" font-family="'Liberation Sans', Arial, sans-serif" font-size="28.80" fill="#000" stroke="#000" stroke-width="0.4">520</text>
<text transform="translate(940.29,697.80) scale(1.0100,1)" font-family="'Liberation Sans', Arial, sans-serif" font-size="28.80" fill="#000" stroke="#000" stroke-width="0.4">490</text>
<text transform="translate(940.29,730.60) scale(1.0100,1)" font-family="'Liberation Sans', Arial, sans-serif" font-size="28.80" fill="#000" stroke="#000" stroke-width="0.4">460</text>
<text transform="translate(940.29,760.50) scale(1.0100,1)" font-family="'Liberation Sans', Arial, sans-serif" font-size="28.80" fill="#000" stroke="#000" stroke-width="0.4">430</text>
<text transform="translate(940.29,794.90) scale(1.0100,1)" font-family="'Liberation Sans', Arial, sans-serif" font-size="28.80" fill="#000" stroke="#000" stroke-width="0.4">400</text>
<text transform="translate(940.29,827.90) scale(1.0100,1)" font-family="'Liberation Sans', Arial, sans-serif" font-size="28.80" fill="#000" stroke="#000" stroke-width="0.4">370</text>
<text transform="translate(940.29,860.30) scale(1.0100,1)" font-family="'Liberation Sans', Arial, sans-serif" font-size="28.80" fill="#000" stroke="#000" stroke-width="0.4">340</text>
<text transform="translate(940.29,892.70) scale(1.0100,1)" font-family="'Liberation Sans', Arial, sans-serif" font-size="28.80" fill="#000" stroke="#000" stroke-width="0.4">310</text>
<text transform="translate(940.29,927.70) scale(1.0100,1)" font-family="'Liberation Sans', Arial, sans-serif" font-size="28.80" fill="#000" stroke="#000" stroke-width="0.4">280</text>
<text transform="translate(940.29,960.90) scale(1.0100,1)" font-family="'Liberation Sans', Arial, sans-serif" font-size="28.80" fill="#000" stroke="#000" stroke-width="0.4">250</text>
<text transform="translate(940.29,994.30) scale(1.0100,1)" font-family="'Liberation Sans', Arial, sans-serif" font-size="28.80" fill="#000" stroke="#000" stroke-width="0.4">220</text>
<text transform="translate(940.29,1024.30) scale(1.0100,1)" font-family="'Liberation Sans', Arial, sans-serif" font-size="28.80" fill="#000" stroke="#000" stroke-width="0.4">190</text>
<text transform="translate(940.29,1058.70) scale(1.0100,1)" font-family="'Liberation Sans', Arial, sans-serif" font-size="28.80" fill="#000" stroke="#000" stroke-width="0.4">160</text>
<text transform="translate(940.29,1092.00) scale(1.0100,1)" font-family="'Liberation Sans', Arial, sans-serif" font-size="28.80" fill="#000" stroke="#000" stroke-width="0.4">130</text>
<text transform="translate(940.29,1125.30) scale(1.0100,1)" font-family="'Liberation Sans', Arial, sans-serif" font-size="28.80" fill="#000" stroke="#000" stroke-width="0.4">100</text>
<text transform="translate(1390.99,293.80) scale(1.0100,1)" font-family="'Liberation Sans', Arial, sans-serif" font-size="28.80" fill="#000" stroke="#000" stroke-width="0.4">850</text>
<text transform="translate(1390.99,324.90) scale(1.0100,1)" font-family="'Liberation Sans', Arial, sans-serif" font-size="28.80" fill="#000" stroke="#000" stroke-width="0.4">820</text>
<text transform="translate(1390.99,359.40) scale(1.0100,1)" font-family="'Liberation Sans', Arial, sans-serif" font-size="28.80" fill="#000" stroke="#000" stroke-width="0.4">790</text>
<text transform="translate(1390.99,393.90) scale(1.0100,1)" font-family="'Liberation Sans', Arial, sans-serif" font-size="28.80" fill="#000" stroke="#000" stroke-width="0.4">760</text>
<text transform="translate(1390.99,426.80) scale(1.0100,1)" font-family="'Liberation Sans', Arial, sans-serif" font-size="28.80" fill="#000" stroke="#000" stroke-width="0.4">730</text>
<text transform="translate(1390.99,460.50) scale(1.0100,1)" font-family="'Liberation Sans', Arial, sans-serif" font-size="28.80" fill="#000" stroke="#000" stroke-width="0.4">700</text>
<text transform="translate(1390.99,490.30) scale(1.0100,1)" font-family="'Liberation Sans', Arial, sans-serif" font-size="28.80" fill="#000" stroke="#000" stroke-width="0.4">670</text>
<text transform="translate(1390.99,525.30) scale(1.0100,1)" font-family="'Liberation Sans', Arial, sans-serif" font-size="28.80" fill="#000" stroke="#000" stroke-width="0.4">640</text>
<text transform="translate(1390.99,559.10) scale(1.0100,1)" font-family="'Liberation Sans', Arial, sans-serif" font-size="28.80" fill="#000" stroke="#000" stroke-width="0.4">610</text>
<text transform="translate(1390.99,592.70) scale(1.0100,1)" font-family="'Liberation Sans', Arial, sans-serif" font-size="28.80" fill="#000" stroke="#000" stroke-width="0.4">580</text>
<text transform="translate(1390.99,623.10) scale(1.0100,1)" font-family="'Liberation Sans', Arial, sans-serif" font-size="28.80" fill="#000" stroke="#000" stroke-width="0.4">550</text>
<text transform="translate(1390.99,658.60) scale(1.0100,1)" font-family="'Liberation Sans', Arial, sans-serif" font-size="28.80" fill="#000" stroke="#000" stroke-width="0.4">520</text>
<text transform="translate(1390.99,691.80) scale(1.0100,1)" font-family="'Liberation Sans', Arial, sans-serif" font-size="28.80" fill="#000" stroke="#000" stroke-width="0.4">490</text>
<text transform="translate(1390.99,725.00) scale(1.0100,1)" font-family="'Liberation Sans', Arial, sans-serif" font-size="28.80" fill="#000" stroke="#000" stroke-width="0.4">460</text>
<text transform="translate(1390.99,755.30) scale(1.0100,1)" font-family="'Liberation Sans', Arial, sans-serif" font-size="28.80" fill="#000" stroke="#000" stroke-width="0.4">430</text>
<text transform="translate(1390.99,790.30) scale(1.0100,1)" font-family="'Liberation Sans', Arial, sans-serif" font-size="28.80" fill="#000" stroke="#000" stroke-width="0.4">400</text>
<text transform="translate(1390.99,823.50) scale(1.0100,1)" font-family="'Liberation Sans', Arial, sans-serif" font-size="28.80" fill="#000" stroke="#000" stroke-width="0.4">370</text>
<text transform="translate(1390.99,856.50) scale(1.0100,1)" font-family="'Liberation Sans', Arial, sans-serif" font-size="28.80" fill="#000" stroke="#000" stroke-width="0.4">340</text>
<text transform="translate(1390.99,890.10) scale(1.0100,1)" font-family="'Liberation Sans', Arial, sans-serif" font-size="28.80" fill="#000" stroke="#000" stroke-width="0.4">310</text>
<text transform="translate(1390.99,924.40) scale(1.0100,1)" font-family="'Liberation Sans', Arial, sans-serif" font-size="28.80" fill="#000" stroke="#000" stroke-width="0.4">280</text>
<text transform="translate(1390.99,958.10) scale(1.0100,1)" font-family="'Liberation Sans', Arial, sans-serif" font-size="28.80" fill="#000" stroke="#000" stroke-width="0.4">250</text>
<text transform="translate(1390.99,990.50) scale(1.0100,1)" font-family="'Liberation Sans', Arial, sans-serif" font-size="28.80" fill="#000" stroke="#000" stroke-width="0.4">220</text>
<text transform="translate(1390.99,1021.60) scale(1.0100,1)" font-family="'Liberation Sans', Arial, sans-serif" font-size="28.80" fill="#000" stroke="#000" stroke-width="0.4">190</text>
<text transform="translate(1390.99,1055.30) scale(1.0100,1)" font-family="'Liberation Sans', Arial, sans-serif" font-size="28.80" fill="#000" stroke="#000" stroke-width="0.4">160</text>
<text transform="translate(1390.99,1090.30) scale(1.0100,1)" font-family="'Liberation Sans', Arial, sans-serif" font-size="28.80" fill="#000" stroke="#000" stroke-width="0.4">130</text>
<text transform="translate(1390.99,1122.80) scale(1.0100,1)" font-family="'Liberation Sans', Arial, sans-serif" font-size="28.80" fill="#000" stroke="#000" stroke-width="0.4">100</text>
<text transform="translate(359.04,1133.30) scale(1.0456,1)" font-family="'Liberation Serif', 'Times New Roman', serif" font-size="44.30" fill="#000" stroke="#000" stroke-width="0.4">tube</text>
<text transform="translate(762.74,1125.00) scale(1.0483,1)" font-family="'Liberation Serif', 'Times New Roman', serif" font-size="44.30" fill="#000" stroke="#000" stroke-width="0.4">tube</text>
<text transform="translate(1129.74,1132.20) scale(1.0469,1)" font-family="'Liberation Serif', 'Times New Roman', serif" font-size="44.30" fill="#000" stroke="#000" stroke-width="0.4">tube</text>
<text transform="translate(1570.84,1133.70) scale(1.0483,1)" font-family="'Liberation Serif', 'Times New Roman', serif" font-size="44.30" fill="#000" stroke="#000" stroke-width="0.4">tube</text>
<text transform="translate(89.34,144.41) scale(1.0587,1)" font-family="'Liberation Serif', 'Times New Roman', serif" font-size="39.01" fill="#000" stroke="#000" stroke-width="0.4">(101)</text>
<text transform="translate(617.62,265.04) scale(1.1177,1)" font-family="'Liberation Serif', 'Times New Roman', serif" font-size="37.47" fill="#000" stroke="#000" stroke-width="0.4">(101)</text>
<text transform="translate(555.47,743.33) scale(1.0105,1)" font-family="'Liberation Serif', 'Times New Roman', serif" font-size="40.33" fill="#000" stroke="#000" stroke-width="0.4">(111) NiO</text>
<text transform="translate(1207.62,88.87) scale(1.0926,1)" font-family="'Liberation Serif', 'Times New Roman', serif" font-size="38.24" fill="#000" stroke="#000" stroke-width="0.4">(104)</text>
<text transform="translate(1671.12,250.53) scale(1.0778,1)" font-family="'Liberation Serif', 'Times New Roman', serif" font-size="38.90" fill="#000" stroke="#000" stroke-width="0.4">(104)</text>
<text transform="translate(1649.90,645.17) scale(1.0083,1)" font-family="'Liberation Serif', 'Times New Roman', serif" font-size="39.67" fill="#000" stroke="#000" stroke-width="0.4">(111) Ni</text>
<text transform="translate(260.15,495.60) scale(1.0028,1) rotate(-90)" font-family="'Liberation Serif', 'Times New Roman', serif" font-size="40.11" fill="#ff0000" stroke="#ff0000" stroke-width="0.4">006 overlapping</text>
<text transform="translate(308.33,494.10) scale(0.9183,1) rotate(-90)" font-family="'Liberation Serif', 'Times New Roman', serif" font-size="40.16" fill="#ff0000" stroke="#ff0000" stroke-width="0.4">with tube</text>
<text transform="translate(494.20,295.07) scale(1.0362,1) rotate(-90)" font-family="'Liberation Serif', 'Times New Roman', serif" font-size="38.75" fill="#ff0000" stroke="#ff0000" stroke-width="0.4">Reaction</text>
<text transform="translate(494.24,141.95) scale(0.8450,1) rotate(-90)" font-family="'Liberation Serif', 'Times New Roman', serif" font-size="42.40" fill="#ff0000" stroke="#ff0000" stroke-width="0.4">not</text>
<text transform="translate(543.69,295.50) scale(1.0279,1) rotate(-90)" font-family="'Liberation Serif', 'Times New Roman', serif" font-size="39.88" fill="#ff0000" stroke="#ff0000" stroke-width="0.4">completed</text>
<text transform="translate(65.57,51.40) scale(1.0315,1)" font-family="'Liberation Serif', 'Times New Roman', serif" font-size="40.00" fill="#000" stroke="#000" stroke-width="0.4"><tspan>Ni</tspan><tspan font-size="26.00" dy="8.00">0.7</tspan><tspan dy="-8.00">Mn</tspan><tspan font-size="26.00" dy="8.00">0.3</tspan><tspan dy="-8.00">(OH)</tspan><tspan font-size="26.00" dy="8.00">2</tspan></text>
<text transform="translate(66.66,100.90) scale(1.0225,1)" font-family="'Liberation Serif', 'Times New Roman', serif" font-size="40.00" fill="#000" stroke="#000" stroke-width="0.4"><tspan>+LiOH·H</tspan><tspan font-size="26.00" dy="8.00">2</tspan><tspan dy="-8.00">O</tspan></text>
<text transform="translate(917.48,40.00) scale(1.0558,1)" font-family="'Liberation Serif', 'Times New Roman', serif" font-size="38.50" fill="#000" stroke="#000" stroke-width="0.4"><tspan>Ni</tspan><tspan font-size="25.50" dy="8.00">0.7</tspan><tspan dy="-8.00">Mn</tspan><tspan font-size="25.50" dy="8.00">0.3</tspan><tspan dy="-8.00">(OH)</tspan><tspan font-size="25.50" dy="8.00">2</tspan></text>
<text transform="translate(916.55,89.30) scale(1.0662,1)" font-family="'Liberation Serif', 'Times New Roman', serif" font-size="38.50" fill="#000" stroke="#000" stroke-width="0.4"><tspan>+LiOH·H</tspan><tspan font-size="25.50" dy="8.00">2</tspan><tspan dy="-8.00">O</tspan></text>
<text transform="translate(575.18,43.00) scale(1.0147,1)" font-family="'Liberation Serif', 'Times New Roman', serif" font-size="40.30" fill="#000" stroke="#000" stroke-width="0.4"><tspan>Ni+MnCO</tspan><tspan font-size="26.00" dy="7.50">3</tspan><tspan dy="-7.50">+</tspan></text>
<text transform="translate(575.88,92.50) scale(1.0100,1)" font-family="'Liberation Serif', 'Times New Roman', serif" font-size="40.30" fill="#000" stroke="#000" stroke-width="0.4"><tspan>LiOH·H</tspan><tspan font-size="26.00" dy="8.00">2</tspan><tspan dy="-8.00">O</tspan></text>
<text transform="translate(1384.78,121.50) scale(1.0280,1)" font-family="'Liberation Serif', 'Times New Roman', serif" font-size="39.60" fill="#000" stroke="#000" stroke-width="0.4"><tspan>Ni+MnCO</tspan><tspan font-size="26.00" dy="8.00">3</tspan><tspan dy="-8.00">+LiOH·H</tspan><tspan font-size="26.00" dy="8.00">2</tspan><tspan dy="-8.00">O</tspan></text>
</svg></body></html>
